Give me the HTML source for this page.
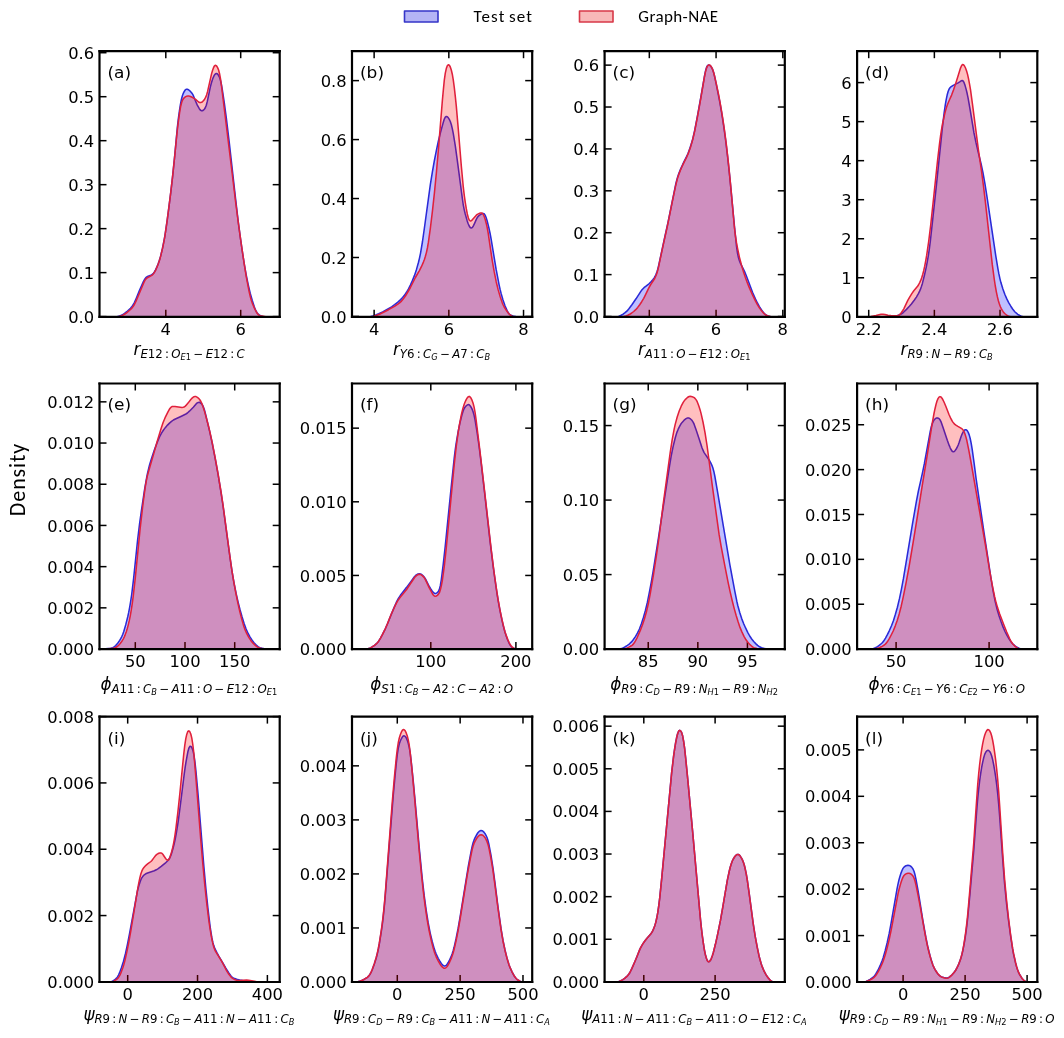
<!DOCTYPE html>
<html><head><meta charset="utf-8"><title>Density plots</title>
<style>html,body{margin:0;padding:0;background:#fff;}body{width:1064px;height:1038px;overflow:hidden;}svg{display:block;}</style>
</head><body>
<svg width="1064" height="1038" viewBox="0 0 1064 1038" version="1.1">
 
 <defs>
  <style type="text/css">*{stroke-linejoin: round; stroke-linecap: butt}</style>
 </defs>
 <g id="figure_1">
  <g id="patch_1">
   <path d="M 0 1038 L 1064 1038 L 1064 0 L 0 0 z" style="fill: #ffffff"/>
  </g>
  <g id="axes_1">
   <g id="patch_2">
    <path d="M 99.5 316.8 L 279.7 316.8 L 279.7 51.2 L 99.5 51.2 z" style="fill: #ffffff"/>
   </g>
   <g id="patch_3">
    <path d="M 110.5 316.8 L 116.5 316.5 L 117.5 316.4 L 118.5 316.3 L 119.5 316 L 120.5 315.7 L 121.5 315.2 L 122.5 314.7 L 123.5 314.1 L 124.5 313.4 L 125.5 312.7 L 126.5 311.9 L 127.5 311 L 128.5 310.1 L 129.5 309.2 L 130.5 308.2 L 131.5 307.1 L 132.5 305.8 L 133.5 304.3 L 134.5 302.3 L 135.5 300.1 L 136.5 297.7 L 137.5 295.3 L 138.5 292.8 L 139.5 290.4 L 140.5 288.2 L 141.5 285.9 L 142.5 283.6 L 143.5 281.4 L 144.5 279.5 L 145.5 278.1 L 146.5 277.1 L 147.5 276.5 L 148.5 276.1 L 149.5 275.7 L 150.5 275.3 L 151.5 274.9 L 152.5 274.2 L 153.4 273.3 L 154.4 272 L 155.4 270.2 L 156.4 268.2 L 157.4 265.9 L 158.4 263.3 L 159.4 260.3 L 160.4 256.9 L 161.4 253 L 162.4 248.7 L 163.4 243.9 L 164.4 238.6 L 165.4 232.7 L 166.4 226 L 167.4 218.8 L 168.4 211.3 L 169.4 203.5 L 170.4 195.5 L 171.4 187.2 L 172.4 178.4 L 173.4 169.1 L 174.4 159 L 175.4 148.1 L 176.4 137.2 L 177.4 127.1 L 178.4 118.4 L 179.4 111 L 180.4 104.6 L 181.4 99.5 L 182.4 95.8 L 183.4 93.1 L 184.4 91.2 L 185.4 89.8 L 186.4 89.2 L 187.4 89.3 L 188.4 89.7 L 189.4 90.5 L 190.4 91.4 L 191.4 92.5 L 192.4 93.9 L 193.4 95.7 L 194.3 98 L 195.3 100.5 L 196.3 103 L 197.3 105.1 L 198.3 107 L 199.3 108.7 L 200.3 110 L 201.3 110.7 L 202.3 110.8 L 203.3 110.3 L 204.3 109.2 L 205.3 107.7 L 206.3 105.2 L 207.3 101.4 L 208.3 96.6 L 209.3 91.5 L 210.3 87.1 L 211.3 83.3 L 212.3 80 L 213.3 77.3 L 214.3 75.2 L 215.3 74 L 216.3 73.5 L 217.3 73.8 L 218.3 75 L 219.3 76.8 L 220.3 79.7 L 221.3 83.9 L 222.3 89.6 L 223.3 96.1 L 224.3 102.9 L 225.3 110.2 L 226.3 117.8 L 227.3 125.9 L 228.3 134.3 L 229.3 142.8 L 230.3 151.5 L 231.3 160.4 L 232.3 169.5 L 233.3 178.6 L 234.3 187.6 L 235.3 196.3 L 236.2 204.8 L 237.2 213.1 L 238.2 221.3 L 239.2 229.1 L 240.2 236.6 L 241.2 243.8 L 242.2 250.6 L 243.2 257.2 L 244.2 263.5 L 245.2 269.4 L 246.2 274.8 L 247.2 279.9 L 248.2 284.6 L 249.2 289.1 L 250.2 293.2 L 251.2 296.9 L 252.2 300.3 L 253.2 303.5 L 254.2 306.5 L 255.2 309.2 L 256.2 311.4 L 257.2 313 L 258.2 314.1 L 259.2 314.9 L 260.2 315.5 L 261.2 316 L 262.2 316.3 L 263.2 316.5 L 269.2 316.8 L 269.2 316.8 z" clip-path="url(#p1c7ab770ff)" style="fill: #0000ff; opacity: 0.25"/>
   </g>
   <g id="line2d_1">
    <path d="M 110.5 316.8 L 117.5 316.4 L 119.5 316 L 121.5 315.2 L 123.5 314.1 L 125.5 312.7 L 127.5 311 L 130.5 308.2 L 131.5 307.1 L 132.5 305.8 L 133.5 304.3 L 134.5 302.3 L 136.5 297.7 L 139.5 290.4 L 143.5 281.4 L 144.5 279.5 L 145.5 278.1 L 146.5 277.1 L 147.5 276.5 L 149.5 275.7 L 151.5 274.9 L 152.5 274.2 L 153.4 273.3 L 154.4 272 L 155.4 270.2 L 156.4 268.2 L 158.4 263.3 L 159.4 260.3 L 160.4 256.9 L 162.4 248.7 L 164.4 238.6 L 165.4 232.7 L 167.4 218.8 L 170.4 195.5 L 172.4 178.4 L 174.4 159 L 177.4 127.1 L 178.4 118.4 L 179.4 111 L 180.4 104.6 L 181.4 99.5 L 182.4 95.8 L 183.4 93.1 L 184.4 91.2 L 185.4 89.8 L 186.4 89.2 L 187.4 89.3 L 188.4 89.7 L 189.4 90.5 L 190.4 91.4 L 191.4 92.5 L 192.4 93.9 L 193.4 95.7 L 195.3 100.5 L 197.3 105.1 L 199.3 108.7 L 200.3 110 L 201.3 110.7 L 202.3 110.8 L 203.3 110.3 L 204.3 109.2 L 205.3 107.7 L 206.3 105.2 L 207.3 101.4 L 210.3 87.1 L 211.3 83.3 L 212.3 80 L 213.3 77.3 L 214.3 75.2 L 215.3 74 L 216.3 73.5 L 217.3 73.8 L 218.3 75 L 219.3 76.8 L 220.3 79.7 L 221.3 83.9 L 222.3 89.6 L 224.3 102.9 L 226.3 117.8 L 229.3 142.8 L 232.3 169.5 L 235.3 196.3 L 238.2 221.3 L 240.2 236.6 L 242.2 250.6 L 244.2 263.5 L 246.2 274.8 L 248.2 284.6 L 250.2 293.2 L 252.2 300.3 L 254.2 306.5 L 255.2 309.2 L 256.2 311.4 L 257.2 313 L 258.2 314.1 L 259.2 314.9 L 260.2 315.5 L 261.2 316 L 262.2 316.3 L 263.2 316.5 L 269.2 316.8 L 269.2 316.8" clip-path="url(#p1c7ab770ff)" style="fill: none; stroke: #2a2ad8; stroke-width: 1.55; stroke-linecap: square"/>
   </g>
   <g id="matplotlib.axis_1">
    <g id="xtick_1">
     <g id="line2d_2">
      
      <g>
       <path d="M 0 0 L 0 -7" transform="translate(165.8 316.8)" style="stroke: #000000; stroke-width: 1.5"/>
      </g>
     </g>
     <g id="line2d_3">
      
      <g>
       <path d="M 0 0 L 0 7" transform="translate(165.8 51.2)" style="stroke: #000000; stroke-width: 1.5"/>
      </g>
     </g>
     <g id="text_1">
      <text style="font-size: 16px; font-family: 'DejaVu Sans', sans-serif; text-anchor: middle" x="165.8" y="334.9575" transform="translate(165.8 334.9575) scale(1.02 1) translate(-165.8 -334.9575)">4</text>
     </g>
    </g>
    <g id="xtick_2">
     <g id="line2d_4">
      <g>
       <path d="M 0 0 L 0 -7" transform="translate(240.7 316.8)" style="stroke: #000000; stroke-width: 1.5"/>
      </g>
     </g>
     <g id="line2d_5">
      <g>
       <path d="M 0 0 L 0 7" transform="translate(240.7 51.2)" style="stroke: #000000; stroke-width: 1.5"/>
      </g>
     </g>
     <g id="text_2">
      <text style="font-size: 16px; font-family: 'DejaVu Sans', sans-serif; text-anchor: middle" x="240.7" y="334.9575" transform="translate(240.7 334.9575) scale(1.02 1) translate(-240.7 -334.9575)">6</text>
     </g>
    </g>
    <g id="text_3">
     <g transform="translate(133.572 355.44025)">
      <text><tspan x="0" y="-0.484375" style="font-style: oblique; font-size: 16.8px; font-family: 'DejaVu Sans', sans-serif">r</tspan><tspan x="6.886475" y="2.304688" style="font-style: oblique; font-size: 11.76px; font-family: 'DejaVu Sans', sans-serif">E</tspan><tspan x="14.294751" y="2.304688" style="font-size: 11.76px; font-family: 'DejaVu Sans', sans-serif">1</tspan><tspan x="21.754553" y="2.304688" style="font-size: 11.76px; font-family: 'DejaVu Sans', sans-serif">2</tspan><tspan x="31.498669" y="2.304688" style="font-size: 11.76px; font-family: 'DejaVu Sans', sans-serif">:</tspan><tspan x="37.733301" y="2.304688" style="font-style: oblique; font-size: 11.76px; font-family: 'DejaVu Sans', sans-serif">O</tspan><tspan x="46.962158" y="4.257031" style="font-style: oblique; font-size: 8.232px; font-family: 'DejaVu Sans', sans-serif">E</tspan><tspan x="52.147952" y="4.257031" style="font-size: 8.232px; font-family: 'DejaVu Sans', sans-serif">1</tspan><tspan x="59.979518" y="2.304688" style="font-size: 11.76px; font-family: 'DejaVu Sans', sans-serif">−</tspan><tspan x="72.088099" y="2.304688" style="font-style: oblique; font-size: 11.76px; font-family: 'DejaVu Sans', sans-serif">E</tspan><tspan x="79.496376" y="2.304688" style="font-size: 11.76px; font-family: 'DejaVu Sans', sans-serif">1</tspan><tspan x="86.956178" y="2.304688" style="font-size: 11.76px; font-family: 'DejaVu Sans', sans-serif">2</tspan><tspan x="96.700294" y="2.304688" style="font-size: 11.76px; font-family: 'DejaVu Sans', sans-serif">:</tspan><tspan x="102.934926" y="2.304688" style="font-style: oblique; font-size: 11.76px; font-family: 'DejaVu Sans', sans-serif">C</tspan></text>
     </g>
    </g>
   </g>
   <g id="matplotlib.axis_2">
    <g id="ytick_1">
     <g id="line2d_6">
      
      <g>
       <path d="M 0 0 L 7 0" transform="translate(99.5 316.6)" style="stroke: #000000; stroke-width: 1.5"/>
      </g>
     </g>
     <g id="line2d_7">
      
      <g>
       <path d="M 0 0 L -7 0" transform="translate(279.7 316.6)" style="stroke: #000000; stroke-width: 1.5"/>
      </g>
     </g>
     <g id="text_4">
      <text style="font-size: 16px; font-family: 'DejaVu Sans', sans-serif; text-anchor: end" x="94.1" y="322.67875" transform="translate(94.1 322.67875) scale(1.02 1) translate(-94.1 -322.67875)">0.0</text>
     </g>
    </g>
    <g id="ytick_2">
     <g id="line2d_8">
      <g>
       <path d="M 0 0 L 7 0" transform="translate(99.5 272.62)" style="stroke: #000000; stroke-width: 1.5"/>
      </g>
     </g>
     <g id="line2d_9">
      <g>
       <path d="M 0 0 L -7 0" transform="translate(279.7 272.62)" style="stroke: #000000; stroke-width: 1.5"/>
      </g>
     </g>
     <g id="text_5">
      <text style="font-size: 16px; font-family: 'DejaVu Sans', sans-serif; text-anchor: end" x="94.1" y="278.69875" transform="translate(94.1 278.69875) scale(1.02 1) translate(-94.1 -278.69875)">0.1</text>
     </g>
    </g>
    <g id="ytick_3">
     <g id="line2d_10">
      <g>
       <path d="M 0 0 L 7 0" transform="translate(99.5 228.64)" style="stroke: #000000; stroke-width: 1.5"/>
      </g>
     </g>
     <g id="line2d_11">
      <g>
       <path d="M 0 0 L -7 0" transform="translate(279.7 228.64)" style="stroke: #000000; stroke-width: 1.5"/>
      </g>
     </g>
     <g id="text_6">
      <text style="font-size: 16px; font-family: 'DejaVu Sans', sans-serif; text-anchor: end" x="94.1" y="234.71875" transform="translate(94.1 234.71875) scale(1.02 1) translate(-94.1 -234.71875)">0.2</text>
     </g>
    </g>
    <g id="ytick_4">
     <g id="line2d_12">
      <g>
       <path d="M 0 0 L 7 0" transform="translate(99.5 184.66)" style="stroke: #000000; stroke-width: 1.5"/>
      </g>
     </g>
     <g id="line2d_13">
      <g>
       <path d="M 0 0 L -7 0" transform="translate(279.7 184.66)" style="stroke: #000000; stroke-width: 1.5"/>
      </g>
     </g>
     <g id="text_7">
      <text style="font-size: 16px; font-family: 'DejaVu Sans', sans-serif; text-anchor: end" x="94.1" y="190.73875" transform="translate(94.1 190.73875) scale(1.02 1) translate(-94.1 -190.73875)">0.3</text>
     </g>
    </g>
    <g id="ytick_5">
     <g id="line2d_14">
      <g>
       <path d="M 0 0 L 7 0" transform="translate(99.5 140.68)" style="stroke: #000000; stroke-width: 1.5"/>
      </g>
     </g>
     <g id="line2d_15">
      <g>
       <path d="M 0 0 L -7 0" transform="translate(279.7 140.68)" style="stroke: #000000; stroke-width: 1.5"/>
      </g>
     </g>
     <g id="text_8">
      <text style="font-size: 16px; font-family: 'DejaVu Sans', sans-serif; text-anchor: end" x="94.1" y="146.75875" transform="translate(94.1 146.75875) scale(1.02 1) translate(-94.1 -146.75875)">0.4</text>
     </g>
    </g>
    <g id="ytick_6">
     <g id="line2d_16">
      <g>
       <path d="M 0 0 L 7 0" transform="translate(99.5 96.7)" style="stroke: #000000; stroke-width: 1.5"/>
      </g>
     </g>
     <g id="line2d_17">
      <g>
       <path d="M 0 0 L -7 0" transform="translate(279.7 96.7)" style="stroke: #000000; stroke-width: 1.5"/>
      </g>
     </g>
     <g id="text_9">
      <text style="font-size: 16px; font-family: 'DejaVu Sans', sans-serif; text-anchor: end" x="94.1" y="102.77875" transform="translate(94.1 102.77875) scale(1.02 1) translate(-94.1 -102.77875)">0.5</text>
     </g>
    </g>
    <g id="ytick_7">
     <g id="line2d_18">
      <g>
       <path d="M 0 0 L 7 0" transform="translate(99.5 52.72)" style="stroke: #000000; stroke-width: 1.5"/>
      </g>
     </g>
     <g id="line2d_19">
      <g>
       <path d="M 0 0 L -7 0" transform="translate(279.7 52.72)" style="stroke: #000000; stroke-width: 1.5"/>
      </g>
     </g>
     <g id="text_10">
      <text style="font-size: 16px; font-family: 'DejaVu Sans', sans-serif; text-anchor: end" x="94.1" y="58.79875" transform="translate(94.1 58.79875) scale(1.02 1) translate(-94.1 -58.79875)">0.6</text>
     </g>
    </g>
   </g>
   <g id="patch_4">
    <path d="M 111.9 316.8 L 117.9 316.5 L 118.9 316.4 L 119.9 316.3 L 120.9 316 L 121.9 315.6 L 122.9 315.2 L 123.9 314.6 L 124.9 314 L 125.9 313.3 L 126.9 312.6 L 127.9 311.8 L 128.9 310.9 L 129.9 310 L 130.9 309.1 L 131.9 308.1 L 132.9 306.8 L 133.9 305.3 L 134.9 303.5 L 135.9 301.4 L 136.9 299.2 L 137.9 296.9 L 138.9 294.6 L 139.8 292.3 L 140.8 290 L 141.8 287.5 L 142.8 285 L 143.8 282.6 L 144.8 280.6 L 145.8 279.1 L 146.8 278.2 L 147.8 277.5 L 148.8 277 L 149.8 276.5 L 150.8 276 L 151.8 275.4 L 152.8 274.5 L 153.8 273.3 L 154.8 271.7 L 155.8 269.8 L 156.8 267.6 L 157.8 265.1 L 158.8 262.3 L 159.8 259.2 L 160.8 255.6 L 161.8 251.5 L 162.8 247.1 L 163.8 242.2 L 164.8 236.7 L 165.8 230.5 L 166.7 223.7 L 167.7 216.4 L 168.7 208.7 L 169.7 200.9 L 170.7 192.7 L 171.7 184.2 L 172.7 175.4 L 173.7 166.1 L 174.7 156.1 L 175.7 145.8 L 176.7 135.7 L 177.7 126.7 L 178.7 118.8 L 179.7 111.9 L 180.7 106.2 L 181.7 102.2 L 182.7 99.8 L 183.7 98.3 L 184.7 97.4 L 185.7 96.6 L 186.7 96.2 L 187.7 96 L 188.7 96 L 189.7 96.2 L 190.7 96.6 L 191.7 97 L 192.6 97.5 L 193.6 98.1 L 194.6 98.7 L 195.6 99.4 L 196.6 100.2 L 197.6 101.2 L 198.6 102 L 199.6 102.5 L 200.6 102.6 L 201.6 102.3 L 202.6 101.6 L 203.6 100.5 L 204.6 99.2 L 205.6 97.4 L 206.6 95 L 207.6 91.4 L 208.6 86.9 L 209.6 82 L 210.6 77.5 L 211.6 73.6 L 212.6 70.2 L 213.6 67.5 L 214.6 65.7 L 215.6 65.3 L 216.6 66 L 217.6 67.6 L 218.6 70 L 219.5 73.5 L 220.5 78.9 L 221.5 86 L 222.5 94.1 L 223.5 102.4 L 224.5 110.4 L 225.5 118.3 L 226.5 126.2 L 227.5 134.2 L 228.5 142.3 L 229.5 150.5 L 230.5 158.9 L 231.5 167.4 L 232.5 176 L 233.5 184.5 L 234.5 192.9 L 235.5 201 L 236.5 208.8 L 237.5 216.5 L 238.5 224 L 239.5 231.3 L 240.5 238.4 L 241.5 245.5 L 242.5 252.4 L 243.5 259.1 L 244.5 265.6 L 245.4 271.7 L 246.4 277.4 L 247.4 282.8 L 248.4 287.9 L 249.4 292.8 L 250.4 297 L 251.4 300.5 L 252.4 303.4 L 253.4 305.9 L 254.4 308.1 L 255.4 310.2 L 256.4 312 L 257.4 313.6 L 258.4 314.7 L 259.4 315.5 L 260.4 315.8 L 266.4 316.8 L 266.4 316.8 z" clip-path="url(#p1c7ab770ff)" style="fill: #ff0000; opacity: 0.25"/>
   </g>
   <g id="line2d_20">
    <path d="M 111.9 316.8 L 118.9 316.4 L 120.9 316 L 122.9 315.2 L 124.9 314 L 126.9 312.6 L 129.9 310 L 131.9 308.1 L 132.9 306.8 L 133.9 305.3 L 135.9 301.4 L 139.8 292.3 L 141.8 287.5 L 143.8 282.6 L 144.8 280.6 L 145.8 279.1 L 146.8 278.2 L 147.8 277.5 L 151.8 275.4 L 152.8 274.5 L 153.8 273.3 L 154.8 271.7 L 155.8 269.8 L 157.8 265.1 L 158.8 262.3 L 159.8 259.2 L 160.8 255.6 L 162.8 247.1 L 163.8 242.2 L 164.8 236.7 L 166.7 223.7 L 168.7 208.7 L 170.7 192.7 L 172.7 175.4 L 174.7 156.1 L 176.7 135.7 L 177.7 126.7 L 178.7 118.8 L 179.7 111.9 L 180.7 106.2 L 181.7 102.2 L 182.7 99.8 L 183.7 98.3 L 184.7 97.4 L 185.7 96.6 L 186.7 96.2 L 187.7 96 L 188.7 96 L 189.7 96.2 L 191.7 97 L 193.6 98.1 L 195.6 99.4 L 198.6 102 L 199.6 102.5 L 200.6 102.6 L 201.6 102.3 L 202.6 101.6 L 203.6 100.5 L 204.6 99.2 L 205.6 97.4 L 206.6 95 L 207.6 91.4 L 211.6 73.6 L 212.6 70.2 L 213.6 67.5 L 214.6 65.7 L 215.6 65.3 L 216.6 66 L 217.6 67.6 L 218.6 70 L 219.5 73.5 L 220.5 78.9 L 221.5 86 L 232.5 176 L 235.5 201 L 238.5 224 L 241.5 245.5 L 244.5 265.6 L 246.4 277.4 L 248.4 287.9 L 249.4 292.8 L 250.4 297 L 251.4 300.5 L 252.4 303.4 L 254.4 308.1 L 256.4 312 L 257.4 313.6 L 258.4 314.7 L 259.4 315.5 L 260.4 315.8 L 266.4 316.8 L 266.4 316.8" clip-path="url(#p1c7ab770ff)" style="fill: none; stroke: #e0203c; stroke-width: 1.55; stroke-linecap: square"/>
   </g>
   <g id="text_11">
    <text style="font-size: 16.5px; font-family: 'DejaVu Sans', sans-serif; text-anchor: start" x="107.5" y="78.2" transform="translate(107.5 78.2) scale(1.03 1) translate(-107.5 -78.2)">(a)</text>
   </g>
   <g id="patch_5">
    <path d="M 99.5 316.8 L 99.5 51.2" style="fill: none; stroke: #000000; stroke-width: 2.2; stroke-linejoin: miter; stroke-linecap: square"/>
   </g>
   <g id="patch_6">
    <path d="M 279.7 316.8 L 279.7 51.2" style="fill: none; stroke: #000000; stroke-width: 2.2; stroke-linejoin: miter; stroke-linecap: square"/>
   </g>
   <g id="patch_7">
    <path d="M 99.5 316.8 L 279.7 316.8" style="fill: none; stroke: #000000; stroke-width: 2.2; stroke-linejoin: miter; stroke-linecap: square"/>
   </g>
   <g id="patch_8">
    <path d="M 99.5 51.2 L 279.7 51.2" style="fill: none; stroke: #000000; stroke-width: 2.2; stroke-linejoin: miter; stroke-linecap: square"/>
   </g>
  </g>
  <g id="axes_2">
   <g id="patch_9">
    <path d="M 352 316.8 L 532.2 316.8 L 532.2 51.2 L 352 51.2 z" style="fill: #ffffff"/>
   </g>
   <g id="patch_10">
    <path d="M 364.7 316.8 L 370.7 316.4 L 371.7 316.3 L 372.7 316 L 373.7 315.7 L 374.7 315.4 L 375.7 315 L 376.7 314.7 L 377.7 314.3 L 378.7 313.8 L 379.7 313.4 L 380.7 312.9 L 381.7 312.4 L 382.7 311.9 L 383.7 311.4 L 384.7 310.9 L 385.6 310.3 L 386.6 309.7 L 387.6 309.2 L 388.6 308.6 L 389.6 308 L 390.6 307.4 L 391.6 306.8 L 392.6 306.1 L 393.6 305.4 L 394.6 304.7 L 395.6 304 L 396.6 303.2 L 397.6 302.3 L 398.6 301.5 L 399.6 300.6 L 400.6 299.6 L 401.6 298.6 L 402.6 297.5 L 403.6 296.4 L 404.6 295.1 L 405.5 293.8 L 406.5 292.3 L 407.5 290.6 L 408.5 288.9 L 409.5 286.9 L 410.5 284.9 L 411.5 282.7 L 412.5 280.4 L 413.5 278 L 414.5 275.4 L 415.5 272.5 L 416.5 269.4 L 417.5 266 L 418.5 262.3 L 419.5 258.1 L 420.5 253.3 L 421.5 247.7 L 422.5 241.5 L 423.5 234.9 L 424.4 228 L 425.4 220.6 L 426.4 213 L 427.4 205.3 L 428.4 197.8 L 429.4 190.8 L 430.4 184.2 L 431.4 177.8 L 432.4 171.8 L 433.4 166 L 434.4 160.5 L 435.4 155.3 L 436.4 150.3 L 437.4 145.5 L 438.4 141 L 439.4 136.8 L 440.4 132.9 L 441.4 129.1 L 442.4 125.4 L 443.4 121.9 L 444.3 119.1 L 445.3 117.2 L 446.3 116.5 L 447.3 116.8 L 448.3 117.8 L 449.3 119.4 L 450.3 121.5 L 451.3 124.5 L 452.3 128.6 L 453.3 133.7 L 454.3 139.5 L 455.3 145.8 L 456.3 152.8 L 457.3 160.3 L 458.3 167.9 L 459.3 175.6 L 460.3 183.3 L 461.3 191 L 462.3 198.2 L 463.2 204.5 L 464.2 209.6 L 465.2 213.8 L 466.2 217.5 L 467.2 220.9 L 468.2 223.7 L 469.2 226 L 470.2 227.5 L 471.2 228 L 472.2 227.6 L 473.2 226.2 L 474.2 224.2 L 475.2 221.9 L 476.2 219.6 L 477.2 217.7 L 478.2 216.3 L 479.2 215.4 L 480.2 214.6 L 481.2 214.1 L 482.2 213.6 L 483.1 213.5 L 484.1 213.8 L 485.1 215.1 L 486.1 217.5 L 487.1 220.8 L 488.1 224.6 L 489.1 228.8 L 490.1 233.5 L 491.1 238.9 L 492.1 245 L 493.1 251.4 L 494.1 257.7 L 495.1 263.6 L 496.1 269.2 L 497.1 274.6 L 498.1 279.8 L 499.1 284.8 L 500.1 289.4 L 501.1 293.4 L 502 296.9 L 503 300 L 504 302.9 L 505 305.7 L 506 308.2 L 507 310.4 L 508 312.3 L 509 313.7 L 510 314.7 L 511 315.3 L 512 315.7 L 513 316 L 514 316.3 L 515 316.4 L 516 316.5 L 522 316.8 L 522 316.8 z" clip-path="url(#pcd737baae6)" style="fill: #0000ff; opacity: 0.25"/>
   </g>
   <g id="line2d_21">
    <path d="M 364.7 316.8 L 370.7 316.4 L 372.7 316 L 375.7 315 L 378.7 313.8 L 382.7 311.9 L 386.6 309.7 L 391.6 306.8 L 394.6 304.7 L 397.6 302.3 L 400.6 299.6 L 402.6 297.5 L 404.6 295.1 L 406.5 292.3 L 408.5 288.9 L 410.5 284.9 L 412.5 280.4 L 414.5 275.4 L 416.5 269.4 L 418.5 262.3 L 419.5 258.1 L 420.5 253.3 L 422.5 241.5 L 424.4 228 L 430.4 184.2 L 432.4 171.8 L 434.4 160.5 L 436.4 150.3 L 438.4 141 L 440.4 132.9 L 443.4 121.9 L 444.3 119.1 L 445.3 117.2 L 446.3 116.5 L 447.3 116.8 L 448.3 117.8 L 449.3 119.4 L 450.3 121.5 L 451.3 124.5 L 452.3 128.6 L 453.3 133.7 L 455.3 145.8 L 457.3 160.3 L 462.3 198.2 L 463.2 204.5 L 464.2 209.6 L 465.2 213.8 L 467.2 220.9 L 468.2 223.7 L 469.2 226 L 470.2 227.5 L 471.2 228 L 472.2 227.6 L 473.2 226.2 L 474.2 224.2 L 476.2 219.6 L 477.2 217.7 L 478.2 216.3 L 479.2 215.4 L 481.2 214.1 L 482.2 213.6 L 483.1 213.5 L 484.1 213.8 L 485.1 215.1 L 486.1 217.5 L 487.1 220.8 L 489.1 228.8 L 490.1 233.5 L 491.1 238.9 L 496.1 269.2 L 499.1 284.8 L 500.1 289.4 L 501.1 293.4 L 503 300 L 505 305.7 L 507 310.4 L 508 312.3 L 509 313.7 L 510 314.7 L 511 315.3 L 513 316 L 515 316.4 L 516 316.5 L 522 316.8 L 522 316.8" clip-path="url(#pcd737baae6)" style="fill: none; stroke: #2a2ad8; stroke-width: 1.55; stroke-linecap: square"/>
   </g>
   <g id="matplotlib.axis_3">
    <g id="xtick_3">
     <g id="line2d_22">
      <g>
       <path d="M 0 0 L 0 -7" transform="translate(374.133333 316.8)" style="stroke: #000000; stroke-width: 1.5"/>
      </g>
     </g>
     <g id="line2d_23">
      <g>
       <path d="M 0 0 L 0 7" transform="translate(374.133333 51.2)" style="stroke: #000000; stroke-width: 1.5"/>
      </g>
     </g>
     <g id="text_12">
      <text style="font-size: 16px; font-family: 'DejaVu Sans', sans-serif; text-anchor: middle" x="374.133333" y="334.9575" transform="translate(374.133333 334.9575) scale(1.02 1) translate(-374.133333 -334.9575)">4</text>
     </g>
    </g>
    <g id="xtick_4">
     <g id="line2d_24">
      <g>
       <path d="M 0 0 L 0 -7" transform="translate(448.833333 316.8)" style="stroke: #000000; stroke-width: 1.5"/>
      </g>
     </g>
     <g id="line2d_25">
      <g>
       <path d="M 0 0 L 0 7" transform="translate(448.833333 51.2)" style="stroke: #000000; stroke-width: 1.5"/>
      </g>
     </g>
     <g id="text_13">
      <text style="font-size: 16px; font-family: 'DejaVu Sans', sans-serif; text-anchor: middle" x="448.833333" y="334.9575" transform="translate(448.833333 334.9575) scale(1.02 1) translate(-448.833333 -334.9575)">6</text>
     </g>
    </g>
    <g id="xtick_5">
     <g id="line2d_26">
      <g>
       <path d="M 0 0 L 0 -7" transform="translate(523.533333 316.8)" style="stroke: #000000; stroke-width: 1.5"/>
      </g>
     </g>
     <g id="line2d_27">
      <g>
       <path d="M 0 0 L 0 7" transform="translate(523.533333 51.2)" style="stroke: #000000; stroke-width: 1.5"/>
      </g>
     </g>
     <g id="text_14">
      <text style="font-size: 16px; font-family: 'DejaVu Sans', sans-serif; text-anchor: middle" x="523.533333" y="334.9575" transform="translate(523.533333 334.9575) scale(1.02 1) translate(-523.533333 -334.9575)">8</text>
     </g>
    </g>
    <g id="text_15">
     <g transform="translate(392.96 355.27225)">
      <text><tspan x="0" y="-0.484375" style="font-style: oblique; font-size: 16.8px; font-family: 'DejaVu Sans', sans-serif">r</tspan><tspan x="6.886475" y="2.304688" style="font-style: oblique; font-size: 11.76px; font-family: 'DejaVu Sans', sans-serif">Y</tspan><tspan x="14.048572" y="2.304688" style="font-size: 11.76px; font-family: 'DejaVu Sans', sans-serif">6</tspan><tspan x="23.792688" y="2.304688" style="font-size: 11.76px; font-family: 'DejaVu Sans', sans-serif">:</tspan><tspan x="30.027319" y="2.304688" style="font-style: oblique; font-size: 11.76px; font-family: 'DejaVu Sans', sans-serif">C</tspan><tspan x="38.214209" y="4.257031" style="font-style: oblique; font-size: 8.232px; font-family: 'DejaVu Sans', sans-serif">G</tspan><tspan x="47.183925" y="2.304688" style="font-size: 11.76px; font-family: 'DejaVu Sans', sans-serif">−</tspan><tspan x="59.292506" y="2.304688" style="font-style: oblique; font-size: 11.76px; font-family: 'DejaVu Sans', sans-serif">A</tspan><tspan x="67.313368" y="2.304688" style="font-size: 11.76px; font-family: 'DejaVu Sans', sans-serif">7</tspan><tspan x="77.057484" y="2.304688" style="font-size: 11.76px; font-family: 'DejaVu Sans', sans-serif">:</tspan><tspan x="83.292115" y="2.304688" style="font-style: oblique; font-size: 11.76px; font-family: 'DejaVu Sans', sans-serif">C</tspan><tspan x="91.479005" y="4.257031" style="font-style: oblique; font-size: 8.232px; font-family: 'DejaVu Sans', sans-serif">B</tspan></text>
     </g>
    </g>
   </g>
   <g id="matplotlib.axis_4">
    <g id="ytick_8">
     <g id="line2d_28">
      <g>
       <path d="M 0 0 L 7 0" transform="translate(352 316.46)" style="stroke: #000000; stroke-width: 1.5"/>
      </g>
     </g>
     <g id="line2d_29">
      <g>
       <path d="M 0 0 L -7 0" transform="translate(532.2 316.46)" style="stroke: #000000; stroke-width: 1.5"/>
      </g>
     </g>
     <g id="text_16">
      <text style="font-size: 16px; font-family: 'DejaVu Sans', sans-serif; text-anchor: end" x="346.6" y="322.53875" transform="translate(346.6 322.53875) scale(1.02 1) translate(-346.6 -322.53875)">0.0</text>
     </g>
    </g>
    <g id="ytick_9">
     <g id="line2d_30">
      <g>
       <path d="M 0 0 L 7 0" transform="translate(352 257.5)" style="stroke: #000000; stroke-width: 1.5"/>
      </g>
     </g>
     <g id="line2d_31">
      <g>
       <path d="M 0 0 L -7 0" transform="translate(532.2 257.5)" style="stroke: #000000; stroke-width: 1.5"/>
      </g>
     </g>
     <g id="text_17">
      <text style="font-size: 16px; font-family: 'DejaVu Sans', sans-serif; text-anchor: end" x="346.6" y="263.57875" transform="translate(346.6 263.57875) scale(1.02 1) translate(-346.6 -263.57875)">0.2</text>
     </g>
    </g>
    <g id="ytick_10">
     <g id="line2d_32">
      <g>
       <path d="M 0 0 L 7 0" transform="translate(352 198.54)" style="stroke: #000000; stroke-width: 1.5"/>
      </g>
     </g>
     <g id="line2d_33">
      <g>
       <path d="M 0 0 L -7 0" transform="translate(532.2 198.54)" style="stroke: #000000; stroke-width: 1.5"/>
      </g>
     </g>
     <g id="text_18">
      <text style="font-size: 16px; font-family: 'DejaVu Sans', sans-serif; text-anchor: end" x="346.6" y="204.61875" transform="translate(346.6 204.61875) scale(1.02 1) translate(-346.6 -204.61875)">0.4</text>
     </g>
    </g>
    <g id="ytick_11">
     <g id="line2d_34">
      <g>
       <path d="M 0 0 L 7 0" transform="translate(352 139.58)" style="stroke: #000000; stroke-width: 1.5"/>
      </g>
     </g>
     <g id="line2d_35">
      <g>
       <path d="M 0 0 L -7 0" transform="translate(532.2 139.58)" style="stroke: #000000; stroke-width: 1.5"/>
      </g>
     </g>
     <g id="text_19">
      <text style="font-size: 16px; font-family: 'DejaVu Sans', sans-serif; text-anchor: end" x="346.6" y="145.65875" transform="translate(346.6 145.65875) scale(1.02 1) translate(-346.6 -145.65875)">0.6</text>
     </g>
    </g>
    <g id="ytick_12">
     <g id="line2d_36">
      <g>
       <path d="M 0 0 L 7 0" transform="translate(352 80.62)" style="stroke: #000000; stroke-width: 1.5"/>
      </g>
     </g>
     <g id="line2d_37">
      <g>
       <path d="M 0 0 L -7 0" transform="translate(532.2 80.62)" style="stroke: #000000; stroke-width: 1.5"/>
      </g>
     </g>
     <g id="text_20">
      <text style="font-size: 16px; font-family: 'DejaVu Sans', sans-serif; text-anchor: end" x="346.6" y="86.69875" transform="translate(346.6 86.69875) scale(1.02 1) translate(-346.6 -86.69875)">0.8</text>
     </g>
    </g>
   </g>
   <g id="patch_11">
    <path d="M 367.5 316.8 L 373.5 316.4 L 374.5 316.2 L 375.5 315.8 L 376.5 315.4 L 377.5 315 L 378.5 314.6 L 379.5 314.2 L 380.5 313.7 L 381.5 313.3 L 382.5 312.8 L 383.5 312.3 L 384.5 311.8 L 385.5 311.3 L 386.5 310.8 L 387.5 310.2 L 388.5 309.7 L 389.5 309.2 L 390.5 308.6 L 391.5 308 L 392.5 307.5 L 393.5 306.9 L 394.5 306.3 L 395.5 305.7 L 396.5 305.1 L 397.5 304.4 L 398.5 303.7 L 399.5 302.9 L 400.5 302 L 401.5 301.1 L 402.5 300 L 403.4 298.8 L 404.4 297.5 L 405.4 296 L 406.4 294.4 L 407.4 292.7 L 408.4 291 L 409.4 289.3 L 410.4 287.5 L 411.4 285.5 L 412.4 283.5 L 413.4 281.5 L 414.4 279.4 L 415.4 277.5 L 416.4 275.7 L 417.4 274 L 418.4 272.4 L 419.4 270.6 L 420.4 268.8 L 421.4 266.7 L 422.4 264.5 L 423.4 262.1 L 424.4 259.4 L 425.4 256.3 L 426.4 252.6 L 427.4 248 L 428.4 242.2 L 429.4 235.3 L 430.4 227.8 L 431.4 219.7 L 432.4 211.3 L 433.4 202.4 L 434.4 193 L 435.4 183 L 436.4 172.5 L 437.4 161.4 L 438.4 149.6 L 439.4 137 L 440.4 124.1 L 441.4 111.7 L 442.4 100.1 L 443.4 89.4 L 444.3 80.2 L 445.3 73.2 L 446.3 68.6 L 447.3 65.8 L 448.3 64.7 L 449.3 65.2 L 450.3 67 L 451.3 70 L 452.3 74.2 L 453.3 80.1 L 454.3 87.6 L 455.3 96.4 L 456.3 106.2 L 457.3 117.3 L 458.3 129.4 L 459.3 141.8 L 460.3 154 L 461.3 165.8 L 462.3 177.1 L 463.3 187.2 L 464.3 195.6 L 465.3 202.6 L 466.3 208.7 L 467.3 213.9 L 468.3 217.8 L 469.3 220.2 L 470.3 221 L 471.3 220.7 L 472.3 219.8 L 473.3 218.6 L 474.3 217.4 L 475.3 216.2 L 476.3 215.2 L 477.3 214.4 L 478.3 213.8 L 479.3 213.4 L 480.3 213 L 481.3 212.9 L 482.3 213.3 L 483.3 214.5 L 484.3 216.7 L 485.3 219.7 L 486.2 223.2 L 487.2 227.6 L 488.2 233.2 L 489.2 239.8 L 490.2 246.9 L 491.2 253.9 L 492.2 260.3 L 493.2 266.2 L 494.2 271.7 L 495.2 276.9 L 496.2 281.7 L 497.2 286 L 498.2 289.9 L 499.2 293.4 L 500.2 296.7 L 501.2 299.8 L 502.2 302.6 L 503.2 305 L 504.2 307 L 505.2 308.7 L 506.2 310.2 L 507.2 311.6 L 508.2 312.9 L 509.2 314 L 510.2 315 L 511.2 315.7 L 512.2 316.2 L 513.2 316.4 L 519.2 316.8 L 519.2 316.8 z" clip-path="url(#pcd737baae6)" style="fill: #ff0000; opacity: 0.25"/>
   </g>
   <g id="line2d_38">
    <path d="M 367.5 316.8 L 373.5 316.4 L 375.5 315.8 L 379.5 314.2 L 383.5 312.3 L 388.5 309.7 L 394.5 306.3 L 397.5 304.4 L 399.5 302.9 L 401.5 301.1 L 403.4 298.8 L 405.4 296 L 408.4 291 L 410.4 287.5 L 413.4 281.5 L 415.4 277.5 L 417.4 274 L 419.4 270.6 L 421.4 266.7 L 423.4 262.1 L 424.4 259.4 L 425.4 256.3 L 426.4 252.6 L 427.4 248 L 428.4 242.2 L 430.4 227.8 L 432.4 211.3 L 434.4 193 L 436.4 172.5 L 438.4 149.6 L 442.4 100.1 L 443.4 89.4 L 444.3 80.2 L 445.3 73.2 L 446.3 68.6 L 447.3 65.8 L 448.3 64.7 L 449.3 65.2 L 450.3 67 L 451.3 70 L 452.3 74.2 L 453.3 80.1 L 454.3 87.6 L 455.3 96.4 L 456.3 106.2 L 458.3 129.4 L 461.3 165.8 L 463.3 187.2 L 464.3 195.6 L 465.3 202.6 L 466.3 208.7 L 467.3 213.9 L 468.3 217.8 L 469.3 220.2 L 470.3 221 L 471.3 220.7 L 472.3 219.8 L 476.3 215.2 L 477.3 214.4 L 479.3 213.4 L 480.3 213 L 481.3 212.9 L 482.3 213.3 L 483.3 214.5 L 484.3 216.7 L 485.3 219.7 L 486.2 223.2 L 487.2 227.6 L 488.2 233.2 L 490.2 246.9 L 492.2 260.3 L 494.2 271.7 L 496.2 281.7 L 498.2 289.9 L 500.2 296.7 L 502.2 302.6 L 503.2 305 L 504.2 307 L 506.2 310.2 L 508.2 312.9 L 509.2 314 L 510.2 315 L 511.2 315.7 L 512.2 316.2 L 513.2 316.4 L 519.2 316.8 L 519.2 316.8" clip-path="url(#pcd737baae6)" style="fill: none; stroke: #e0203c; stroke-width: 1.55; stroke-linecap: square"/>
   </g>
   <g id="text_21">
    <text style="font-size: 16.5px; font-family: 'DejaVu Sans', sans-serif; text-anchor: start" x="360" y="78.2" transform="translate(360 78.2) scale(1.03 1) translate(-360 -78.2)">(b)</text>
   </g>
   <g id="patch_12">
    <path d="M 352 316.8 L 352 51.2" style="fill: none; stroke: #000000; stroke-width: 2.2; stroke-linejoin: miter; stroke-linecap: square"/>
   </g>
   <g id="patch_13">
    <path d="M 532.2 316.8 L 532.2 51.2" style="fill: none; stroke: #000000; stroke-width: 2.2; stroke-linejoin: miter; stroke-linecap: square"/>
   </g>
   <g id="patch_14">
    <path d="M 352 316.8 L 532.2 316.8" style="fill: none; stroke: #000000; stroke-width: 2.2; stroke-linejoin: miter; stroke-linecap: square"/>
   </g>
   <g id="patch_15">
    <path d="M 352 51.2 L 532.2 51.2" style="fill: none; stroke: #000000; stroke-width: 2.2; stroke-linejoin: miter; stroke-linecap: square"/>
   </g>
  </g>
  <g id="axes_3">
   <g id="patch_16">
    <path d="M 604.6 316.8 L 784.8 316.8 L 784.8 51.2 L 604.6 51.2 z" style="fill: #ffffff"/>
   </g>
   <g id="patch_17">
    <path d="M 612.1 316.8 L 618.1 316.4 L 619.1 316.2 L 620.1 315.8 L 621.1 315.3 L 622.1 314.8 L 623.1 314.2 L 624.1 313.5 L 625.1 312.7 L 626.1 311.9 L 627.1 310.9 L 628.1 309.8 L 629.1 308.5 L 630.1 307.2 L 631.1 305.9 L 632.1 304.5 L 633.1 303.1 L 634.1 301.7 L 635.1 300.3 L 636 298.8 L 637 297.3 L 638 295.7 L 639 294.1 L 640 292.5 L 641 291.1 L 642 289.8 L 643 288.7 L 644 287.7 L 645 286.9 L 646 286.2 L 647 285.4 L 648 284.7 L 649 283.8 L 650 282.9 L 651 281.8 L 652 280.7 L 653 279.5 L 654 278.1 L 655 276.5 L 655.9 274.6 L 656.9 272 L 657.9 268.6 L 658.9 264.4 L 659.9 259.7 L 660.9 254.8 L 661.9 249.9 L 662.9 245.3 L 663.9 240.9 L 664.9 236.5 L 665.9 232 L 666.9 227.5 L 667.9 222.8 L 668.9 217.9 L 669.9 212.9 L 670.9 207.8 L 671.9 202.9 L 672.9 198 L 673.9 193.2 L 674.9 188.4 L 675.8 183.9 L 676.8 179.9 L 677.8 176.4 L 678.8 173.5 L 679.8 170.9 L 680.8 168.6 L 681.8 166.3 L 682.8 164.2 L 683.8 162.2 L 684.8 160.2 L 685.8 158.3 L 686.8 156.2 L 687.8 154 L 688.8 151.4 L 689.8 148.6 L 690.8 145.6 L 691.8 142.3 L 692.8 138.6 L 693.8 134.4 L 694.8 129.9 L 695.7 125 L 696.7 119.9 L 697.7 114.6 L 698.7 109.2 L 699.7 103.6 L 700.7 97.8 L 701.7 91.9 L 702.7 86 L 703.7 80.2 L 704.7 74.8 L 705.7 70.2 L 706.7 67 L 707.7 65.4 L 708.7 65 L 709.7 65.4 L 710.7 66.2 L 711.7 67.6 L 712.7 69.7 L 713.7 72.8 L 714.7 76.7 L 715.6 81.2 L 716.6 85.9 L 717.6 90.8 L 718.6 95.7 L 719.6 101 L 720.6 106.6 L 721.6 112.5 L 722.6 118.8 L 723.6 125.4 L 724.6 132.4 L 725.6 139.9 L 726.6 148 L 727.6 156.7 L 728.6 165.8 L 729.6 175.4 L 730.6 185.3 L 731.6 195.8 L 732.6 206.6 L 733.6 217.4 L 734.6 227.7 L 735.5 237.5 L 736.5 246.2 L 737.5 253.1 L 738.5 257.8 L 739.5 261 L 740.5 263.5 L 741.5 265.5 L 742.5 267.4 L 743.5 269.3 L 744.5 271.4 L 745.5 273.7 L 746.5 276.2 L 747.5 278.9 L 748.5 281.7 L 749.5 284.4 L 750.5 287.1 L 751.5 289.7 L 752.5 292.2 L 753.5 294.5 L 754.5 296.7 L 755.4 298.9 L 756.4 301 L 757.4 303 L 758.4 304.8 L 759.4 306.6 L 760.4 308.1 L 761.4 309.7 L 762.4 311.1 L 763.4 312.4 L 764.4 313.6 L 765.4 314.5 L 766.4 315.2 L 767.4 315.7 L 768.4 316.1 L 769.4 316.4 L 770.4 316.5 L 776.4 316.8 L 776.4 316.8 z" clip-path="url(#p1dd4483c38)" style="fill: #0000ff; opacity: 0.25"/>
   </g>
   <g id="line2d_39">
    <path d="M 612.1 316.8 L 618.1 316.4 L 619.1 316.2 L 621.1 315.3 L 623.1 314.2 L 625.1 312.7 L 627.1 310.9 L 629.1 308.5 L 632.1 304.5 L 636 298.8 L 641 291.1 L 642 289.8 L 644 287.7 L 646 286.2 L 649 283.8 L 651 281.8 L 653 279.5 L 654 278.1 L 655 276.5 L 655.9 274.6 L 656.9 272 L 657.9 268.6 L 658.9 264.4 L 664.9 236.5 L 667.9 222.8 L 675.8 183.9 L 676.8 179.9 L 677.8 176.4 L 678.8 173.5 L 680.8 168.6 L 682.8 164.2 L 687.8 154 L 689.8 148.6 L 691.8 142.3 L 692.8 138.6 L 694.8 129.9 L 697.7 114.6 L 700.7 97.8 L 704.7 74.8 L 705.7 70.2 L 706.7 67 L 707.7 65.4 L 708.7 65 L 709.7 65.4 L 710.7 66.2 L 711.7 67.6 L 712.7 69.7 L 713.7 72.8 L 714.7 76.7 L 716.6 85.9 L 719.6 101 L 721.6 112.5 L 723.6 125.4 L 725.6 139.9 L 727.6 156.7 L 729.6 175.4 L 731.6 195.8 L 734.6 227.7 L 736.5 246.2 L 737.5 253.1 L 738.5 257.8 L 739.5 261 L 740.5 263.5 L 742.5 267.4 L 744.5 271.4 L 746.5 276.2 L 752.5 292.2 L 755.4 298.9 L 757.4 303 L 759.4 306.6 L 761.4 309.7 L 763.4 312.4 L 764.4 313.6 L 765.4 314.5 L 766.4 315.2 L 767.4 315.7 L 768.4 316.1 L 769.4 316.4 L 770.4 316.5 L 776.4 316.8 L 776.4 316.8" clip-path="url(#p1dd4483c38)" style="fill: none; stroke: #2a2ad8; stroke-width: 1.55; stroke-linecap: square"/>
   </g>
   <g id="matplotlib.axis_5">
    <g id="xtick_6">
     <g id="line2d_40">
      <g>
       <path d="M 0 0 L 0 -7" transform="translate(649.316667 316.8)" style="stroke: #000000; stroke-width: 1.5"/>
      </g>
     </g>
     <g id="line2d_41">
      <g>
       <path d="M 0 0 L 0 7" transform="translate(649.316667 51.2)" style="stroke: #000000; stroke-width: 1.5"/>
      </g>
     </g>
     <g id="text_22">
      <text style="font-size: 16px; font-family: 'DejaVu Sans', sans-serif; text-anchor: middle" x="649.316667" y="334.9575" transform="translate(649.316667 334.9575) scale(1.02 1) translate(-649.316667 -334.9575)">4</text>
     </g>
    </g>
    <g id="xtick_7">
     <g id="line2d_42">
      <g>
       <path d="M 0 0 L 0 -7" transform="translate(716.066667 316.8)" style="stroke: #000000; stroke-width: 1.5"/>
      </g>
     </g>
     <g id="line2d_43">
      <g>
       <path d="M 0 0 L 0 7" transform="translate(716.066667 51.2)" style="stroke: #000000; stroke-width: 1.5"/>
      </g>
     </g>
     <g id="text_23">
      <text style="font-size: 16px; font-family: 'DejaVu Sans', sans-serif; text-anchor: middle" x="716.066667" y="334.9575" transform="translate(716.066667 334.9575) scale(1.02 1) translate(-716.066667 -334.9575)">6</text>
     </g>
    </g>
    <g id="xtick_8">
     <g id="line2d_44">
      <g>
       <path d="M 0 0 L 0 -7" transform="translate(782.816667 316.8)" style="stroke: #000000; stroke-width: 1.5"/>
      </g>
     </g>
     <g id="line2d_45">
      <g>
       <path d="M 0 0 L 0 7" transform="translate(782.816667 51.2)" style="stroke: #000000; stroke-width: 1.5"/>
      </g>
     </g>
     <g id="text_24">
      <text style="font-size: 16px; font-family: 'DejaVu Sans', sans-serif; text-anchor: middle" x="782.816667" y="334.9575" transform="translate(782.816667 334.9575) scale(1.02 1) translate(-782.816667 -334.9575)">8</text>
     </g>
    </g>
    <g id="text_25">
     <g transform="translate(637.916 355.44025)">
      <text><tspan x="0" y="-0.484375" style="font-style: oblique; font-size: 16.8px; font-family: 'DejaVu Sans', sans-serif">r</tspan><tspan x="6.886475" y="2.304688" style="font-style: oblique; font-size: 11.76px; font-family: 'DejaVu Sans', sans-serif">A</tspan><tspan x="14.907336" y="2.304688" style="font-size: 11.76px; font-family: 'DejaVu Sans', sans-serif">1</tspan><tspan x="22.367139" y="2.304688" style="font-size: 11.76px; font-family: 'DejaVu Sans', sans-serif">1</tspan><tspan x="32.111255" y="2.304688" style="font-size: 11.76px; font-family: 'DejaVu Sans', sans-serif">:</tspan><tspan x="38.345886" y="2.304688" style="font-style: oblique; font-size: 11.76px; font-family: 'DejaVu Sans', sans-serif">O</tspan><tspan x="49.859058" y="2.304688" style="font-size: 11.76px; font-family: 'DejaVu Sans', sans-serif">−</tspan><tspan x="61.967639" y="2.304688" style="font-style: oblique; font-size: 11.76px; font-family: 'DejaVu Sans', sans-serif">E</tspan><tspan x="69.375916" y="2.304688" style="font-size: 11.76px; font-family: 'DejaVu Sans', sans-serif">1</tspan><tspan x="76.835718" y="2.304688" style="font-size: 11.76px; font-family: 'DejaVu Sans', sans-serif">2</tspan><tspan x="86.579834" y="2.304688" style="font-size: 11.76px; font-family: 'DejaVu Sans', sans-serif">:</tspan><tspan x="92.814465" y="2.304688" style="font-style: oblique; font-size: 11.76px; font-family: 'DejaVu Sans', sans-serif">O</tspan><tspan x="102.043323" y="4.257031" style="font-style: oblique; font-size: 8.232px; font-family: 'DejaVu Sans', sans-serif">E</tspan><tspan x="107.229116" y="4.257031" style="font-size: 8.232px; font-family: 'DejaVu Sans', sans-serif">1</tspan></text>
     </g>
    </g>
   </g>
   <g id="matplotlib.axis_6">
    <g id="ytick_13">
     <g id="line2d_46">
      <g>
       <path d="M 0 0 L 7 0" transform="translate(604.6 316.503571)" style="stroke: #000000; stroke-width: 1.5"/>
      </g>
     </g>
     <g id="line2d_47">
      <g>
       <path d="M 0 0 L -7 0" transform="translate(784.8 316.503571)" style="stroke: #000000; stroke-width: 1.5"/>
      </g>
     </g>
     <g id="text_26">
      <text style="font-size: 16px; font-family: 'DejaVu Sans', sans-serif; text-anchor: end" x="599.2" y="322.582321" transform="translate(599.2 322.582321) scale(1.02 1) translate(-599.2 -322.582321)">0.0</text>
     </g>
    </g>
    <g id="ytick_14">
     <g id="line2d_48">
      <g>
       <path d="M 0 0 L 7 0" transform="translate(604.6 274.607143)" style="stroke: #000000; stroke-width: 1.5"/>
      </g>
     </g>
     <g id="line2d_49">
      <g>
       <path d="M 0 0 L -7 0" transform="translate(784.8 274.607143)" style="stroke: #000000; stroke-width: 1.5"/>
      </g>
     </g>
     <g id="text_27">
      <text style="font-size: 16px; font-family: 'DejaVu Sans', sans-serif; text-anchor: end" x="599.2" y="280.685893" transform="translate(599.2 280.685893) scale(1.02 1) translate(-599.2 -280.685893)">0.1</text>
     </g>
    </g>
    <g id="ytick_15">
     <g id="line2d_50">
      <g>
       <path d="M 0 0 L 7 0" transform="translate(604.6 232.710714)" style="stroke: #000000; stroke-width: 1.5"/>
      </g>
     </g>
     <g id="line2d_51">
      <g>
       <path d="M 0 0 L -7 0" transform="translate(784.8 232.710714)" style="stroke: #000000; stroke-width: 1.5"/>
      </g>
     </g>
     <g id="text_28">
      <text style="font-size: 16px; font-family: 'DejaVu Sans', sans-serif; text-anchor: end" x="599.2" y="238.789464" transform="translate(599.2 238.789464) scale(1.02 1) translate(-599.2 -238.789464)">0.2</text>
     </g>
    </g>
    <g id="ytick_16">
     <g id="line2d_52">
      <g>
       <path d="M 0 0 L 7 0" transform="translate(604.6 190.814286)" style="stroke: #000000; stroke-width: 1.5"/>
      </g>
     </g>
     <g id="line2d_53">
      <g>
       <path d="M 0 0 L -7 0" transform="translate(784.8 190.814286)" style="stroke: #000000; stroke-width: 1.5"/>
      </g>
     </g>
     <g id="text_29">
      <text style="font-size: 16px; font-family: 'DejaVu Sans', sans-serif; text-anchor: end" x="599.2" y="196.893036" transform="translate(599.2 196.893036) scale(1.02 1) translate(-599.2 -196.893036)">0.3</text>
     </g>
    </g>
    <g id="ytick_17">
     <g id="line2d_54">
      <g>
       <path d="M 0 0 L 7 0" transform="translate(604.6 148.917857)" style="stroke: #000000; stroke-width: 1.5"/>
      </g>
     </g>
     <g id="line2d_55">
      <g>
       <path d="M 0 0 L -7 0" transform="translate(784.8 148.917857)" style="stroke: #000000; stroke-width: 1.5"/>
      </g>
     </g>
     <g id="text_30">
      <text style="font-size: 16px; font-family: 'DejaVu Sans', sans-serif; text-anchor: end" x="599.2" y="154.996607" transform="translate(599.2 154.996607) scale(1.02 1) translate(-599.2 -154.996607)">0.4</text>
     </g>
    </g>
    <g id="ytick_18">
     <g id="line2d_56">
      <g>
       <path d="M 0 0 L 7 0" transform="translate(604.6 107.021429)" style="stroke: #000000; stroke-width: 1.5"/>
      </g>
     </g>
     <g id="line2d_57">
      <g>
       <path d="M 0 0 L -7 0" transform="translate(784.8 107.021429)" style="stroke: #000000; stroke-width: 1.5"/>
      </g>
     </g>
     <g id="text_31">
      <text style="font-size: 16px; font-family: 'DejaVu Sans', sans-serif; text-anchor: end" x="599.2" y="113.100179" transform="translate(599.2 113.100179) scale(1.02 1) translate(-599.2 -113.100179)">0.5</text>
     </g>
    </g>
    <g id="ytick_19">
     <g id="line2d_58">
      <g>
       <path d="M 0 0 L 7 0" transform="translate(604.6 65.125)" style="stroke: #000000; stroke-width: 1.5"/>
      </g>
     </g>
     <g id="line2d_59">
      <g>
       <path d="M 0 0 L -7 0" transform="translate(784.8 65.125)" style="stroke: #000000; stroke-width: 1.5"/>
      </g>
     </g>
     <g id="text_32">
      <text style="font-size: 16px; font-family: 'DejaVu Sans', sans-serif; text-anchor: end" x="599.2" y="71.20375" transform="translate(599.2 71.20375) scale(1.02 1) translate(-599.2 -71.20375)">0.6</text>
     </g>
    </g>
   </g>
   <g id="patch_18">
    <path d="M 617.7 316.8 L 623.7 316.5 L 624.7 316.3 L 625.7 316 L 626.7 315.7 L 627.7 315.3 L 628.7 314.8 L 629.7 314.3 L 630.7 313.7 L 631.7 313 L 632.7 312.3 L 633.7 311.5 L 634.7 310.6 L 635.7 309.7 L 636.7 308.6 L 637.7 307.4 L 638.7 306.1 L 639.7 304.7 L 640.7 303.2 L 641.7 301.7 L 642.7 300.1 L 643.7 298.3 L 644.7 296.4 L 645.7 294.3 L 646.7 292.2 L 647.7 290.1 L 648.7 288.1 L 649.7 286.2 L 650.7 284.5 L 651.7 282.9 L 652.7 281.5 L 653.7 280.1 L 654.7 278.5 L 655.6 276.5 L 656.6 274 L 657.6 270.8 L 658.6 266.7 L 659.6 262.1 L 660.6 257.2 L 661.6 252.3 L 662.6 247.6 L 663.6 243.1 L 664.6 238.7 L 665.6 234.2 L 666.6 229.7 L 667.6 225 L 668.6 220.1 L 669.6 215.1 L 670.6 210.1 L 671.6 205.1 L 672.6 200.2 L 673.6 195.3 L 674.6 190.5 L 675.6 185.9 L 676.6 181.7 L 677.6 178 L 678.6 174.9 L 679.6 172.2 L 680.6 169.7 L 681.6 167.4 L 682.6 165.3 L 683.6 163.2 L 684.6 161.2 L 685.6 159.3 L 686.6 157.3 L 687.6 155.1 L 688.6 152.6 L 689.6 149.9 L 690.6 146.9 L 691.6 143.6 L 692.6 140 L 693.6 136 L 694.6 131.5 L 695.6 126.7 L 696.6 121.7 L 697.5 116.5 L 698.5 111.2 L 699.5 105.7 L 700.5 100 L 701.5 94 L 702.5 88 L 703.5 82.1 L 704.5 76.5 L 705.5 71.6 L 706.5 68.1 L 707.5 66 L 708.5 65.1 L 709.5 65 L 710.5 65.7 L 711.5 67 L 712.5 69.1 L 713.5 72 L 714.5 75.8 L 715.5 80 L 716.5 84.6 L 717.5 89.3 L 718.5 94.2 L 719.5 99.3 L 720.5 104.8 L 721.5 110.6 L 722.5 116.9 L 723.5 123.4 L 724.5 130.3 L 725.5 137.7 L 726.5 145.8 L 727.5 154.4 L 728.5 163.7 L 729.5 173.4 L 730.5 183.8 L 731.5 195 L 732.5 206.8 L 733.5 218.2 L 734.5 228.2 L 735.5 236.3 L 736.5 242.7 L 737.5 248.1 L 738.5 252.8 L 739.4 257.1 L 740.4 261.1 L 741.4 264.8 L 742.4 268.3 L 743.4 271.5 L 744.4 274.6 L 745.4 277.5 L 746.4 280.2 L 747.4 282.9 L 748.4 285.4 L 749.4 287.9 L 750.4 290.2 L 751.4 292.5 L 752.4 294.6 L 753.4 296.7 L 754.4 298.8 L 755.4 300.8 L 756.4 302.7 L 757.4 304.6 L 758.4 306.3 L 759.4 307.9 L 760.4 309.3 L 761.4 310.6 L 762.4 311.8 L 763.4 312.9 L 764.4 313.8 L 765.4 314.6 L 766.4 315.3 L 767.4 315.7 L 768.4 316.1 L 769.4 316.3 L 770.4 316.5 L 776.4 316.8 L 776.4 316.8 z" clip-path="url(#p1dd4483c38)" style="fill: #ff0000; opacity: 0.25"/>
   </g>
   <g id="line2d_60">
    <path d="M 617.7 316.8 L 623.7 316.5 L 625.7 316 L 627.7 315.3 L 629.7 314.3 L 631.7 313 L 633.7 311.5 L 635.7 309.7 L 637.7 307.4 L 639.7 304.7 L 641.7 301.7 L 643.7 298.3 L 645.7 294.3 L 648.7 288.1 L 650.7 284.5 L 654.7 278.5 L 655.6 276.5 L 656.6 274 L 657.6 270.8 L 658.6 266.7 L 660.6 257.2 L 663.6 243.1 L 667.6 225 L 672.6 200.2 L 675.6 185.9 L 676.6 181.7 L 677.6 178 L 678.6 174.9 L 680.6 169.7 L 682.6 165.3 L 684.6 161.2 L 686.6 157.3 L 688.6 152.6 L 690.6 146.9 L 692.6 140 L 694.6 131.5 L 697.5 116.5 L 700.5 100 L 704.5 76.5 L 705.5 71.6 L 706.5 68.1 L 707.5 66 L 708.5 65.1 L 709.5 65 L 710.5 65.7 L 711.5 67 L 712.5 69.1 L 713.5 72 L 714.5 75.8 L 716.5 84.6 L 718.5 94.2 L 720.5 104.8 L 722.5 116.9 L 724.5 130.3 L 726.5 145.8 L 728.5 163.7 L 730.5 183.8 L 734.5 228.2 L 735.5 236.3 L 736.5 242.7 L 737.5 248.1 L 739.4 257.1 L 741.4 264.8 L 743.4 271.5 L 745.4 277.5 L 747.4 282.9 L 749.4 287.9 L 752.4 294.6 L 755.4 300.8 L 757.4 304.6 L 759.4 307.9 L 761.4 310.6 L 763.4 312.9 L 764.4 313.8 L 765.4 314.6 L 766.4 315.3 L 768.4 316.1 L 769.4 316.3 L 770.4 316.5 L 776.4 316.8 L 776.4 316.8" clip-path="url(#p1dd4483c38)" style="fill: none; stroke: #e0203c; stroke-width: 1.55; stroke-linecap: square"/>
   </g>
   <g id="text_33">
    <text style="font-size: 16.5px; font-family: 'DejaVu Sans', sans-serif; text-anchor: start" x="612.6" y="78.2" transform="translate(612.6 78.2) scale(1.03 1) translate(-612.6 -78.2)">(c)</text>
   </g>
   <g id="patch_19">
    <path d="M 604.6 316.8 L 604.6 51.2" style="fill: none; stroke: #000000; stroke-width: 2.2; stroke-linejoin: miter; stroke-linecap: square"/>
   </g>
   <g id="patch_20">
    <path d="M 784.8 316.8 L 784.8 51.2" style="fill: none; stroke: #000000; stroke-width: 2.2; stroke-linejoin: miter; stroke-linecap: square"/>
   </g>
   <g id="patch_21">
    <path d="M 604.6 316.8 L 784.8 316.8" style="fill: none; stroke: #000000; stroke-width: 2.2; stroke-linejoin: miter; stroke-linecap: square"/>
   </g>
   <g id="patch_22">
    <path d="M 604.6 51.2 L 784.8 51.2" style="fill: none; stroke: #000000; stroke-width: 2.2; stroke-linejoin: miter; stroke-linecap: square"/>
   </g>
  </g>
  <g id="axes_4">
   <g id="patch_23">
    <path d="M 857.1 316.8 L 1037.3 316.8 L 1037.3 51.2 L 857.1 51.2 z" style="fill: #ffffff"/>
   </g>
   <g id="patch_24">
    <path d="M 886.5 316.8 L 892.5 316.6 L 893.5 316.5 L 894.5 316.4 L 895.5 316.2 L 896.5 315.9 L 897.5 315.6 L 898.5 315.2 L 899.5 314.8 L 900.5 314.3 L 901.5 313.8 L 902.5 313.1 L 903.5 312.3 L 904.5 311.4 L 905.5 310.4 L 906.5 309.4 L 907.4 308.4 L 908.4 307.4 L 909.4 306.3 L 910.4 305.2 L 911.4 304 L 912.4 302.7 L 913.4 301.4 L 914.4 300 L 915.4 298.6 L 916.4 297.1 L 917.4 295.5 L 918.4 293.7 L 919.4 291.7 L 920.4 289.4 L 921.4 286.6 L 922.4 283.4 L 923.4 279.8 L 924.3 275.8 L 925.3 271.5 L 926.3 266.8 L 927.3 261.6 L 928.3 255.8 L 929.3 249.2 L 930.3 241.5 L 931.3 232.6 L 932.3 223.1 L 933.3 213.6 L 934.3 204.4 L 935.3 195.2 L 936.3 186.1 L 937.3 176.9 L 938.3 167.7 L 939.3 158.3 L 940.2 148.6 L 941.2 138.6 L 942.2 129.1 L 943.2 120.3 L 944.2 112.4 L 945.2 105.5 L 946.2 99.7 L 947.2 94.8 L 948.2 91.2 L 949.2 88.9 L 950.2 87.5 L 951.2 86.7 L 952.2 86 L 953.2 85.4 L 954.2 84.9 L 955.2 84.4 L 956.1 83.9 L 957.1 83.4 L 958.1 82.9 L 959.1 82.3 L 960.1 81.6 L 961.1 80.9 L 962.1 80.5 L 963.1 81 L 964.1 82.7 L 965.1 85.6 L 966.1 89.1 L 967.1 93.3 L 968.1 98.2 L 969.1 103.7 L 970.1 109.5 L 971.1 115.5 L 972.1 121.5 L 973 127.5 L 974 133 L 975 138 L 976 142.7 L 977 147.2 L 978 151.4 L 979 155.4 L 980 159.3 L 981 163.5 L 982 168 L 983 173 L 984 178.4 L 985 184.2 L 986 190.3 L 987 196.8 L 988 203.5 L 988.9 210.2 L 989.9 216.9 L 990.9 223.6 L 991.9 230.2 L 992.9 236.9 L 993.9 243.6 L 994.9 250.3 L 995.9 256.7 L 996.9 262.8 L 997.9 268.6 L 998.9 273.9 L 999.9 278.6 L 1000.9 282.6 L 1001.9 286 L 1002.9 289 L 1003.9 291.8 L 1004.8 294.3 L 1005.8 296.7 L 1006.8 298.9 L 1007.8 301 L 1008.8 302.9 L 1009.8 304.6 L 1010.8 306.2 L 1011.8 307.8 L 1012.8 309.2 L 1013.8 310.5 L 1014.8 311.7 L 1015.8 312.7 L 1016.8 313.5 L 1017.8 314.3 L 1018.8 314.9 L 1019.8 315.5 L 1020.7 316 L 1021.7 316.3 L 1022.7 316.5 L 1028.7 316.8 L 1028.7 316.8 z" clip-path="url(#pf6448be936)" style="fill: #0000ff; opacity: 0.25"/>
   </g>
   <g id="line2d_61">
    <path d="M 886.5 316.8 L 893.5 316.5 L 895.5 316.2 L 897.5 315.6 L 899.5 314.8 L 901.5 313.8 L 903.5 312.3 L 906.5 309.4 L 909.4 306.3 L 911.4 304 L 914.4 300 L 916.4 297.1 L 918.4 293.7 L 919.4 291.7 L 920.4 289.4 L 921.4 286.6 L 922.4 283.4 L 924.3 275.8 L 926.3 266.8 L 927.3 261.6 L 928.3 255.8 L 929.3 249.2 L 930.3 241.5 L 932.3 223.1 L 936.3 186.1 L 940.2 148.6 L 942.2 129.1 L 944.2 112.4 L 945.2 105.5 L 946.2 99.7 L 947.2 94.8 L 948.2 91.2 L 949.2 88.9 L 950.2 87.5 L 951.2 86.7 L 953.2 85.4 L 956.1 83.9 L 958.1 82.9 L 960.1 81.6 L 961.1 80.9 L 962.1 80.5 L 963.1 81 L 964.1 82.7 L 965.1 85.6 L 966.1 89.1 L 967.1 93.3 L 968.1 98.2 L 970.1 109.5 L 974 133 L 976 142.7 L 978 151.4 L 981 163.5 L 983 173 L 985 184.2 L 987 196.8 L 995.9 256.7 L 997.9 268.6 L 998.9 273.9 L 999.9 278.6 L 1000.9 282.6 L 1002.9 289 L 1004.8 294.3 L 1006.8 298.9 L 1008.8 302.9 L 1010.8 306.2 L 1012.8 309.2 L 1014.8 311.7 L 1015.8 312.7 L 1017.8 314.3 L 1019.8 315.5 L 1020.7 316 L 1021.7 316.3 L 1022.7 316.5 L 1028.7 316.8 L 1028.7 316.8" clip-path="url(#pf6448be936)" style="fill: none; stroke: #2a2ad8; stroke-width: 1.55; stroke-linecap: square"/>
   </g>
   <g id="matplotlib.axis_7">
    <g id="xtick_9">
     <g id="line2d_62">
      <g>
       <path d="M 0 0 L 0 -7" transform="translate(868.716667 316.8)" style="stroke: #000000; stroke-width: 1.5"/>
      </g>
     </g>
     <g id="line2d_63">
      <g>
       <path d="M 0 0 L 0 7" transform="translate(868.716667 51.2)" style="stroke: #000000; stroke-width: 1.5"/>
      </g>
     </g>
     <g id="text_34">
      <text style="font-size: 16px; font-family: 'DejaVu Sans', sans-serif; text-anchor: middle" x="868.716667" y="334.9575" transform="translate(868.716667 334.9575) scale(1.02 1) translate(-868.716667 -334.9575)">2.2</text>
     </g>
    </g>
    <g id="xtick_10">
     <g id="line2d_64">
      <g>
       <path d="M 0 0 L 0 -7" transform="translate(934.366667 316.8)" style="stroke: #000000; stroke-width: 1.5"/>
      </g>
     </g>
     <g id="line2d_65">
      <g>
       <path d="M 0 0 L 0 7" transform="translate(934.366667 51.2)" style="stroke: #000000; stroke-width: 1.5"/>
      </g>
     </g>
     <g id="text_35">
      <text style="font-size: 16px; font-family: 'DejaVu Sans', sans-serif; text-anchor: middle" x="934.366667" y="334.9575" transform="translate(934.366667 334.9575) scale(1.02 1) translate(-934.366667 -334.9575)">2.4</text>
     </g>
    </g>
    <g id="xtick_11">
     <g id="line2d_66">
      <g>
       <path d="M 0 0 L 0 -7" transform="translate(1000.016667 316.8)" style="stroke: #000000; stroke-width: 1.5"/>
      </g>
     </g>
     <g id="line2d_67">
      <g>
       <path d="M 0 0 L 0 7" transform="translate(1000.016667 51.2)" style="stroke: #000000; stroke-width: 1.5"/>
      </g>
     </g>
     <g id="text_36">
      <text style="font-size: 16px; font-family: 'DejaVu Sans', sans-serif; text-anchor: middle" x="1000.016667" y="334.9575" transform="translate(1000.016667 334.9575) scale(1.02 1) translate(-1000.016667 -334.9575)">2.6</text>
     </g>
    </g>
    <g id="text_37">
     <g transform="translate(900.58 355.44025)">
      <text><tspan x="0" y="-0.484375" style="font-style: oblique; font-size: 16.8px; font-family: 'DejaVu Sans', sans-serif">r</tspan><tspan x="6.886475" y="2.304688" style="font-style: oblique; font-size: 11.76px; font-family: 'DejaVu Sans', sans-serif">R</tspan><tspan x="15.033289" y="2.304688" style="font-size: 11.76px; font-family: 'DejaVu Sans', sans-serif">9</tspan><tspan x="24.777405" y="2.304688" style="font-size: 11.76px; font-family: 'DejaVu Sans', sans-serif">:</tspan><tspan x="31.012036" y="2.304688" style="font-style: oblique; font-size: 11.76px; font-family: 'DejaVu Sans', sans-serif">N</tspan><tspan x="42.0672" y="2.304688" style="font-size: 11.76px; font-family: 'DejaVu Sans', sans-serif">−</tspan><tspan x="54.175781" y="2.304688" style="font-style: oblique; font-size: 11.76px; font-family: 'DejaVu Sans', sans-serif">R</tspan><tspan x="62.322595" y="2.304688" style="font-size: 11.76px; font-family: 'DejaVu Sans', sans-serif">9</tspan><tspan x="72.066711" y="2.304688" style="font-size: 11.76px; font-family: 'DejaVu Sans', sans-serif">:</tspan><tspan x="78.301343" y="2.304688" style="font-style: oblique; font-size: 11.76px; font-family: 'DejaVu Sans', sans-serif">C</tspan><tspan x="86.488232" y="4.257031" style="font-style: oblique; font-size: 8.232px; font-family: 'DejaVu Sans', sans-serif">B</tspan></text>
     </g>
    </g>
   </g>
   <g id="matplotlib.axis_8">
    <g id="ytick_20">
     <g id="line2d_68">
      <g>
       <path d="M 0 0 L 7 0" transform="translate(857.1 316.8)" style="stroke: #000000; stroke-width: 1.5"/>
      </g>
     </g>
     <g id="line2d_69">
      <g>
       <path d="M 0 0 L -7 0" transform="translate(1037.3 316.8)" style="stroke: #000000; stroke-width: 1.5"/>
      </g>
     </g>
     <g id="text_38">
      <text style="font-size: 16px; font-family: 'DejaVu Sans', sans-serif; text-anchor: end" x="851.7" y="322.87875" transform="translate(851.7 322.87875) scale(1.02 1) translate(-851.7 -322.87875)">0</text>
     </g>
    </g>
    <g id="ytick_21">
     <g id="line2d_70">
      <g>
       <path d="M 0 0 L 7 0" transform="translate(857.1 277.767435)" style="stroke: #000000; stroke-width: 1.5"/>
      </g>
     </g>
     <g id="line2d_71">
      <g>
       <path d="M 0 0 L -7 0" transform="translate(1037.3 277.767435)" style="stroke: #000000; stroke-width: 1.5"/>
      </g>
     </g>
     <g id="text_39">
      <text style="font-size: 16px; font-family: 'DejaVu Sans', sans-serif; text-anchor: end" x="851.7" y="283.846185" transform="translate(851.7 283.846185) scale(1.02 1) translate(-851.7 -283.846185)">1</text>
     </g>
    </g>
    <g id="ytick_22">
     <g id="line2d_72">
      <g>
       <path d="M 0 0 L 7 0" transform="translate(857.1 238.73487)" style="stroke: #000000; stroke-width: 1.5"/>
      </g>
     </g>
     <g id="line2d_73">
      <g>
       <path d="M 0 0 L -7 0" transform="translate(1037.3 238.73487)" style="stroke: #000000; stroke-width: 1.5"/>
      </g>
     </g>
     <g id="text_40">
      <text style="font-size: 16px; font-family: 'DejaVu Sans', sans-serif; text-anchor: end" x="851.7" y="244.81362" transform="translate(851.7 244.81362) scale(1.02 1) translate(-851.7 -244.81362)">2</text>
     </g>
    </g>
    <g id="ytick_23">
     <g id="line2d_74">
      <g>
       <path d="M 0 0 L 7 0" transform="translate(857.1 199.702305)" style="stroke: #000000; stroke-width: 1.5"/>
      </g>
     </g>
     <g id="line2d_75">
      <g>
       <path d="M 0 0 L -7 0" transform="translate(1037.3 199.702305)" style="stroke: #000000; stroke-width: 1.5"/>
      </g>
     </g>
     <g id="text_41">
      <text style="font-size: 16px; font-family: 'DejaVu Sans', sans-serif; text-anchor: end" x="851.7" y="205.781055" transform="translate(851.7 205.781055) scale(1.02 1) translate(-851.7 -205.781055)">3</text>
     </g>
    </g>
    <g id="ytick_24">
     <g id="line2d_76">
      <g>
       <path d="M 0 0 L 7 0" transform="translate(857.1 160.669739)" style="stroke: #000000; stroke-width: 1.5"/>
      </g>
     </g>
     <g id="line2d_77">
      <g>
       <path d="M 0 0 L -7 0" transform="translate(1037.3 160.669739)" style="stroke: #000000; stroke-width: 1.5"/>
      </g>
     </g>
     <g id="text_42">
      <text style="font-size: 16px; font-family: 'DejaVu Sans', sans-serif; text-anchor: end" x="851.7" y="166.748489" transform="translate(851.7 166.748489) scale(1.02 1) translate(-851.7 -166.748489)">4</text>
     </g>
    </g>
    <g id="ytick_25">
     <g id="line2d_78">
      <g>
       <path d="M 0 0 L 7 0" transform="translate(857.1 121.637174)" style="stroke: #000000; stroke-width: 1.5"/>
      </g>
     </g>
     <g id="line2d_79">
      <g>
       <path d="M 0 0 L -7 0" transform="translate(1037.3 121.637174)" style="stroke: #000000; stroke-width: 1.5"/>
      </g>
     </g>
     <g id="text_43">
      <text style="font-size: 16px; font-family: 'DejaVu Sans', sans-serif; text-anchor: end" x="851.7" y="127.715924" transform="translate(851.7 127.715924) scale(1.02 1) translate(-851.7 -127.715924)">5</text>
     </g>
    </g>
    <g id="ytick_26">
     <g id="line2d_80">
      <g>
       <path d="M 0 0 L 7 0" transform="translate(857.1 82.604609)" style="stroke: #000000; stroke-width: 1.5"/>
      </g>
     </g>
     <g id="line2d_81">
      <g>
       <path d="M 0 0 L -7 0" transform="translate(1037.3 82.604609)" style="stroke: #000000; stroke-width: 1.5"/>
      </g>
     </g>
     <g id="text_44">
      <text style="font-size: 16px; font-family: 'DejaVu Sans', sans-serif; text-anchor: end" x="851.7" y="88.683359" transform="translate(851.7 88.683359) scale(1.02 1) translate(-851.7 -88.683359)">6</text>
     </g>
    </g>
   </g>
   <g id="patch_25">
    <path d="M 864 316.8 L 870 316.5 L 871 316.4 L 872 316.2 L 873 316 L 874 315.8 L 875 315.6 L 876 315.4 L 877 315.1 L 878 314.9 L 879 314.6 L 880 314.4 L 881 314.2 L 882 314.2 L 883 314.2 L 883.9 314.3 L 884.9 314.5 L 885.9 314.7 L 886.9 315 L 887.9 315.2 L 888.9 315.3 L 889.9 315.4 L 890.9 315.5 L 891.9 315.6 L 892.9 315.7 L 893.9 315.7 L 894.9 315.8 L 895.9 315.8 L 896.9 315.8 L 897.9 315.6 L 898.9 315.2 L 899.9 314.4 L 900.9 313.3 L 901.8 312 L 902.8 310.5 L 903.8 308.8 L 904.8 306.8 L 905.8 304.6 L 906.8 302.4 L 907.8 300.4 L 908.8 298.6 L 909.8 296.8 L 910.8 295.1 L 911.8 293.6 L 912.8 292.1 L 913.8 290.8 L 914.8 289.7 L 915.8 288.5 L 916.8 287.4 L 917.8 286.1 L 918.7 284.5 L 919.7 282.6 L 920.7 280.4 L 921.7 277.7 L 922.7 274.5 L 923.7 270.7 L 924.7 266.2 L 925.7 261 L 926.7 255.2 L 927.7 248.7 L 928.7 241.4 L 929.7 233.5 L 930.7 225 L 931.7 216 L 932.7 206.6 L 933.7 197.1 L 934.7 187.6 L 935.7 178.2 L 936.6 169 L 937.6 160.1 L 938.6 151.4 L 939.6 143.1 L 940.6 135.6 L 941.6 129.1 L 942.6 123.5 L 943.6 118.6 L 944.6 114.3 L 945.6 110.4 L 946.6 107.1 L 947.6 104.3 L 948.6 101.8 L 949.6 99.5 L 950.6 97.3 L 951.6 95.1 L 952.6 92.6 L 953.5 89.9 L 954.5 86.9 L 955.5 83.9 L 956.5 80.9 L 957.5 77.8 L 958.5 74.6 L 959.5 71.2 L 960.5 68.1 L 961.5 65.7 L 962.5 64.5 L 963.5 64.7 L 964.5 66 L 965.5 68 L 966.5 70.7 L 967.5 74.1 L 968.5 78.6 L 969.5 83.8 L 970.5 89.7 L 971.4 96.3 L 972.4 103.7 L 973.4 111.4 L 974.4 119.2 L 975.4 127.2 L 976.4 135.2 L 977.4 142.8 L 978.4 149.9 L 979.4 156.6 L 980.4 163.2 L 981.4 170.2 L 982.4 177.6 L 983.4 185.4 L 984.4 193.6 L 985.4 202.2 L 986.4 211.1 L 987.4 220.4 L 988.3 229.7 L 989.3 238.8 L 990.3 247.8 L 991.3 256.5 L 992.3 264.7 L 993.3 272.4 L 994.3 279.5 L 995.3 286 L 996.3 291.6 L 997.3 296.4 L 998.3 300.5 L 999.3 303.8 L 1000.3 306.5 L 1001.3 308.6 L 1002.3 310.4 L 1003.3 311.9 L 1004.3 313.1 L 1005.3 314 L 1006.2 314.8 L 1007.2 315.5 L 1008.2 316 L 1009.2 316.3 L 1010.2 316.5 L 1016.2 316.8 L 1016.2 316.8 z" clip-path="url(#pf6448be936)" style="fill: #ff0000; opacity: 0.25"/>
   </g>
   <g id="line2d_82">
    <path d="M 864 316.8 L 871 316.4 L 876 315.4 L 881 314.2 L 883 314.2 L 884.9 314.5 L 887.9 315.2 L 890.9 315.5 L 895.9 315.8 L 896.9 315.8 L 897.9 315.6 L 898.9 315.2 L 899.9 314.4 L 900.9 313.3 L 901.8 312 L 902.8 310.5 L 903.8 308.8 L 905.8 304.6 L 907.8 300.4 L 909.8 296.8 L 911.8 293.6 L 913.8 290.8 L 917.8 286.1 L 918.7 284.5 L 919.7 282.6 L 920.7 280.4 L 921.7 277.7 L 922.7 274.5 L 923.7 270.7 L 924.7 266.2 L 925.7 261 L 926.7 255.2 L 928.7 241.4 L 930.7 225 L 933.7 197.1 L 937.6 160.1 L 939.6 143.1 L 940.6 135.6 L 941.6 129.1 L 942.6 123.5 L 944.6 114.3 L 945.6 110.4 L 946.6 107.1 L 947.6 104.3 L 949.6 99.5 L 951.6 95.1 L 953.5 89.9 L 956.5 80.9 L 958.5 74.6 L 960.5 68.1 L 961.5 65.7 L 962.5 64.5 L 963.5 64.7 L 964.5 66 L 965.5 68 L 966.5 70.7 L 967.5 74.1 L 968.5 78.6 L 969.5 83.8 L 970.5 89.7 L 972.4 103.7 L 978.4 149.9 L 981.4 170.2 L 983.4 185.4 L 985.4 202.2 L 992.3 264.7 L 994.3 279.5 L 995.3 286 L 996.3 291.6 L 997.3 296.4 L 998.3 300.5 L 999.3 303.8 L 1000.3 306.5 L 1001.3 308.6 L 1002.3 310.4 L 1003.3 311.9 L 1004.3 313.1 L 1005.3 314 L 1007.2 315.5 L 1008.2 316 L 1009.2 316.3 L 1010.2 316.5 L 1016.2 316.8 L 1016.2 316.8" clip-path="url(#pf6448be936)" style="fill: none; stroke: #e0203c; stroke-width: 1.55; stroke-linecap: square"/>
   </g>
   <g id="text_45">
    <text style="font-size: 16.5px; font-family: 'DejaVu Sans', sans-serif; text-anchor: start" x="865.1" y="78.197822" transform="translate(865.1 78.197822) scale(1.03 1) translate(-865.1 -78.197822)">(d)</text>
   </g>
   <g id="patch_26">
    <path d="M 857.1 316.8 L 857.1 51.2" style="fill: none; stroke: #000000; stroke-width: 2.2; stroke-linejoin: miter; stroke-linecap: square"/>
   </g>
   <g id="patch_27">
    <path d="M 1037.3 316.8 L 1037.3 51.2" style="fill: none; stroke: #000000; stroke-width: 2.2; stroke-linejoin: miter; stroke-linecap: square"/>
   </g>
   <g id="patch_28">
    <path d="M 857.1 316.8 L 1037.3 316.8" style="fill: none; stroke: #000000; stroke-width: 2.2; stroke-linejoin: miter; stroke-linecap: square"/>
   </g>
   <g id="patch_29">
    <path d="M 857.1 51.2 L 1037.3 51.2" style="fill: none; stroke: #000000; stroke-width: 2.2; stroke-linejoin: miter; stroke-linecap: square"/>
   </g>
  </g>
  <g id="axes_5">
   <g id="patch_30">
    <path d="M 99.5 649.1 L 279.7 649.1 L 279.7 383.5 L 99.5 383.5 z" style="fill: #ffffff"/>
   </g>
   <g id="patch_31">
    <path d="M 102.8 649.1 L 108.8 648.6 L 109.8 648.5 L 110.8 648.3 L 111.8 648.1 L 112.8 647.7 L 113.7 647.2 L 114.7 646.5 L 115.7 645.6 L 116.7 644.5 L 117.7 643.3 L 118.7 641.9 L 119.7 640.4 L 120.7 638.7 L 121.7 636.8 L 122.7 634.5 L 123.7 631.7 L 124.7 628.4 L 125.7 624.9 L 126.7 621.1 L 127.7 617 L 128.7 612.4 L 129.7 607.1 L 130.7 601.2 L 131.7 594.5 L 132.7 586.9 L 133.6 578.6 L 134.6 569.4 L 135.6 559.4 L 136.6 549.4 L 137.6 540 L 138.6 531.5 L 139.6 523.7 L 140.6 516.3 L 141.6 509.3 L 142.6 502.5 L 143.6 495.9 L 144.6 489.4 L 145.6 483.4 L 146.6 477.8 L 147.6 472.9 L 148.6 468.6 L 149.6 464.8 L 150.6 461.4 L 151.6 458.2 L 152.6 455.2 L 153.5 452.3 L 154.5 449.5 L 155.5 446.8 L 156.5 444.2 L 157.5 441.6 L 158.5 439.3 L 159.5 437 L 160.5 435 L 161.5 433.2 L 162.5 431.5 L 163.5 430 L 164.5 428.7 L 165.5 427.4 L 166.5 426.2 L 167.5 425.1 L 168.5 424 L 169.5 423.1 L 170.5 422.2 L 171.5 421.4 L 172.5 420.7 L 173.4 420 L 174.4 419.5 L 175.4 419 L 176.4 418.5 L 177.4 418 L 178.4 417.6 L 179.4 417.1 L 180.4 416.7 L 181.4 416.2 L 182.4 415.8 L 183.4 415.3 L 184.4 414.8 L 185.4 414.3 L 186.4 413.7 L 187.4 413 L 188.4 412.2 L 189.4 411.2 L 190.4 410.3 L 191.4 409.3 L 192.4 408.3 L 193.3 407.2 L 194.3 406 L 195.3 404.8 L 196.3 403.7 L 197.3 402.9 L 198.3 402.4 L 199.3 402.3 L 200.3 402.8 L 201.3 403.6 L 202.3 404.8 L 203.3 406.7 L 204.3 409.5 L 205.3 413.1 L 206.3 417.2 L 207.3 421.4 L 208.3 425.6 L 209.3 429.9 L 210.3 434.3 L 211.3 438.8 L 212.3 443.5 L 213.2 448.4 L 214.2 453.4 L 215.2 458.6 L 216.2 463.9 L 217.2 469.5 L 218.2 475.2 L 219.2 481.1 L 220.2 487.3 L 221.2 493.6 L 222.2 500.1 L 223.2 507 L 224.2 514.2 L 225.2 521.7 L 226.2 529.3 L 227.2 536.9 L 228.2 544.3 L 229.2 551.7 L 230.2 559 L 231.2 565.9 L 232.2 572.3 L 233.1 578.2 L 234.1 583.5 L 235.1 588.6 L 236.1 593.4 L 237.1 597.9 L 238.1 602.1 L 239.1 606.2 L 240.1 609.9 L 241.1 613.5 L 242.1 617 L 243.1 620.3 L 244.1 623.4 L 245.1 626.4 L 246.1 629 L 247.1 631.4 L 248.1 633.5 L 249.1 635.4 L 250.1 637.1 L 251.1 638.8 L 252.1 640.2 L 253 641.6 L 254 642.8 L 255 643.9 L 256 644.9 L 257 645.8 L 258 646.6 L 259 647.2 L 260 647.7 L 261 648.1 L 262 648.3 L 263 648.5 L 264 648.6 L 270 649.1 L 270 649.1 z" clip-path="url(#pfe638e4063)" style="fill: #0000ff; opacity: 0.25"/>
   </g>
   <g id="line2d_83">
    <path d="M 102.8 649.1 L 110.8 648.3 L 112.8 647.7 L 113.7 647.2 L 114.7 646.5 L 115.7 645.6 L 117.7 643.3 L 119.7 640.4 L 120.7 638.7 L 121.7 636.8 L 122.7 634.5 L 123.7 631.7 L 125.7 624.9 L 127.7 617 L 128.7 612.4 L 129.7 607.1 L 130.7 601.2 L 131.7 594.5 L 133.6 578.6 L 135.6 559.4 L 137.6 540 L 139.6 523.7 L 141.6 509.3 L 144.6 489.4 L 146.6 477.8 L 147.6 472.9 L 149.6 464.8 L 151.6 458.2 L 154.5 449.5 L 157.5 441.6 L 159.5 437 L 161.5 433.2 L 163.5 430 L 165.5 427.4 L 167.5 425.1 L 169.5 423.1 L 171.5 421.4 L 173.4 420 L 175.4 419 L 181.4 416.2 L 185.4 414.3 L 187.4 413 L 189.4 411.2 L 193.3 407.2 L 196.3 403.7 L 197.3 402.9 L 198.3 402.4 L 199.3 402.3 L 200.3 402.8 L 201.3 403.6 L 202.3 404.8 L 203.3 406.7 L 204.3 409.5 L 205.3 413.1 L 209.3 429.9 L 212.3 443.5 L 215.2 458.6 L 218.2 475.2 L 221.2 493.6 L 223.2 507 L 226.2 529.3 L 230.2 559 L 232.2 572.3 L 234.1 583.5 L 236.1 593.4 L 238.1 602.1 L 240.1 609.9 L 242.1 617 L 244.1 623.4 L 246.1 629 L 248.1 633.5 L 250.1 637.1 L 252.1 640.2 L 254 642.8 L 256 644.9 L 258 646.6 L 259 647.2 L 260 647.7 L 262 648.3 L 264 648.6 L 270 649.1 L 270 649.1" clip-path="url(#pfe638e4063)" style="fill: none; stroke: #2a2ad8; stroke-width: 1.55; stroke-linecap: square"/>
   </g>
   <g id="matplotlib.axis_9">
    <g id="xtick_12">
     <g id="line2d_84">
      <g>
       <path d="M 0 0 L 0 -7" transform="translate(135.3 649.1)" style="stroke: #000000; stroke-width: 1.5"/>
      </g>
     </g>
     <g id="line2d_85">
      <g>
       <path d="M 0 0 L 0 7" transform="translate(135.3 383.5)" style="stroke: #000000; stroke-width: 1.5"/>
      </g>
     </g>
     <g id="text_46">
      <text style="font-size: 16px; font-family: 'DejaVu Sans', sans-serif; text-anchor: middle" x="135.3" y="666.7575" transform="translate(135.3 666.7575) scale(1.02 1) translate(-135.3 -666.7575)">50</text>
     </g>
    </g>
    <g id="xtick_13">
     <g id="line2d_86">
      <g>
       <path d="M 0 0 L 0 -7" transform="translate(185 649.1)" style="stroke: #000000; stroke-width: 1.5"/>
      </g>
     </g>
     <g id="line2d_87">
      <g>
       <path d="M 0 0 L 0 7" transform="translate(185 383.5)" style="stroke: #000000; stroke-width: 1.5"/>
      </g>
     </g>
     <g id="text_47">
      <text style="font-size: 16px; font-family: 'DejaVu Sans', sans-serif; text-anchor: middle" x="185" y="666.7575" transform="translate(185 666.7575) scale(1.02 1) translate(-185 -666.7575)">100</text>
     </g>
    </g>
    <g id="xtick_14">
     <g id="line2d_88">
      <g>
       <path d="M 0 0 L 0 -7" transform="translate(234.7 649.1)" style="stroke: #000000; stroke-width: 1.5"/>
      </g>
     </g>
     <g id="line2d_89">
      <g>
       <path d="M 0 0 L 0 7" transform="translate(234.7 383.5)" style="stroke: #000000; stroke-width: 1.5"/>
      </g>
     </g>
     <g id="text_48">
      <text style="font-size: 16px; font-family: 'DejaVu Sans', sans-serif; text-anchor: middle" x="234.7" y="666.7575" transform="translate(234.7 666.7575) scale(1.02 1) translate(-234.7 -666.7575)">150</text>
     </g>
    </g>
    <g id="text_49">
     <g transform="translate(100.56 690.153)">
      <text><tspan x="0" y="-0.078125" style="font-style: oblique; font-size: 16.8px; font-family: 'DejaVu Sans', sans-serif">ϕ</tspan><tspan x="11.049438" y="2.710938" style="font-style: oblique; font-size: 11.76px; font-family: 'DejaVu Sans', sans-serif">A</tspan><tspan x="19.0703" y="2.710938" style="font-size: 11.76px; font-family: 'DejaVu Sans', sans-serif">1</tspan><tspan x="26.530103" y="2.710938" style="font-size: 11.76px; font-family: 'DejaVu Sans', sans-serif">1</tspan><tspan x="36.274219" y="2.710938" style="font-size: 11.76px; font-family: 'DejaVu Sans', sans-serif">:</tspan><tspan x="42.50885" y="2.710938" style="font-style: oblique; font-size: 11.76px; font-family: 'DejaVu Sans', sans-serif">C</tspan><tspan x="50.69574" y="4.663281" style="font-style: oblique; font-size: 8.232px; font-family: 'DejaVu Sans', sans-serif">B</tspan><tspan x="58.936078" y="2.710938" style="font-size: 11.76px; font-family: 'DejaVu Sans', sans-serif">−</tspan><tspan x="71.044659" y="2.710938" style="font-style: oblique; font-size: 11.76px; font-family: 'DejaVu Sans', sans-serif">A</tspan><tspan x="79.065521" y="2.710938" style="font-size: 11.76px; font-family: 'DejaVu Sans', sans-serif">1</tspan><tspan x="86.525323" y="2.710938" style="font-size: 11.76px; font-family: 'DejaVu Sans', sans-serif">1</tspan><tspan x="96.26944" y="2.710938" style="font-size: 11.76px; font-family: 'DejaVu Sans', sans-serif">:</tspan><tspan x="102.504071" y="2.710938" style="font-style: oblique; font-size: 11.76px; font-family: 'DejaVu Sans', sans-serif">O</tspan><tspan x="114.017242" y="2.710938" style="font-size: 11.76px; font-family: 'DejaVu Sans', sans-serif">−</tspan><tspan x="126.125824" y="2.710938" style="font-style: oblique; font-size: 11.76px; font-family: 'DejaVu Sans', sans-serif">E</tspan><tspan x="133.5341" y="2.710938" style="font-size: 11.76px; font-family: 'DejaVu Sans', sans-serif">1</tspan><tspan x="140.993903" y="2.710938" style="font-size: 11.76px; font-family: 'DejaVu Sans', sans-serif">2</tspan><tspan x="150.738019" y="2.710938" style="font-size: 11.76px; font-family: 'DejaVu Sans', sans-serif">:</tspan><tspan x="156.97265" y="2.710938" style="font-style: oblique; font-size: 11.76px; font-family: 'DejaVu Sans', sans-serif">O</tspan><tspan x="166.201508" y="4.663281" style="font-style: oblique; font-size: 8.232px; font-family: 'DejaVu Sans', sans-serif">E</tspan><tspan x="171.387301" y="4.663281" style="font-size: 8.232px; font-family: 'DejaVu Sans', sans-serif">1</tspan></text>
     </g>
    </g>
   </g>
   <g id="matplotlib.axis_10">
    <g id="ytick_27">
     <g id="line2d_90">
      <g>
       <path d="M 0 0 L 7 0" transform="translate(99.5 649.042857)" style="stroke: #000000; stroke-width: 1.5"/>
      </g>
     </g>
     <g id="line2d_91">
      <g>
       <path d="M 0 0 L -7 0" transform="translate(279.7 649.042857)" style="stroke: #000000; stroke-width: 1.5"/>
      </g>
     </g>
     <g id="text_50">
      <text style="font-size: 16px; font-family: 'DejaVu Sans', sans-serif; text-anchor: end" x="94.1" y="655.121607" transform="translate(94.1 655.121607) scale(1.02 1) translate(-94.1 -655.121607)">0.000</text>
     </g>
    </g>
    <g id="ytick_28">
     <g id="line2d_92">
      <g>
       <path d="M 0 0 L 7 0" transform="translate(99.5 607.842857)" style="stroke: #000000; stroke-width: 1.5"/>
      </g>
     </g>
     <g id="line2d_93">
      <g>
       <path d="M 0 0 L -7 0" transform="translate(279.7 607.842857)" style="stroke: #000000; stroke-width: 1.5"/>
      </g>
     </g>
     <g id="text_51">
      <text style="font-size: 16px; font-family: 'DejaVu Sans', sans-serif; text-anchor: end" x="94.1" y="613.921607" transform="translate(94.1 613.921607) scale(1.02 1) translate(-94.1 -613.921607)">0.002</text>
     </g>
    </g>
    <g id="ytick_29">
     <g id="line2d_94">
      <g>
       <path d="M 0 0 L 7 0" transform="translate(99.5 566.642857)" style="stroke: #000000; stroke-width: 1.5"/>
      </g>
     </g>
     <g id="line2d_95">
      <g>
       <path d="M 0 0 L -7 0" transform="translate(279.7 566.642857)" style="stroke: #000000; stroke-width: 1.5"/>
      </g>
     </g>
     <g id="text_52">
      <text style="font-size: 16px; font-family: 'DejaVu Sans', sans-serif; text-anchor: end" x="94.1" y="572.721607" transform="translate(94.1 572.721607) scale(1.02 1) translate(-94.1 -572.721607)">0.004</text>
     </g>
    </g>
    <g id="ytick_30">
     <g id="line2d_96">
      <g>
       <path d="M 0 0 L 7 0" transform="translate(99.5 525.442857)" style="stroke: #000000; stroke-width: 1.5"/>
      </g>
     </g>
     <g id="line2d_97">
      <g>
       <path d="M 0 0 L -7 0" transform="translate(279.7 525.442857)" style="stroke: #000000; stroke-width: 1.5"/>
      </g>
     </g>
     <g id="text_53">
      <text style="font-size: 16px; font-family: 'DejaVu Sans', sans-serif; text-anchor: end" x="94.1" y="531.521607" transform="translate(94.1 531.521607) scale(1.02 1) translate(-94.1 -531.521607)">0.006</text>
     </g>
    </g>
    <g id="ytick_31">
     <g id="line2d_98">
      <g>
       <path d="M 0 0 L 7 0" transform="translate(99.5 484.242857)" style="stroke: #000000; stroke-width: 1.5"/>
      </g>
     </g>
     <g id="line2d_99">
      <g>
       <path d="M 0 0 L -7 0" transform="translate(279.7 484.242857)" style="stroke: #000000; stroke-width: 1.5"/>
      </g>
     </g>
     <g id="text_54">
      <text style="font-size: 16px; font-family: 'DejaVu Sans', sans-serif; text-anchor: end" x="94.1" y="490.321607" transform="translate(94.1 490.321607) scale(1.02 1) translate(-94.1 -490.321607)">0.008</text>
     </g>
    </g>
    <g id="ytick_32">
     <g id="line2d_100">
      <g>
       <path d="M 0 0 L 7 0" transform="translate(99.5 443.042857)" style="stroke: #000000; stroke-width: 1.5"/>
      </g>
     </g>
     <g id="line2d_101">
      <g>
       <path d="M 0 0 L -7 0" transform="translate(279.7 443.042857)" style="stroke: #000000; stroke-width: 1.5"/>
      </g>
     </g>
     <g id="text_55">
      <text style="font-size: 16px; font-family: 'DejaVu Sans', sans-serif; text-anchor: end" x="94.1" y="449.121607" transform="translate(94.1 449.121607) scale(1.02 1) translate(-94.1 -449.121607)">0.010</text>
     </g>
    </g>
    <g id="ytick_33">
     <g id="line2d_102">
      <g>
       <path d="M 0 0 L 7 0" transform="translate(99.5 401.842857)" style="stroke: #000000; stroke-width: 1.5"/>
      </g>
     </g>
     <g id="line2d_103">
      <g>
       <path d="M 0 0 L -7 0" transform="translate(279.7 401.842857)" style="stroke: #000000; stroke-width: 1.5"/>
      </g>
     </g>
     <g id="text_56">
      <text style="font-size: 16px; font-family: 'DejaVu Sans', sans-serif; text-anchor: end" x="94.1" y="407.921607" transform="translate(94.1 407.921607) scale(1.02 1) translate(-94.1 -407.921607)">0.012</text>
     </g>
    </g>
   </g>
   <g id="patch_32">
    <path d="M 105.3 649.1 L 111.3 648.6 L 112.3 648.5 L 113.3 648.3 L 114.2 648.1 L 115.2 647.7 L 116.2 647.2 L 117.2 646.5 L 118.2 645.7 L 119.2 644.7 L 120.2 643.5 L 121.2 642.2 L 122.2 640.7 L 123.2 639.1 L 124.2 637.1 L 125.2 634.6 L 126.2 631.9 L 127.2 628.7 L 128.2 625.1 L 129.2 620.9 L 130.2 616.1 L 131.2 610.4 L 132.2 603.9 L 133.2 596.3 L 134.2 587.9 L 135.2 578.6 L 136.2 568.5 L 137.2 557.8 L 138.2 547.1 L 139.2 537.2 L 140.2 528 L 141.2 519.4 L 142.2 511.1 L 143.1 503 L 144.1 495.1 L 145.1 487.9 L 146.1 481.8 L 147.1 476.9 L 148.1 473 L 149.1 469.7 L 150.1 466.4 L 151.1 463.1 L 152.1 459.7 L 153.1 456 L 154.1 452.4 L 155.1 448.7 L 156.1 445.2 L 157.1 441.7 L 158.1 438.3 L 159.1 435 L 160.1 431.7 L 161.1 428.5 L 162.1 425.4 L 163.1 422.5 L 164.1 420 L 165.1 417.7 L 166.1 415.5 L 167.1 413.5 L 168.1 411.6 L 169.1 409.8 L 170.1 408.3 L 171.1 407.2 L 172 406.6 L 173 406.4 L 174 406.4 L 175 406.5 L 176 406.6 L 177 406.8 L 178 407 L 179 407.1 L 180 407.3 L 181 407.4 L 182 407.5 L 183 407.3 L 184 407 L 185 406.3 L 186 405.4 L 187 404.3 L 188 403.1 L 189 401.8 L 190 400.5 L 191 399.2 L 192 398.2 L 193 397.3 L 194 396.7 L 195 396.5 L 196 396.6 L 197 397.1 L 198 397.8 L 199 398.8 L 200 400 L 200.9 401.5 L 201.9 403.6 L 202.9 406.2 L 203.9 409.2 L 204.9 412.6 L 205.9 416.2 L 206.9 419.9 L 207.9 423.7 L 208.9 427.6 L 209.9 431.9 L 210.9 436.4 L 211.9 441.1 L 212.9 446 L 213.9 451.1 L 214.9 456.3 L 215.9 461.6 L 216.9 467.1 L 217.9 472.8 L 218.9 478.6 L 219.9 484.7 L 220.9 491 L 221.9 497.4 L 222.9 504.2 L 223.9 511.3 L 224.9 518.8 L 225.9 526.4 L 226.9 534 L 227.9 541.4 L 228.9 548.8 L 229.9 556 L 230.8 563.1 L 231.8 569.8 L 232.8 576 L 233.8 581.9 L 234.8 587.5 L 235.8 592.9 L 236.8 597.9 L 237.8 602.7 L 238.8 607.2 L 239.8 611.5 L 240.8 615.5 L 241.8 619.4 L 242.8 623 L 243.8 626.3 L 244.8 629.1 L 245.8 631.5 L 246.8 633.7 L 247.8 635.6 L 248.8 637.4 L 249.8 639 L 250.8 640.4 L 251.8 641.7 L 252.8 642.9 L 253.8 643.9 L 254.8 644.9 L 255.8 645.8 L 256.8 646.6 L 257.8 647.2 L 258.8 647.7 L 259.7 648.1 L 260.7 648.3 L 261.7 648.5 L 262.7 648.6 L 268.7 649.1 L 268.7 649.1 z" clip-path="url(#pfe638e4063)" style="fill: #ff0000; opacity: 0.25"/>
   </g>
   <g id="line2d_104">
    <path d="M 105.3 649.1 L 113.3 648.3 L 115.2 647.7 L 116.2 647.2 L 117.2 646.5 L 118.2 645.7 L 120.2 643.5 L 122.2 640.7 L 123.2 639.1 L 124.2 637.1 L 125.2 634.6 L 126.2 631.9 L 127.2 628.7 L 128.2 625.1 L 129.2 620.9 L 130.2 616.1 L 131.2 610.4 L 132.2 603.9 L 133.2 596.3 L 135.2 578.6 L 140.2 528 L 143.1 503 L 145.1 487.9 L 146.1 481.8 L 147.1 476.9 L 148.1 473 L 154.1 452.4 L 157.1 441.7 L 161.1 428.5 L 163.1 422.5 L 165.1 417.7 L 168.1 411.6 L 169.1 409.8 L 170.1 408.3 L 171.1 407.2 L 172 406.6 L 173 406.4 L 175 406.5 L 182 407.5 L 183 407.3 L 184 407 L 185 406.3 L 186 405.4 L 188 403.1 L 191 399.2 L 192 398.2 L 193 397.3 L 194 396.7 L 195 396.5 L 196 396.6 L 197 397.1 L 198 397.8 L 199 398.8 L 200 400 L 200.9 401.5 L 201.9 403.6 L 202.9 406.2 L 204.9 412.6 L 207.9 423.7 L 209.9 431.9 L 211.9 441.1 L 214.9 456.3 L 217.9 472.8 L 220.9 491 L 222.9 504.2 L 224.9 518.8 L 228.9 548.8 L 231.8 569.8 L 233.8 581.9 L 235.8 592.9 L 237.8 602.7 L 239.8 611.5 L 241.8 619.4 L 243.8 626.3 L 244.8 629.1 L 246.8 633.7 L 248.8 637.4 L 250.8 640.4 L 252.8 642.9 L 254.8 644.9 L 256.8 646.6 L 257.8 647.2 L 258.8 647.7 L 260.7 648.3 L 262.7 648.6 L 268.7 649.1 L 268.7 649.1" clip-path="url(#pfe638e4063)" style="fill: none; stroke: #e0203c; stroke-width: 1.55; stroke-linecap: square"/>
   </g>
   <g id="text_57">
    <text style="font-size: 16.5px; font-family: 'DejaVu Sans', sans-serif; text-anchor: start" x="107.5" y="410.5" transform="translate(107.5 410.5) scale(1.03 1) translate(-107.5 -410.5)">(e)</text>
   </g>
   <g id="patch_33">
    <path d="M 99.5 649.1 L 99.5 383.5" style="fill: none; stroke: #000000; stroke-width: 2.2; stroke-linejoin: miter; stroke-linecap: square"/>
   </g>
   <g id="patch_34">
    <path d="M 279.7 649.1 L 279.7 383.5" style="fill: none; stroke: #000000; stroke-width: 2.2; stroke-linejoin: miter; stroke-linecap: square"/>
   </g>
   <g id="patch_35">
    <path d="M 99.5 649.1 L 279.7 649.1" style="fill: none; stroke: #000000; stroke-width: 2.2; stroke-linejoin: miter; stroke-linecap: square"/>
   </g>
   <g id="patch_36">
    <path d="M 99.5 383.5 L 279.7 383.5" style="fill: none; stroke: #000000; stroke-width: 2.2; stroke-linejoin: miter; stroke-linecap: square"/>
   </g>
  </g>
  <g id="axes_6">
   <g id="patch_37">
    <path d="M 352 649.1 L 532.2 649.1 L 532.2 383.5 L 352 383.5 z" style="fill: #ffffff"/>
   </g>
   <g id="patch_38">
    <path d="M 360.5 649.1 L 366.5 648.9 L 367.5 648.8 L 368.5 648.6 L 369.5 648.3 L 370.5 647.9 L 371.5 647.3 L 372.5 646.7 L 373.5 646.1 L 374.5 645.3 L 375.5 644.6 L 376.5 643.7 L 377.5 642.6 L 378.5 641.4 L 379.5 639.9 L 380.5 638.2 L 381.5 636.3 L 382.5 634.4 L 383.5 632.4 L 384.5 630.4 L 385.5 628.3 L 386.5 626 L 387.5 623.7 L 388.5 621.2 L 389.5 618.7 L 390.4 616.2 L 391.4 613.8 L 392.4 611.4 L 393.4 609.1 L 394.4 606.7 L 395.4 604.4 L 396.4 602.2 L 397.4 600.2 L 398.4 598.4 L 399.4 596.8 L 400.4 595.3 L 401.4 593.9 L 402.4 592.7 L 403.4 591.5 L 404.4 590.2 L 405.4 588.9 L 406.4 587.6 L 407.4 586.3 L 408.4 585 L 409.4 583.6 L 410.4 582.2 L 411.4 580.9 L 412.4 579.4 L 413.4 578 L 414.4 576.7 L 415.4 575.7 L 416.4 574.9 L 417.3 574.3 L 418.3 573.9 L 419.3 573.7 L 420.3 573.9 L 421.3 574.3 L 422.3 575.1 L 423.3 576 L 424.3 577.2 L 425.3 578.7 L 426.3 580.6 L 427.3 582.7 L 428.3 584.7 L 429.3 586.5 L 430.3 588.2 L 431.3 589.8 L 432.3 591.2 L 433.3 592.4 L 434.3 593.2 L 435.3 593.4 L 436.3 593.2 L 437.3 592.6 L 438.3 591.6 L 439.3 589.6 L 440.3 585.7 L 441.3 579.8 L 442.3 572.6 L 443.2 564.6 L 444.2 555.9 L 445.2 546.5 L 446.2 536.8 L 447.2 526.9 L 448.2 517 L 449.2 507 L 450.2 497 L 451.2 487 L 452.2 477.2 L 453.2 467.4 L 454.2 458.3 L 455.2 450.2 L 456.2 443.1 L 457.2 436.9 L 458.2 431.3 L 459.2 426.2 L 460.2 421.7 L 461.2 417.6 L 462.2 413.9 L 463.2 410.8 L 464.2 408.5 L 465.2 406.9 L 466.2 405.8 L 467.2 405 L 468.2 404.6 L 469.2 404.8 L 470.1 405.7 L 471.1 407.2 L 472.1 409.1 L 473.1 411.7 L 474.1 415.3 L 475.1 420.2 L 476.1 426 L 477.1 432.4 L 478.1 439.2 L 479.1 446.3 L 480.1 454 L 481.1 462.3 L 482.1 470.8 L 483.1 479.5 L 484.1 488.3 L 485.1 497.2 L 486.1 506.3 L 487.1 515.4 L 488.1 524.4 L 489.1 533.2 L 490.1 541.6 L 491.1 549.9 L 492.1 558 L 493.1 565.8 L 494.1 573.2 L 495.1 580.3 L 496.1 587 L 497 593.5 L 498 599.6 L 499 605.4 L 500 610.7 L 501 615.7 L 502 620.3 L 503 624.7 L 504 628.7 L 505 632.3 L 506 635.4 L 507 638.2 L 508 640.7 L 509 643 L 510 644.9 L 511 646.3 L 512 647.3 L 513 648 L 514 648.4 L 515 648.8 L 516 648.9 L 522 649.1 L 522 649.1 z" clip-path="url(#pc96ba9d13e)" style="fill: #0000ff; opacity: 0.25"/>
   </g>
   <g id="line2d_105">
    <path d="M 360.5 649.1 L 367.5 648.8 L 368.5 648.6 L 370.5 647.9 L 372.5 646.7 L 374.5 645.3 L 376.5 643.7 L 377.5 642.6 L 378.5 641.4 L 380.5 638.2 L 382.5 634.4 L 385.5 628.3 L 387.5 623.7 L 393.4 609.1 L 396.4 602.2 L 398.4 598.4 L 400.4 595.3 L 402.4 592.7 L 406.4 587.6 L 411.4 580.9 L 414.4 576.7 L 415.4 575.7 L 416.4 574.9 L 417.3 574.3 L 418.3 573.9 L 419.3 573.7 L 420.3 573.9 L 421.3 574.3 L 422.3 575.1 L 423.3 576 L 424.3 577.2 L 425.3 578.7 L 427.3 582.7 L 429.3 586.5 L 431.3 589.8 L 432.3 591.2 L 433.3 592.4 L 434.3 593.2 L 435.3 593.4 L 436.3 593.2 L 437.3 592.6 L 438.3 591.6 L 439.3 589.6 L 440.3 585.7 L 441.3 579.8 L 443.2 564.6 L 445.2 546.5 L 451.2 487 L 454.2 458.3 L 455.2 450.2 L 456.2 443.1 L 458.2 431.3 L 460.2 421.7 L 462.2 413.9 L 463.2 410.8 L 464.2 408.5 L 465.2 406.9 L 466.2 405.8 L 467.2 405 L 468.2 404.6 L 469.2 404.8 L 470.1 405.7 L 471.1 407.2 L 472.1 409.1 L 473.1 411.7 L 474.1 415.3 L 475.1 420.2 L 477.1 432.4 L 479.1 446.3 L 481.1 462.3 L 485.1 497.2 L 490.1 541.6 L 493.1 565.8 L 495.1 580.3 L 497 593.5 L 499 605.4 L 501 615.7 L 503 624.7 L 505 632.3 L 507 638.2 L 509 643 L 510 644.9 L 511 646.3 L 512 647.3 L 513 648 L 514 648.4 L 515 648.8 L 516 648.9 L 522 649.1 L 522 649.1" clip-path="url(#pc96ba9d13e)" style="fill: none; stroke: #2a2ad8; stroke-width: 1.55; stroke-linecap: square"/>
   </g>
   <g id="matplotlib.axis_11">
    <g id="xtick_15">
     <g id="line2d_106">
      <g>
       <path d="M 0 0 L 0 -7" transform="translate(430.8 649.1)" style="stroke: #000000; stroke-width: 1.5"/>
      </g>
     </g>
     <g id="line2d_107">
      <g>
       <path d="M 0 0 L 0 7" transform="translate(430.8 383.5)" style="stroke: #000000; stroke-width: 1.5"/>
      </g>
     </g>
     <g id="text_58">
      <text style="font-size: 16px; font-family: 'DejaVu Sans', sans-serif; text-anchor: middle" x="430.8" y="666.7575" transform="translate(430.8 666.7575) scale(1.02 1) translate(-430.8 -666.7575)">100</text>
     </g>
    </g>
    <g id="xtick_16">
     <g id="line2d_108">
      <g>
       <path d="M 0 0 L 0 -7" transform="translate(515.9 649.1)" style="stroke: #000000; stroke-width: 1.5"/>
      </g>
     </g>
     <g id="line2d_109">
      <g>
       <path d="M 0 0 L 0 7" transform="translate(515.9 383.5)" style="stroke: #000000; stroke-width: 1.5"/>
      </g>
     </g>
     <g id="text_59">
      <text style="font-size: 16px; font-family: 'DejaVu Sans', sans-serif; text-anchor: middle" x="515.9" y="666.7575" transform="translate(515.9 666.7575) scale(1.02 1) translate(-515.9 -666.7575)">200</text>
     </g>
    </g>
    <g id="text_60">
     <g transform="translate(370.196 690.153)">
      <text><tspan x="0" y="-0.078125" style="font-style: oblique; font-size: 16.8px; font-family: 'DejaVu Sans', sans-serif">ϕ</tspan><tspan x="11.049438" y="2.710938" style="font-style: oblique; font-size: 11.76px; font-family: 'DejaVu Sans', sans-serif">S</tspan><tspan x="18.492065" y="2.710938" style="font-size: 11.76px; font-family: 'DejaVu Sans', sans-serif">1</tspan><tspan x="28.236182" y="2.710938" style="font-size: 11.76px; font-family: 'DejaVu Sans', sans-serif">:</tspan><tspan x="34.470813" y="2.710938" style="font-style: oblique; font-size: 11.76px; font-family: 'DejaVu Sans', sans-serif">C</tspan><tspan x="42.657703" y="4.663281" style="font-style: oblique; font-size: 8.232px; font-family: 'DejaVu Sans', sans-serif">B</tspan><tspan x="50.898041" y="2.710938" style="font-size: 11.76px; font-family: 'DejaVu Sans', sans-serif">−</tspan><tspan x="63.006622" y="2.710938" style="font-style: oblique; font-size: 11.76px; font-family: 'DejaVu Sans', sans-serif">A</tspan><tspan x="71.027484" y="2.710938" style="font-size: 11.76px; font-family: 'DejaVu Sans', sans-serif">2</tspan><tspan x="80.7716" y="2.710938" style="font-size: 11.76px; font-family: 'DejaVu Sans', sans-serif">:</tspan><tspan x="87.006232" y="2.710938" style="font-style: oblique; font-size: 11.76px; font-family: 'DejaVu Sans', sans-serif">C</tspan><tspan x="97.477435" y="2.710938" style="font-size: 11.76px; font-family: 'DejaVu Sans', sans-serif">−</tspan><tspan x="109.586017" y="2.710938" style="font-style: oblique; font-size: 11.76px; font-family: 'DejaVu Sans', sans-serif">A</tspan><tspan x="117.606879" y="2.710938" style="font-size: 11.76px; font-family: 'DejaVu Sans', sans-serif">2</tspan><tspan x="127.350995" y="2.710938" style="font-size: 11.76px; font-family: 'DejaVu Sans', sans-serif">:</tspan><tspan x="133.585626" y="2.710938" style="font-style: oblique; font-size: 11.76px; font-family: 'DejaVu Sans', sans-serif">O</tspan></text>
     </g>
    </g>
   </g>
   <g id="matplotlib.axis_12">
    <g id="ytick_34">
     <g id="line2d_110">
      <g>
       <path d="M 0 0 L 7 0" transform="translate(352 649.1)" style="stroke: #000000; stroke-width: 1.5"/>
      </g>
     </g>
     <g id="line2d_111">
      <g>
       <path d="M 0 0 L -7 0" transform="translate(532.2 649.1)" style="stroke: #000000; stroke-width: 1.5"/>
      </g>
     </g>
     <g id="text_61">
      <text style="font-size: 16px; font-family: 'DejaVu Sans', sans-serif; text-anchor: end" x="346.6" y="655.17875" transform="translate(346.6 655.17875) scale(1.02 1) translate(-346.6 -655.17875)">0.000</text>
     </g>
    </g>
    <g id="ytick_35">
     <g id="line2d_112">
      <g>
       <path d="M 0 0 L 7 0" transform="translate(352 575.45)" style="stroke: #000000; stroke-width: 1.5"/>
      </g>
     </g>
     <g id="line2d_113">
      <g>
       <path d="M 0 0 L -7 0" transform="translate(532.2 575.45)" style="stroke: #000000; stroke-width: 1.5"/>
      </g>
     </g>
     <g id="text_62">
      <text style="font-size: 16px; font-family: 'DejaVu Sans', sans-serif; text-anchor: end" x="346.6" y="581.52875" transform="translate(346.6 581.52875) scale(1.02 1) translate(-346.6 -581.52875)">0.005</text>
     </g>
    </g>
    <g id="ytick_36">
     <g id="line2d_114">
      <g>
       <path d="M 0 0 L 7 0" transform="translate(352 501.8)" style="stroke: #000000; stroke-width: 1.5"/>
      </g>
     </g>
     <g id="line2d_115">
      <g>
       <path d="M 0 0 L -7 0" transform="translate(532.2 501.8)" style="stroke: #000000; stroke-width: 1.5"/>
      </g>
     </g>
     <g id="text_63">
      <text style="font-size: 16px; font-family: 'DejaVu Sans', sans-serif; text-anchor: end" x="346.6" y="507.87875" transform="translate(346.6 507.87875) scale(1.02 1) translate(-346.6 -507.87875)">0.010</text>
     </g>
    </g>
    <g id="ytick_37">
     <g id="line2d_116">
      <g>
       <path d="M 0 0 L 7 0" transform="translate(352 428.15)" style="stroke: #000000; stroke-width: 1.5"/>
      </g>
     </g>
     <g id="line2d_117">
      <g>
       <path d="M 0 0 L -7 0" transform="translate(532.2 428.15)" style="stroke: #000000; stroke-width: 1.5"/>
      </g>
     </g>
     <g id="text_64">
      <text style="font-size: 16px; font-family: 'DejaVu Sans', sans-serif; text-anchor: end" x="346.6" y="434.22875" transform="translate(346.6 434.22875) scale(1.02 1) translate(-346.6 -434.22875)">0.015</text>
     </g>
    </g>
   </g>
   <g id="patch_39">
    <path d="M 360.5 649.1 L 366.5 648.9 L 367.5 648.8 L 368.5 648.6 L 369.5 648.3 L 370.5 647.9 L 371.5 647.3 L 372.5 646.7 L 373.5 646.1 L 374.5 645.3 L 375.5 644.6 L 376.5 643.7 L 377.5 642.6 L 378.5 641.4 L 379.5 639.9 L 380.5 638.2 L 381.5 636.3 L 382.5 634.4 L 383.5 632.4 L 384.5 630.4 L 385.5 628.3 L 386.5 626 L 387.5 623.6 L 388.5 621.1 L 389.5 618.6 L 390.4 616.1 L 391.4 613.8 L 392.4 611.6 L 393.4 609.4 L 394.4 607.2 L 395.4 605.2 L 396.4 603.2 L 397.4 601.4 L 398.4 599.7 L 399.4 598.3 L 400.4 597 L 401.4 595.8 L 402.4 594.7 L 403.4 593.5 L 404.4 592.4 L 405.4 591.1 L 406.4 589.8 L 407.4 588.4 L 408.4 586.9 L 409.4 585.3 L 410.4 583.8 L 411.4 582.2 L 412.4 580.7 L 413.4 579.1 L 414.4 577.7 L 415.4 576.6 L 416.4 575.7 L 417.3 575 L 418.3 574.5 L 419.3 574.3 L 420.3 574.4 L 421.3 574.9 L 422.3 575.6 L 423.3 576.6 L 424.3 577.8 L 425.3 579.4 L 426.3 581.4 L 427.3 583.6 L 428.3 585.8 L 429.3 587.9 L 430.3 589.8 L 431.3 591.7 L 432.3 593.5 L 433.3 595 L 434.3 595.9 L 435.3 596.2 L 436.3 596 L 437.3 595.4 L 438.3 594.4 L 439.3 592.9 L 440.3 590.1 L 441.3 585.9 L 442.3 580.6 L 443.2 574.2 L 444.2 566.8 L 445.2 558 L 446.2 548.3 L 447.2 538.1 L 448.2 527.8 L 449.2 517.2 L 450.2 506.5 L 451.2 495.8 L 452.2 485.2 L 453.2 474.8 L 454.2 464.6 L 455.2 455.1 L 456.2 446.6 L 457.2 439 L 458.2 432.1 L 459.2 425.9 L 460.2 420.4 L 461.2 415.5 L 462.2 411.1 L 463.2 407.4 L 464.2 404.3 L 465.2 401.8 L 466.2 399.6 L 467.2 397.9 L 468.2 396.7 L 469.2 396.4 L 470.1 396.9 L 471.1 398.3 L 472.1 400.4 L 473.1 403.2 L 474.1 407.1 L 475.1 412.7 L 476.1 419.9 L 477.1 427.8 L 478.1 436 L 479.1 444.1 L 480.1 452.3 L 481.1 460.7 L 482.1 469.4 L 483.1 478.1 L 484.1 486.9 L 485.1 495.9 L 486.1 504.9 L 487.1 514 L 488.1 523 L 489.1 531.8 L 490.1 540.3 L 491.1 548.7 L 492.1 557 L 493.1 564.9 L 494.1 572.5 L 495.1 579.7 L 496.1 586.5 L 497 592.9 L 498 599.1 L 499 604.8 L 500 610.1 L 501 615.1 L 502 619.7 L 503 624.1 L 504 628.1 L 505 631.7 L 506 634.9 L 507 637.6 L 508 640.1 L 509 642.3 L 510 644.2 L 511 645.7 L 512 646.8 L 513 647.6 L 514 648.2 L 515 648.7 L 516 648.9 L 522 649.1 L 522 649.1 z" clip-path="url(#pc96ba9d13e)" style="fill: #ff0000; opacity: 0.25"/>
   </g>
   <g id="line2d_118">
    <path d="M 360.5 649.1 L 367.5 648.8 L 368.5 648.6 L 370.5 647.9 L 372.5 646.7 L 374.5 645.3 L 376.5 643.7 L 377.5 642.6 L 378.5 641.4 L 380.5 638.2 L 382.5 634.4 L 385.5 628.3 L 387.5 623.6 L 391.4 613.8 L 394.4 607.2 L 396.4 603.2 L 398.4 599.7 L 400.4 597 L 406.4 589.8 L 409.4 585.3 L 414.4 577.7 L 415.4 576.6 L 416.4 575.7 L 417.3 575 L 418.3 574.5 L 419.3 574.3 L 420.3 574.4 L 421.3 574.9 L 422.3 575.6 L 423.3 576.6 L 424.3 577.8 L 425.3 579.4 L 427.3 583.6 L 429.3 587.9 L 432.3 593.5 L 433.3 595 L 434.3 595.9 L 435.3 596.2 L 436.3 596 L 437.3 595.4 L 438.3 594.4 L 439.3 592.9 L 440.3 590.1 L 441.3 585.9 L 442.3 580.6 L 443.2 574.2 L 444.2 566.8 L 446.2 548.3 L 449.2 517.2 L 454.2 464.6 L 456.2 446.6 L 458.2 432.1 L 459.2 425.9 L 461.2 415.5 L 462.2 411.1 L 463.2 407.4 L 464.2 404.3 L 465.2 401.8 L 466.2 399.6 L 467.2 397.9 L 468.2 396.7 L 469.2 396.4 L 470.1 396.9 L 471.1 398.3 L 472.1 400.4 L 473.1 403.2 L 474.1 407.1 L 475.1 412.7 L 476.1 419.9 L 480.1 452.3 L 484.1 486.9 L 491.1 548.7 L 494.1 572.5 L 496.1 586.5 L 498 599.1 L 500 610.1 L 502 619.7 L 504 628.1 L 505 631.7 L 506 634.9 L 508 640.1 L 509 642.3 L 510 644.2 L 511 645.7 L 512 646.8 L 513 647.6 L 514 648.2 L 515 648.7 L 516 648.9 L 522 649.1 L 522 649.1" clip-path="url(#pc96ba9d13e)" style="fill: none; stroke: #e0203c; stroke-width: 1.55; stroke-linecap: square"/>
   </g>
   <g id="text_65">
    <text style="font-size: 16.5px; font-family: 'DejaVu Sans', sans-serif; text-anchor: start" x="360" y="410.5" transform="translate(360 410.5) scale(1.03 1) translate(-360 -410.5)">(f)</text>
   </g>
   <g id="patch_40">
    <path d="M 352 649.1 L 352 383.5" style="fill: none; stroke: #000000; stroke-width: 2.2; stroke-linejoin: miter; stroke-linecap: square"/>
   </g>
   <g id="patch_41">
    <path d="M 532.2 649.1 L 532.2 383.5" style="fill: none; stroke: #000000; stroke-width: 2.2; stroke-linejoin: miter; stroke-linecap: square"/>
   </g>
   <g id="patch_42">
    <path d="M 352 649.1 L 532.2 649.1" style="fill: none; stroke: #000000; stroke-width: 2.2; stroke-linejoin: miter; stroke-linecap: square"/>
   </g>
   <g id="patch_43">
    <path d="M 352 383.5 L 532.2 383.5" style="fill: none; stroke: #000000; stroke-width: 2.2; stroke-linejoin: miter; stroke-linecap: square"/>
   </g>
  </g>
  <g id="axes_7">
   <g id="patch_44">
    <path d="M 604.6 649.1 L 784.8 649.1 L 784.8 383.5 L 604.6 383.5 z" style="fill: #ffffff"/>
   </g>
   <g id="patch_45">
    <path d="M 613.5 649.1 L 619.5 648.9 L 620.5 648.8 L 621.5 648.5 L 622.5 648.2 L 623.5 647.7 L 624.5 647.2 L 625.5 646.6 L 626.5 646 L 627.5 645.3 L 628.5 644.6 L 629.5 643.8 L 630.5 642.9 L 631.5 641.9 L 632.5 640.8 L 633.4 639.5 L 634.4 638.1 L 635.4 636.6 L 636.4 635 L 637.4 633.2 L 638.4 631.2 L 639.4 629 L 640.4 626.5 L 641.4 623.7 L 642.4 620.7 L 643.4 617.5 L 644.4 614.1 L 645.4 610.5 L 646.4 606.5 L 647.4 602.2 L 648.4 597.5 L 649.3 592.7 L 650.3 587.5 L 651.3 582.1 L 652.3 576.4 L 653.3 570.4 L 654.3 564.2 L 655.3 558 L 656.3 551.7 L 657.3 545.3 L 658.3 538.9 L 659.3 532.4 L 660.3 525.9 L 661.3 519.4 L 662.3 512.8 L 663.3 506.3 L 664.2 499.8 L 665.2 493.3 L 666.2 487 L 667.2 480.6 L 668.2 474.2 L 669.2 467.8 L 670.2 461.7 L 671.2 455.9 L 672.2 450.7 L 673.2 446.1 L 674.2 441.9 L 675.2 438 L 676.2 434.6 L 677.2 431.6 L 678.2 429.2 L 679.2 427.1 L 680.1 425.3 L 681.1 423.7 L 682.1 422.4 L 683.1 421.2 L 684.1 420.2 L 685.1 419.3 L 686.1 418.6 L 687.1 418.1 L 688.1 417.9 L 689.1 418.1 L 690.1 418.7 L 691.1 419.5 L 692.1 420.6 L 693.1 422.1 L 694.1 424.2 L 695 426.7 L 696 429.5 L 697 432.4 L 698 435.3 L 699 438.4 L 700 441.6 L 701 444.8 L 702 447.7 L 703 450.2 L 704 452.3 L 705 453.9 L 706 455.4 L 707 456.7 L 708 458.2 L 709 459.7 L 710 461.4 L 710.9 463.2 L 711.9 465.3 L 712.9 468 L 713.9 471.7 L 714.9 476.5 L 715.9 482.1 L 716.9 487.9 L 717.9 493.8 L 718.9 499.7 L 719.9 505.7 L 720.9 511.8 L 721.9 517.8 L 722.9 523.8 L 723.9 529.8 L 724.9 535.8 L 725.9 541.7 L 726.8 547.6 L 727.8 553.3 L 728.8 558.9 L 729.8 564.4 L 730.8 569.8 L 731.8 575.2 L 732.8 580.5 L 733.8 585.8 L 734.8 591.2 L 735.8 596.3 L 736.8 601.2 L 737.8 605.5 L 738.8 609.3 L 739.8 612.7 L 740.8 615.7 L 741.7 618.6 L 742.7 621.2 L 743.7 623.7 L 744.7 626 L 745.7 628.2 L 746.7 630.3 L 747.7 632.3 L 748.7 634.2 L 749.7 636 L 750.7 637.6 L 751.7 639 L 752.7 640.3 L 753.7 641.5 L 754.7 642.6 L 755.7 643.6 L 756.7 644.6 L 757.6 645.4 L 758.6 646.2 L 759.6 646.8 L 760.6 647.3 L 761.6 647.7 L 762.6 648 L 763.6 648.3 L 764.6 648.6 L 765.6 648.8 L 766.6 648.9 L 767.6 649 L 773.6 649.1 L 773.6 649.1 z" clip-path="url(#pa0f1404e85)" style="fill: #0000ff; opacity: 0.25"/>
   </g>
   <g id="line2d_119">
    <path d="M 613.5 649.1 L 620.5 648.8 L 622.5 648.2 L 624.5 647.2 L 626.5 646 L 629.5 643.8 L 631.5 641.9 L 633.4 639.5 L 635.4 636.6 L 637.4 633.2 L 638.4 631.2 L 639.4 629 L 641.4 623.7 L 643.4 617.5 L 645.4 610.5 L 647.4 602.2 L 649.3 592.7 L 651.3 582.1 L 653.3 570.4 L 658.3 538.9 L 669.2 467.8 L 671.2 455.9 L 673.2 446.1 L 675.2 438 L 676.2 434.6 L 677.2 431.6 L 678.2 429.2 L 679.2 427.1 L 681.1 423.7 L 682.1 422.4 L 684.1 420.2 L 686.1 418.6 L 687.1 418.1 L 688.1 417.9 L 689.1 418.1 L 690.1 418.7 L 691.1 419.5 L 692.1 420.6 L 693.1 422.1 L 694.1 424.2 L 696 429.5 L 699 438.4 L 702 447.7 L 703 450.2 L 704 452.3 L 705 453.9 L 709 459.7 L 710.9 463.2 L 711.9 465.3 L 712.9 468 L 713.9 471.7 L 714.9 476.5 L 717.9 493.8 L 729.8 564.4 L 734.8 591.2 L 736.8 601.2 L 737.8 605.5 L 739.8 612.7 L 741.7 618.6 L 743.7 623.7 L 745.7 628.2 L 747.7 632.3 L 749.7 636 L 751.7 639 L 753.7 641.5 L 755.7 643.6 L 757.6 645.4 L 759.6 646.8 L 761.6 647.7 L 763.6 648.3 L 765.6 648.8 L 767.6 649 L 773.6 649.1 L 773.6 649.1" clip-path="url(#pa0f1404e85)" style="fill: none; stroke: #2a2ad8; stroke-width: 1.55; stroke-linecap: square"/>
   </g>
   <g id="matplotlib.axis_13">
    <g id="xtick_17">
     <g id="line2d_120">
      <g>
       <path d="M 0 0 L 0 -7" transform="translate(648.233333 649.1)" style="stroke: #000000; stroke-width: 1.5"/>
      </g>
     </g>
     <g id="line2d_121">
      <g>
       <path d="M 0 0 L 0 7" transform="translate(648.233333 383.5)" style="stroke: #000000; stroke-width: 1.5"/>
      </g>
     </g>
     <g id="text_66">
      <text style="font-size: 16px; font-family: 'DejaVu Sans', sans-serif; text-anchor: middle" x="648.233333" y="666.7575" transform="translate(648.233333 666.7575) scale(1.02 1) translate(-648.233333 -666.7575)">85</text>
     </g>
    </g>
    <g id="xtick_18">
     <g id="line2d_122">
      <g>
       <path d="M 0 0 L 0 -7" transform="translate(697.833333 649.1)" style="stroke: #000000; stroke-width: 1.5"/>
      </g>
     </g>
     <g id="line2d_123">
      <g>
       <path d="M 0 0 L 0 7" transform="translate(697.833333 383.5)" style="stroke: #000000; stroke-width: 1.5"/>
      </g>
     </g>
     <g id="text_67">
      <text style="font-size: 16px; font-family: 'DejaVu Sans', sans-serif; text-anchor: middle" x="697.833333" y="666.7575" transform="translate(697.833333 666.7575) scale(1.02 1) translate(-697.833333 -666.7575)">90</text>
     </g>
    </g>
    <g id="xtick_19">
     <g id="line2d_124">
      <g>
       <path d="M 0 0 L 0 -7" transform="translate(747.433333 649.1)" style="stroke: #000000; stroke-width: 1.5"/>
      </g>
     </g>
     <g id="line2d_125">
      <g>
       <path d="M 0 0 L 0 7" transform="translate(747.433333 383.5)" style="stroke: #000000; stroke-width: 1.5"/>
      </g>
     </g>
     <g id="text_68">
      <text style="font-size: 16px; font-family: 'DejaVu Sans', sans-serif; text-anchor: middle" x="747.433333" y="666.7575" transform="translate(747.433333 666.7575) scale(1.02 1) translate(-747.433333 -666.7575)">95</text>
     </g>
    </g>
    <g id="text_69">
     <g transform="translate(610.196 690.153)">
      <text><tspan x="0" y="-0.078125" style="font-style: oblique; font-size: 16.8px; font-family: 'DejaVu Sans', sans-serif">ϕ</tspan><tspan x="11.049438" y="2.710938" style="font-style: oblique; font-size: 11.76px; font-family: 'DejaVu Sans', sans-serif">R</tspan><tspan x="19.196252" y="2.710938" style="font-size: 11.76px; font-family: 'DejaVu Sans', sans-serif">9</tspan><tspan x="28.940369" y="2.710938" style="font-size: 11.76px; font-family: 'DejaVu Sans', sans-serif">:</tspan><tspan x="35.175" y="2.710938" style="font-style: oblique; font-size: 11.76px; font-family: 'DejaVu Sans', sans-serif">C</tspan><tspan x="43.36189" y="4.663281" style="font-style: oblique; font-size: 8.232px; font-family: 'DejaVu Sans', sans-serif">D</tspan><tspan x="52.29153" y="2.710938" style="font-size: 11.76px; font-family: 'DejaVu Sans', sans-serif">−</tspan><tspan x="64.400111" y="2.710938" style="font-style: oblique; font-size: 11.76px; font-family: 'DejaVu Sans', sans-serif">R</tspan><tspan x="72.546925" y="2.710938" style="font-size: 11.76px; font-family: 'DejaVu Sans', sans-serif">9</tspan><tspan x="82.291041" y="2.710938" style="font-size: 11.76px; font-family: 'DejaVu Sans', sans-serif">:</tspan><tspan x="88.525673" y="2.710938" style="font-style: oblique; font-size: 11.76px; font-family: 'DejaVu Sans', sans-serif">N</tspan><tspan x="97.296522" y="4.663281" style="font-style: oblique; font-size: 8.232px; font-family: 'DejaVu Sans', sans-serif">H</tspan><tspan x="103.468177" y="4.663281" style="font-size: 8.232px; font-family: 'DejaVu Sans', sans-serif">1</tspan><tspan x="111.299744" y="2.710938" style="font-size: 11.76px; font-family: 'DejaVu Sans', sans-serif">−</tspan><tspan x="123.408325" y="2.710938" style="font-style: oblique; font-size: 11.76px; font-family: 'DejaVu Sans', sans-serif">R</tspan><tspan x="131.555139" y="2.710938" style="font-size: 11.76px; font-family: 'DejaVu Sans', sans-serif">9</tspan><tspan x="141.299255" y="2.710938" style="font-size: 11.76px; font-family: 'DejaVu Sans', sans-serif">:</tspan><tspan x="147.533887" y="2.710938" style="font-style: oblique; font-size: 11.76px; font-family: 'DejaVu Sans', sans-serif">N</tspan><tspan x="156.304736" y="4.663281" style="font-style: oblique; font-size: 8.232px; font-family: 'DejaVu Sans', sans-serif">H</tspan><tspan x="162.476392" y="4.663281" style="font-size: 8.232px; font-family: 'DejaVu Sans', sans-serif">2</tspan></text>
     </g>
    </g>
   </g>
   <g id="matplotlib.axis_14">
    <g id="ytick_38">
     <g id="line2d_126">
      <g>
       <path d="M 0 0 L 7 0" transform="translate(604.6 649.09)" style="stroke: #000000; stroke-width: 1.5"/>
      </g>
     </g>
     <g id="line2d_127">
      <g>
       <path d="M 0 0 L -7 0" transform="translate(784.8 649.09)" style="stroke: #000000; stroke-width: 1.5"/>
      </g>
     </g>
     <g id="text_70">
      <text style="font-size: 16px; font-family: 'DejaVu Sans', sans-serif; text-anchor: end" x="599.2" y="655.16875" transform="translate(599.2 655.16875) scale(1.02 1) translate(-599.2 -655.16875)">0.00</text>
     </g>
    </g>
    <g id="ytick_39">
     <g id="line2d_128">
      <g>
       <path d="M 0 0 L 7 0" transform="translate(604.6 574.58)" style="stroke: #000000; stroke-width: 1.5"/>
      </g>
     </g>
     <g id="line2d_129">
      <g>
       <path d="M 0 0 L -7 0" transform="translate(784.8 574.58)" style="stroke: #000000; stroke-width: 1.5"/>
      </g>
     </g>
     <g id="text_71">
      <text style="font-size: 16px; font-family: 'DejaVu Sans', sans-serif; text-anchor: end" x="599.2" y="580.65875" transform="translate(599.2 580.65875) scale(1.02 1) translate(-599.2 -580.65875)">0.05</text>
     </g>
    </g>
    <g id="ytick_40">
     <g id="line2d_130">
      <g>
       <path d="M 0 0 L 7 0" transform="translate(604.6 500.07)" style="stroke: #000000; stroke-width: 1.5"/>
      </g>
     </g>
     <g id="line2d_131">
      <g>
       <path d="M 0 0 L -7 0" transform="translate(784.8 500.07)" style="stroke: #000000; stroke-width: 1.5"/>
      </g>
     </g>
     <g id="text_72">
      <text style="font-size: 16px; font-family: 'DejaVu Sans', sans-serif; text-anchor: end" x="599.2" y="506.14875" transform="translate(599.2 506.14875) scale(1.02 1) translate(-599.2 -506.14875)">0.10</text>
     </g>
    </g>
    <g id="ytick_41">
     <g id="line2d_132">
      <g>
       <path d="M 0 0 L 7 0" transform="translate(604.6 425.56)" style="stroke: #000000; stroke-width: 1.5"/>
      </g>
     </g>
     <g id="line2d_133">
      <g>
       <path d="M 0 0 L -7 0" transform="translate(784.8 425.56)" style="stroke: #000000; stroke-width: 1.5"/>
      </g>
     </g>
     <g id="text_73">
      <text style="font-size: 16px; font-family: 'DejaVu Sans', sans-serif; text-anchor: end" x="599.2" y="431.63875" transform="translate(599.2 431.63875) scale(1.02 1) translate(-599.2 -431.63875)">0.15</text>
     </g>
    </g>
   </g>
   <g id="patch_46">
    <path d="M 616.3 649.1 L 622.3 649 L 623.3 648.9 L 624.3 648.7 L 625.3 648.5 L 626.3 648.2 L 627.3 647.9 L 628.3 647.4 L 629.3 646.9 L 630.3 646.4 L 631.3 645.8 L 632.3 645.1 L 633.3 644.1 L 634.3 642.8 L 635.3 641.2 L 636.3 639.4 L 637.3 637.3 L 638.3 635.1 L 639.3 632.8 L 640.3 630.4 L 641.3 627.9 L 642.3 625.3 L 643.3 622.4 L 644.3 619.2 L 645.3 615.8 L 646.3 612.2 L 647.3 608.2 L 648.3 603.8 L 649.3 598.9 L 650.3 593.4 L 651.3 587.6 L 652.3 581.7 L 653.3 575.7 L 654.3 569.6 L 655.3 563.4 L 656.2 556.9 L 657.2 550.2 L 658.2 543.2 L 659.2 535.9 L 660.2 528 L 661.2 520 L 662.2 512 L 663.2 504.2 L 664.2 496.7 L 665.2 489.4 L 666.2 482.1 L 667.2 474.8 L 668.2 467.3 L 669.2 459.8 L 670.2 452.6 L 671.2 445.9 L 672.2 439.7 L 673.2 434.1 L 674.2 428.9 L 675.2 424.4 L 676.2 420.5 L 677.2 417 L 678.2 413.8 L 679.2 411 L 680.2 408.5 L 681.2 406.2 L 682.2 404.2 L 683.2 402.4 L 684.2 400.9 L 685.2 399.6 L 686.2 398.6 L 687.2 397.7 L 688.2 397 L 689.2 396.5 L 690.2 396.3 L 691.2 396.4 L 692.2 396.7 L 693.2 397.1 L 694.2 397.7 L 695.2 398.6 L 696.2 399.9 L 697.2 401.7 L 698.1 404 L 699.1 406.7 L 700.1 409.9 L 701.1 413.6 L 702.1 417.9 L 703.1 422.5 L 704.1 427.6 L 705.1 433.2 L 706.1 439.3 L 707.1 446 L 708.1 453.2 L 709.1 461 L 710.1 469 L 711.1 476.7 L 712.1 484.1 L 713.1 491.4 L 714.1 498.6 L 715.1 506 L 716.1 513.5 L 717.1 520.9 L 718.1 528 L 719.1 534.4 L 720.1 540.4 L 721.1 546.1 L 722.1 551.5 L 723.1 556.7 L 724.1 561.9 L 725.1 567.1 L 726.1 572.3 L 727.1 577.4 L 728.1 582.4 L 729.1 587.1 L 730.1 591.7 L 731.1 596 L 732.1 600.2 L 733.1 604.3 L 734.1 608.1 L 735.1 611.7 L 736.1 615.2 L 737.1 618.5 L 738.1 621.7 L 739 624.7 L 740 627.4 L 741 629.9 L 742 632.1 L 743 634.3 L 744 636.3 L 745 638.1 L 746 639.8 L 747 641.2 L 748 642.5 L 749 643.6 L 750 644.7 L 751 645.6 L 752 646.5 L 753 647.2 L 754 647.7 L 755 648.1 L 756 648.3 L 757 648.5 L 758 648.7 L 759 648.8 L 760 648.9 L 761 648.9 L 762 649 L 768 649.1 L 768 649.1 z" clip-path="url(#pa0f1404e85)" style="fill: #ff0000; opacity: 0.25"/>
   </g>
   <g id="line2d_134">
    <path d="M 616.3 649.1 L 623.3 648.9 L 625.3 648.5 L 627.3 647.9 L 629.3 646.9 L 631.3 645.8 L 632.3 645.1 L 633.3 644.1 L 634.3 642.8 L 635.3 641.2 L 637.3 637.3 L 640.3 630.4 L 642.3 625.3 L 644.3 619.2 L 646.3 612.2 L 648.3 603.8 L 650.3 593.4 L 653.3 575.7 L 656.2 556.9 L 658.2 543.2 L 660.2 528 L 663.2 504.2 L 670.2 452.6 L 672.2 439.7 L 674.2 428.9 L 675.2 424.4 L 677.2 417 L 679.2 411 L 681.2 406.2 L 683.2 402.4 L 684.2 400.9 L 685.2 399.6 L 687.2 397.7 L 688.2 397 L 689.2 396.5 L 690.2 396.3 L 691.2 396.4 L 692.2 396.7 L 693.2 397.1 L 694.2 397.7 L 695.2 398.6 L 696.2 399.9 L 697.2 401.7 L 698.1 404 L 699.1 406.7 L 700.1 409.9 L 701.1 413.6 L 703.1 422.5 L 705.1 433.2 L 707.1 446 L 709.1 461 L 712.1 484.1 L 719.1 534.4 L 721.1 546.1 L 725.1 567.1 L 728.1 582.4 L 730.1 591.7 L 732.1 600.2 L 734.1 608.1 L 736.1 615.2 L 738.1 621.7 L 740 627.4 L 742 632.1 L 744 636.3 L 746 639.8 L 748 642.5 L 750 644.7 L 752 646.5 L 753 647.2 L 754 647.7 L 755 648.1 L 757 648.5 L 760 648.9 L 762 649 L 768 649.1 L 768 649.1" clip-path="url(#pa0f1404e85)" style="fill: none; stroke: #e0203c; stroke-width: 1.55; stroke-linecap: square"/>
   </g>
   <g id="text_74">
    <text style="font-size: 16.5px; font-family: 'DejaVu Sans', sans-serif; text-anchor: start" x="612.6" y="410.5" transform="translate(612.6 410.5) scale(1.03 1) translate(-612.6 -410.5)">(g)</text>
   </g>
   <g id="patch_47">
    <path d="M 604.6 649.1 L 604.6 383.5" style="fill: none; stroke: #000000; stroke-width: 2.2; stroke-linejoin: miter; stroke-linecap: square"/>
   </g>
   <g id="patch_48">
    <path d="M 784.8 649.1 L 784.8 383.5" style="fill: none; stroke: #000000; stroke-width: 2.2; stroke-linejoin: miter; stroke-linecap: square"/>
   </g>
   <g id="patch_49">
    <path d="M 604.6 649.1 L 784.8 649.1" style="fill: none; stroke: #000000; stroke-width: 2.2; stroke-linejoin: miter; stroke-linecap: square"/>
   </g>
   <g id="patch_50">
    <path d="M 604.6 383.5 L 784.8 383.5" style="fill: none; stroke: #000000; stroke-width: 2.2; stroke-linejoin: miter; stroke-linecap: square"/>
   </g>
  </g>
  <g id="axes_8">
   <g id="patch_51">
    <path d="M 857.1 649.1 L 1037.3 649.1 L 1037.3 383.5 L 857.1 383.5 z" style="fill: #ffffff"/>
   </g>
   <g id="patch_52">
    <path d="M 865.5 648.9 L 871.5 648.8 L 872.5 648.7 L 873.5 648.5 L 874.5 648.1 L 875.5 647.7 L 876.5 647.2 L 877.5 646.6 L 878.5 645.9 L 879.5 645.2 L 880.5 644.4 L 881.5 643.5 L 882.5 642.5 L 883.5 641.3 L 884.5 639.8 L 885.5 638.1 L 886.5 636.3 L 887.5 634.4 L 888.5 632.4 L 889.5 630.3 L 890.5 628.1 L 891.5 625.7 L 892.5 623.1 L 893.5 620.4 L 894.5 617.5 L 895.4 614.3 L 896.4 611 L 897.4 607.3 L 898.4 603.3 L 899.4 598.9 L 900.4 594.2 L 901.4 589.3 L 902.4 584.2 L 903.4 578.7 L 904.4 572.8 L 905.4 566.8 L 906.4 560.6 L 907.4 554.4 L 908.4 548.4 L 909.4 542.3 L 910.4 536.3 L 911.4 530.3 L 912.4 524.4 L 913.4 518.5 L 914.4 512.7 L 915.4 507 L 916.4 501.4 L 917.4 496 L 918.4 491 L 919.4 486.4 L 920.4 482.1 L 921.4 477.9 L 922.3 473.6 L 923.3 469 L 924.3 463.9 L 925.3 458.4 L 926.3 452.9 L 927.3 447.3 L 928.3 441.8 L 929.3 436.2 L 930.3 431.1 L 931.3 426.8 L 932.3 423.6 L 933.3 421.3 L 934.3 419.7 L 935.3 418.7 L 936.3 418.1 L 937.3 417.9 L 938.3 418.2 L 939.3 418.9 L 940.3 420.3 L 941.3 422.4 L 942.3 425.3 L 943.3 428.3 L 944.3 431.4 L 945.3 434.4 L 946.3 437.4 L 947.3 440.2 L 948.2 442.9 L 949.2 445.4 L 950.2 447.8 L 951.2 449.8 L 952.2 451.3 L 953.2 451.8 L 954.2 451.5 L 955.2 450.4 L 956.2 449 L 957.2 447.2 L 958.2 445 L 959.2 442.3 L 960.2 439.2 L 961.2 436.2 L 962.2 433.8 L 963.2 431.9 L 964.2 430.5 L 965.2 429.7 L 966.2 429.8 L 967.2 430.7 L 968.2 432.4 L 969.2 434.9 L 970.2 438.5 L 971.2 443.4 L 972.2 449.4 L 973.2 456.4 L 974.2 463.9 L 975.1 471.5 L 976.1 478.6 L 977.1 485.5 L 978.1 492.4 L 979.1 499.3 L 980.1 506.2 L 981.1 513 L 982.1 519.8 L 983.1 526.5 L 984.1 533.2 L 985.1 539.8 L 986.1 546.4 L 987.1 553.2 L 988.1 559.9 L 989.1 566.5 L 990.1 572.9 L 991.1 579 L 992.1 585 L 993.1 590.8 L 994.1 596.2 L 995.1 601.1 L 996.1 605.4 L 997.1 609.3 L 998.1 612.8 L 999.1 616 L 1000.1 619 L 1001.1 621.8 L 1002 624.4 L 1003 626.9 L 1004 629.3 L 1005 631.5 L 1006 633.5 L 1007 635.4 L 1008 637.1 L 1009 638.8 L 1010 640.4 L 1011 641.8 L 1012 643.1 L 1013 644.2 L 1014 645.1 L 1015 645.9 L 1016 646.6 L 1017 647.3 L 1018 647.8 L 1019 648.3 L 1020 648.6 L 1021 648.7 L 1027 648.9 L 1027 648.9 z" clip-path="url(#p261e472b13)" style="fill: #0000ff; opacity: 0.25"/>
   </g>
   <g id="line2d_135">
    <path d="M 865.5 648.9 L 872.5 648.7 L 873.5 648.5 L 875.5 647.7 L 877.5 646.6 L 879.5 645.2 L 881.5 643.5 L 882.5 642.5 L 883.5 641.3 L 885.5 638.1 L 887.5 634.4 L 889.5 630.3 L 891.5 625.7 L 893.5 620.4 L 895.4 614.3 L 897.4 607.3 L 899.4 598.9 L 901.4 589.3 L 903.4 578.7 L 906.4 560.6 L 912.4 524.4 L 916.4 501.4 L 918.4 491 L 920.4 482.1 L 922.3 473.6 L 924.3 463.9 L 930.3 431.1 L 931.3 426.8 L 932.3 423.6 L 933.3 421.3 L 934.3 419.7 L 935.3 418.7 L 936.3 418.1 L 937.3 417.9 L 938.3 418.2 L 939.3 418.9 L 940.3 420.3 L 941.3 422.4 L 943.3 428.3 L 947.3 440.2 L 949.2 445.4 L 950.2 447.8 L 951.2 449.8 L 952.2 451.3 L 953.2 451.8 L 954.2 451.5 L 955.2 450.4 L 956.2 449 L 957.2 447.2 L 958.2 445 L 959.2 442.3 L 961.2 436.2 L 962.2 433.8 L 963.2 431.9 L 964.2 430.5 L 965.2 429.7 L 966.2 429.8 L 967.2 430.7 L 968.2 432.4 L 969.2 434.9 L 970.2 438.5 L 971.2 443.4 L 972.2 449.4 L 974.2 463.9 L 976.1 478.6 L 984.1 533.2 L 991.1 579 L 993.1 590.8 L 995.1 601.1 L 997.1 609.3 L 999.1 616 L 1001.1 621.8 L 1003 626.9 L 1005 631.5 L 1007 635.4 L 1009 638.8 L 1011 641.8 L 1012 643.1 L 1013 644.2 L 1015 645.9 L 1017 647.3 L 1019 648.3 L 1020 648.6 L 1021 648.7 L 1027 648.9 L 1027 648.9" clip-path="url(#p261e472b13)" style="fill: none; stroke: #2a2ad8; stroke-width: 1.55; stroke-linecap: square"/>
   </g>
   <g id="matplotlib.axis_15">
    <g id="xtick_20">
     <g id="line2d_136">
      <g>
       <path d="M 0 0 L 0 -7" transform="translate(896.1 649.1)" style="stroke: #000000; stroke-width: 1.5"/>
      </g>
     </g>
     <g id="line2d_137">
      <g>
       <path d="M 0 0 L 0 7" transform="translate(896.1 383.5)" style="stroke: #000000; stroke-width: 1.5"/>
      </g>
     </g>
     <g id="text_75">
      <text style="font-size: 16px; font-family: 'DejaVu Sans', sans-serif; text-anchor: middle" x="896.1" y="666.7575" transform="translate(896.1 666.7575) scale(1.02 1) translate(-896.1 -666.7575)">50</text>
     </g>
    </g>
    <g id="xtick_21">
     <g id="line2d_138">
      <g>
       <path d="M 0 0 L 0 -7" transform="translate(989.1 649.1)" style="stroke: #000000; stroke-width: 1.5"/>
      </g>
     </g>
     <g id="line2d_139">
      <g>
       <path d="M 0 0 L 0 7" transform="translate(989.1 383.5)" style="stroke: #000000; stroke-width: 1.5"/>
      </g>
     </g>
     <g id="text_76">
      <text style="font-size: 16px; font-family: 'DejaVu Sans', sans-serif; text-anchor: middle" x="989.1" y="666.7575" transform="translate(989.1 666.7575) scale(1.02 1) translate(-989.1 -666.7575)">100</text>
     </g>
    </g>
    <g id="text_77">
     <g transform="translate(868.576 690.153)">
      <text><tspan x="0" y="-0.078125" style="font-style: oblique; font-size: 16.8px; font-family: 'DejaVu Sans', sans-serif">ϕ</tspan><tspan x="11.049438" y="2.710938" style="font-style: oblique; font-size: 11.76px; font-family: 'DejaVu Sans', sans-serif">Y</tspan><tspan x="18.211536" y="2.710938" style="font-size: 11.76px; font-family: 'DejaVu Sans', sans-serif">6</tspan><tspan x="27.955652" y="2.710938" style="font-size: 11.76px; font-family: 'DejaVu Sans', sans-serif">:</tspan><tspan x="34.190283" y="2.710938" style="font-style: oblique; font-size: 11.76px; font-family: 'DejaVu Sans', sans-serif">C</tspan><tspan x="42.377173" y="4.663281" style="font-style: oblique; font-size: 8.232px; font-family: 'DejaVu Sans', sans-serif">E</tspan><tspan x="47.562966" y="4.663281" style="font-size: 8.232px; font-family: 'DejaVu Sans', sans-serif">1</tspan><tspan x="55.394532" y="2.710938" style="font-size: 11.76px; font-family: 'DejaVu Sans', sans-serif">−</tspan><tspan x="67.503114" y="2.710938" style="font-style: oblique; font-size: 11.76px; font-family: 'DejaVu Sans', sans-serif">Y</tspan><tspan x="74.665211" y="2.710938" style="font-size: 11.76px; font-family: 'DejaVu Sans', sans-serif">6</tspan><tspan x="84.409327" y="2.710938" style="font-size: 11.76px; font-family: 'DejaVu Sans', sans-serif">:</tspan><tspan x="90.643959" y="2.710938" style="font-style: oblique; font-size: 11.76px; font-family: 'DejaVu Sans', sans-serif">C</tspan><tspan x="98.830848" y="4.663281" style="font-style: oblique; font-size: 8.232px; font-family: 'DejaVu Sans', sans-serif">E</tspan><tspan x="104.016642" y="4.663281" style="font-size: 8.232px; font-family: 'DejaVu Sans', sans-serif">2</tspan><tspan x="111.848208" y="2.710938" style="font-size: 11.76px; font-family: 'DejaVu Sans', sans-serif">−</tspan><tspan x="123.95679" y="2.710938" style="font-style: oblique; font-size: 11.76px; font-family: 'DejaVu Sans', sans-serif">Y</tspan><tspan x="131.118887" y="2.710938" style="font-size: 11.76px; font-family: 'DejaVu Sans', sans-serif">6</tspan><tspan x="140.863003" y="2.710938" style="font-size: 11.76px; font-family: 'DejaVu Sans', sans-serif">:</tspan><tspan x="147.097634" y="2.710938" style="font-style: oblique; font-size: 11.76px; font-family: 'DejaVu Sans', sans-serif">O</tspan></text>
     </g>
    </g>
   </g>
   <g id="matplotlib.axis_16">
    <g id="ytick_42">
     <g id="line2d_140">
      <g>
       <path d="M 0 0 L 7 0" transform="translate(857.1 649.1)" style="stroke: #000000; stroke-width: 1.5"/>
      </g>
     </g>
     <g id="line2d_141">
      <g>
       <path d="M 0 0 L -7 0" transform="translate(1037.3 649.1)" style="stroke: #000000; stroke-width: 1.5"/>
      </g>
     </g>
     <g id="text_78">
      <text style="font-size: 16px; font-family: 'DejaVu Sans', sans-serif; text-anchor: end" x="851.7" y="655.17875" transform="translate(851.7 655.17875) scale(1.02 1) translate(-851.7 -655.17875)">0.000</text>
     </g>
    </g>
    <g id="ytick_43">
     <g id="line2d_142">
      <g>
       <path d="M 0 0 L 7 0" transform="translate(857.1 604.228158)" style="stroke: #000000; stroke-width: 1.5"/>
      </g>
     </g>
     <g id="line2d_143">
      <g>
       <path d="M 0 0 L -7 0" transform="translate(1037.3 604.228158)" style="stroke: #000000; stroke-width: 1.5"/>
      </g>
     </g>
     <g id="text_79">
      <text style="font-size: 16px; font-family: 'DejaVu Sans', sans-serif; text-anchor: end" x="851.7" y="610.306908" transform="translate(851.7 610.306908) scale(1.02 1) translate(-851.7 -610.306908)">0.005</text>
     </g>
    </g>
    <g id="ytick_44">
     <g id="line2d_144">
      <g>
       <path d="M 0 0 L 7 0" transform="translate(857.1 559.356315)" style="stroke: #000000; stroke-width: 1.5"/>
      </g>
     </g>
     <g id="line2d_145">
      <g>
       <path d="M 0 0 L -7 0" transform="translate(1037.3 559.356315)" style="stroke: #000000; stroke-width: 1.5"/>
      </g>
     </g>
     <g id="text_80">
      <text style="font-size: 16px; font-family: 'DejaVu Sans', sans-serif; text-anchor: end" x="851.7" y="565.435065" transform="translate(851.7 565.435065) scale(1.02 1) translate(-851.7 -565.435065)">0.010</text>
     </g>
    </g>
    <g id="ytick_45">
     <g id="line2d_146">
      <g>
       <path d="M 0 0 L 7 0" transform="translate(857.1 514.484473)" style="stroke: #000000; stroke-width: 1.5"/>
      </g>
     </g>
     <g id="line2d_147">
      <g>
       <path d="M 0 0 L -7 0" transform="translate(1037.3 514.484473)" style="stroke: #000000; stroke-width: 1.5"/>
      </g>
     </g>
     <g id="text_81">
      <text style="font-size: 16px; font-family: 'DejaVu Sans', sans-serif; text-anchor: end" x="851.7" y="520.563223" transform="translate(851.7 520.563223) scale(1.02 1) translate(-851.7 -520.563223)">0.015</text>
     </g>
    </g>
    <g id="ytick_46">
     <g id="line2d_148">
      <g>
       <path d="M 0 0 L 7 0" transform="translate(857.1 469.61263)" style="stroke: #000000; stroke-width: 1.5"/>
      </g>
     </g>
     <g id="line2d_149">
      <g>
       <path d="M 0 0 L -7 0" transform="translate(1037.3 469.61263)" style="stroke: #000000; stroke-width: 1.5"/>
      </g>
     </g>
     <g id="text_82">
      <text style="font-size: 16px; font-family: 'DejaVu Sans', sans-serif; text-anchor: end" x="851.7" y="475.69138" transform="translate(851.7 475.69138) scale(1.02 1) translate(-851.7 -475.69138)">0.020</text>
     </g>
    </g>
    <g id="ytick_47">
     <g id="line2d_150">
      <g>
       <path d="M 0 0 L 7 0" transform="translate(857.1 424.740788)" style="stroke: #000000; stroke-width: 1.5"/>
      </g>
     </g>
     <g id="line2d_151">
      <g>
       <path d="M 0 0 L -7 0" transform="translate(1037.3 424.740788)" style="stroke: #000000; stroke-width: 1.5"/>
      </g>
     </g>
     <g id="text_83">
      <text style="font-size: 16px; font-family: 'DejaVu Sans', sans-serif; text-anchor: end" x="851.7" y="430.819538" transform="translate(851.7 430.819538) scale(1.02 1) translate(-851.7 -430.819538)">0.025</text>
     </g>
    </g>
   </g>
   <g id="patch_53">
    <path d="M 868.3 648.9 L 874.3 648.8 L 875.3 648.7 L 876.3 648.6 L 877.3 648.3 L 878.3 648 L 879.3 647.7 L 880.3 647.2 L 881.3 646.8 L 882.3 646.2 L 883.3 645.6 L 884.3 645 L 885.3 644.1 L 886.3 643.1 L 887.3 641.8 L 888.3 640.3 L 889.3 638.7 L 890.2 636.9 L 891.2 635 L 892.2 633.1 L 893.2 631 L 894.2 628.7 L 895.2 626.1 L 896.2 623.4 L 897.2 620.4 L 898.2 617.3 L 899.2 613.9 L 900.2 610.2 L 901.2 606.2 L 902.2 601.8 L 903.2 597.1 L 904.2 592.3 L 905.2 587.3 L 906.2 582.2 L 907.2 576.9 L 908.2 571.4 L 909.2 565.8 L 910.1 560.1 L 911.1 554.3 L 912.1 548.5 L 913.1 542.6 L 914.1 536.6 L 915.1 530.6 L 916.1 524.4 L 917.1 518.1 L 918.1 511.7 L 919.1 505.2 L 920.1 498.7 L 921.1 492.5 L 922.1 486.3 L 923.1 480.3 L 924.1 474.3 L 925.1 468.2 L 926.1 462 L 927.1 455.8 L 928.1 449.5 L 929 443.2 L 930 436.8 L 931 430.6 L 932 424.6 L 933 418.9 L 934 413.5 L 935 408.7 L 936 404.5 L 937 401 L 938 398.6 L 939 397.1 L 940 396.6 L 941 397 L 942 398.2 L 943 400 L 944 402 L 945 404.3 L 946 406.8 L 947 409.4 L 948 411.9 L 948.9 414.3 L 949.9 416.6 L 950.9 418.7 L 951.9 420.5 L 952.9 422.1 L 953.9 423.4 L 954.9 424.4 L 955.9 425.2 L 956.9 425.8 L 957.9 426.4 L 958.9 427 L 959.9 427.5 L 960.9 428.1 L 961.9 428.7 L 962.9 429.7 L 963.9 431.3 L 964.9 433.8 L 965.9 436.9 L 966.9 440.8 L 967.8 445.2 L 968.8 450.2 L 969.8 455.5 L 970.8 461 L 971.8 466.7 L 972.8 472.5 L 973.8 478.4 L 974.8 484.3 L 975.8 490.2 L 976.8 495.9 L 977.8 501.4 L 978.8 506.8 L 979.8 512.2 L 980.8 517.7 L 981.8 523.3 L 982.8 529.1 L 983.8 535 L 984.8 541 L 985.8 547 L 986.8 553.1 L 987.7 559.2 L 988.7 565.2 L 989.7 571 L 990.7 576.6 L 991.7 582 L 992.7 587.3 L 993.7 592.4 L 994.7 597 L 995.7 601.1 L 996.7 604.8 L 997.7 608.1 L 998.7 611.1 L 999.7 613.9 L 1000.7 616.6 L 1001.7 619.3 L 1002.7 622 L 1003.7 624.5 L 1004.7 627 L 1005.7 629.5 L 1006.6 631.8 L 1007.6 634.1 L 1008.6 636.3 L 1009.6 638.5 L 1010.6 640.6 L 1011.6 642.3 L 1012.6 643.7 L 1013.6 644.8 L 1014.6 645.8 L 1015.6 646.8 L 1016.6 647.5 L 1017.6 648.1 L 1018.6 648.5 L 1019.6 648.7 L 1025.6 648.9 L 1025.6 648.9 z" clip-path="url(#p261e472b13)" style="fill: #ff0000; opacity: 0.25"/>
   </g>
   <g id="line2d_152">
    <path d="M 868.3 648.9 L 875.3 648.7 L 877.3 648.3 L 879.3 647.7 L 881.3 646.8 L 883.3 645.6 L 884.3 645 L 885.3 644.1 L 886.3 643.1 L 887.3 641.8 L 889.3 638.7 L 891.2 635 L 893.2 631 L 895.2 626.1 L 897.2 620.4 L 899.2 613.9 L 901.2 606.2 L 903.2 597.1 L 906.2 582.2 L 909.2 565.8 L 913.1 542.6 L 917.1 518.1 L 922.1 486.3 L 927.1 455.8 L 932 424.6 L 934 413.5 L 935 408.7 L 936 404.5 L 937 401 L 938 398.6 L 939 397.1 L 940 396.6 L 941 397 L 942 398.2 L 943 400 L 944 402 L 946 406.8 L 948.9 414.3 L 950.9 418.7 L 951.9 420.5 L 952.9 422.1 L 953.9 423.4 L 954.9 424.4 L 955.9 425.2 L 957.9 426.4 L 960.9 428.1 L 961.9 428.7 L 962.9 429.7 L 963.9 431.3 L 964.9 433.8 L 965.9 436.9 L 966.9 440.8 L 968.8 450.2 L 970.8 461 L 985.8 547 L 989.7 571 L 992.7 587.3 L 994.7 597 L 995.7 601.1 L 997.7 608.1 L 999.7 613.9 L 1003.7 624.5 L 1006.6 631.8 L 1009.6 638.5 L 1010.6 640.6 L 1011.6 642.3 L 1012.6 643.7 L 1014.6 645.8 L 1016.6 647.5 L 1017.6 648.1 L 1018.6 648.5 L 1019.6 648.7 L 1025.6 648.9 L 1025.6 648.9" clip-path="url(#p261e472b13)" style="fill: none; stroke: #e0203c; stroke-width: 1.55; stroke-linecap: square"/>
   </g>
   <g id="text_84">
    <text style="font-size: 16.5px; font-family: 'DejaVu Sans', sans-serif; text-anchor: start" x="865.1" y="410.483068" transform="translate(865.1 410.483068) scale(1.03 1) translate(-865.1 -410.483068)">(h)</text>
   </g>
   <g id="patch_54">
    <path d="M 857.1 649.1 L 857.1 383.5" style="fill: none; stroke: #000000; stroke-width: 2.2; stroke-linejoin: miter; stroke-linecap: square"/>
   </g>
   <g id="patch_55">
    <path d="M 1037.3 649.1 L 1037.3 383.5" style="fill: none; stroke: #000000; stroke-width: 2.2; stroke-linejoin: miter; stroke-linecap: square"/>
   </g>
   <g id="patch_56">
    <path d="M 857.1 649.1 L 1037.3 649.1" style="fill: none; stroke: #000000; stroke-width: 2.2; stroke-linejoin: miter; stroke-linecap: square"/>
   </g>
   <g id="patch_57">
    <path d="M 857.1 383.5 L 1037.3 383.5" style="fill: none; stroke: #000000; stroke-width: 2.2; stroke-linejoin: miter; stroke-linecap: square"/>
   </g>
  </g>
  <g id="axes_9">
   <g id="patch_58">
    <path d="M 99.5 982 L 279.7 982 L 279.7 716.6 L 99.5 716.6 z" style="fill: #ffffff"/>
   </g>
   <g id="patch_59">
    <path d="M 103.6 982 L 109.6 981.9 L 110.5 981.8 L 111.5 981.5 L 112.5 981.1 L 113.5 980.6 L 114.5 979.9 L 115.5 979.1 L 116.5 978.2 L 117.5 976.9 L 118.5 975.1 L 119.5 972.9 L 120.5 970.4 L 121.5 967.6 L 122.5 964.6 L 123.5 961.2 L 124.5 957.5 L 125.5 953.5 L 126.4 949.1 L 127.4 944.6 L 128.4 939.7 L 129.4 934.5 L 130.4 929 L 131.4 923.4 L 132.4 917.7 L 133.4 912.1 L 134.4 906.5 L 135.4 901 L 136.4 895.8 L 137.4 891.2 L 138.4 887.3 L 139.4 883.9 L 140.4 881 L 141.3 878.7 L 142.3 877.1 L 143.3 875.8 L 144.3 874.8 L 145.3 874.1 L 146.3 873.5 L 147.3 873 L 148.3 872.7 L 149.3 872.4 L 150.3 872.1 L 151.3 871.8 L 152.3 871.5 L 153.3 871.2 L 154.3 870.8 L 155.3 870.3 L 156.3 869.8 L 157.2 869.2 L 158.2 868.6 L 159.2 867.9 L 160.2 867.1 L 161.2 866.4 L 162.2 865.6 L 163.2 864.8 L 164.2 864 L 165.2 863.2 L 166.2 862.3 L 167.2 861.3 L 168.2 860.2 L 169.2 858.8 L 170.2 856.9 L 171.2 854.5 L 172.1 851.5 L 173.1 848 L 174.1 844.1 L 175.1 839.5 L 176.1 834.3 L 177.1 828.6 L 178.1 822.1 L 179.1 814.9 L 180.1 807 L 181.1 798.8 L 182.1 790.7 L 183.1 782.7 L 184.1 775 L 185.1 767.7 L 186.1 761.3 L 187.1 755.8 L 188 751.2 L 189 747.8 L 190 746.2 L 191 746.4 L 192 748 L 193 750.7 L 194 755.4 L 195 762.6 L 196 771.8 L 197 782.3 L 198 793.7 L 199 806.1 L 200 818.6 L 201 831 L 202 843.3 L 203 855.3 L 203.9 866.9 L 204.9 878 L 205.9 888.7 L 206.9 898.8 L 207.9 908.2 L 208.9 916.8 L 209.9 924.8 L 210.9 931.9 L 211.9 938 L 212.9 942.7 L 213.9 946.1 L 214.9 948.7 L 215.9 950.8 L 216.9 952.7 L 217.9 954.5 L 218.8 956.2 L 219.8 957.9 L 220.8 959.5 L 221.8 961.2 L 222.8 962.9 L 223.8 964.7 L 224.8 966.5 L 225.8 968.2 L 226.8 969.8 L 227.8 971.4 L 228.8 973 L 229.8 974.5 L 230.8 975.8 L 231.8 976.8 L 232.8 977.6 L 233.8 978.1 L 234.7 978.6 L 235.7 979 L 236.7 979.3 L 237.7 979.6 L 238.7 979.8 L 239.7 980.1 L 240.7 980.3 L 241.7 980.5 L 242.7 980.6 L 243.7 980.8 L 244.7 980.9 L 245.7 981 L 246.7 981.2 L 247.7 981.3 L 248.7 981.4 L 249.6 981.5 L 250.6 981.5 L 251.6 981.6 L 252.6 981.7 L 253.6 981.8 L 254.6 981.8 L 255.6 981.9 L 256.6 981.9 L 257.6 982 L 263.6 982 L 263.6 982 z" clip-path="url(#p24e10c5cca)" style="fill: #0000ff; opacity: 0.25"/>
   </g>
   <g id="line2d_153">
    <path d="M 103.6 982 L 109.6 981.9 L 110.5 981.8 L 111.5 981.5 L 112.5 981.1 L 114.5 979.9 L 115.5 979.1 L 116.5 978.2 L 117.5 976.9 L 118.5 975.1 L 119.5 972.9 L 121.5 967.6 L 123.5 961.2 L 125.5 953.5 L 127.4 944.6 L 129.4 934.5 L 137.4 891.2 L 138.4 887.3 L 139.4 883.9 L 140.4 881 L 141.3 878.7 L 142.3 877.1 L 143.3 875.8 L 144.3 874.8 L 145.3 874.1 L 146.3 873.5 L 148.3 872.7 L 154.3 870.8 L 156.3 869.8 L 158.2 868.6 L 161.2 866.4 L 165.2 863.2 L 167.2 861.3 L 168.2 860.2 L 169.2 858.8 L 170.2 856.9 L 171.2 854.5 L 172.1 851.5 L 173.1 848 L 174.1 844.1 L 175.1 839.5 L 176.1 834.3 L 178.1 822.1 L 180.1 807 L 184.1 775 L 185.1 767.7 L 186.1 761.3 L 187.1 755.8 L 188 751.2 L 189 747.8 L 190 746.2 L 191 746.4 L 192 748 L 193 750.7 L 194 755.4 L 195 762.6 L 196 771.8 L 198 793.7 L 203.9 866.9 L 205.9 888.7 L 207.9 908.2 L 209.9 924.8 L 210.9 931.9 L 211.9 938 L 212.9 942.7 L 213.9 946.1 L 214.9 948.7 L 216.9 952.7 L 218.8 956.2 L 222.8 962.9 L 225.8 968.2 L 228.8 973 L 230.8 975.8 L 231.8 976.8 L 232.8 977.6 L 234.7 978.6 L 236.7 979.3 L 239.7 980.1 L 243.7 980.8 L 247.7 981.3 L 253.6 981.8 L 257.6 982 L 263.6 982 L 263.6 982" clip-path="url(#p24e10c5cca)" style="fill: none; stroke: #2a2ad8; stroke-width: 1.55; stroke-linecap: square"/>
   </g>
   <g id="matplotlib.axis_17">
    <g id="xtick_22">
     <g id="line2d_154">
      <g>
       <path d="M 0 0 L 0 -7" transform="translate(127.683333 982)" style="stroke: #000000; stroke-width: 1.5"/>
      </g>
     </g>
     <g id="line2d_155">
      <g>
       <path d="M 0 0 L 0 7" transform="translate(127.683333 716.6)" style="stroke: #000000; stroke-width: 1.5"/>
      </g>
     </g>
     <g id="text_85">
      <text style="font-size: 16px; font-family: 'DejaVu Sans', sans-serif; text-anchor: middle" x="127.683333" y="999.9575" transform="translate(127.683333 999.9575) scale(1.02 1) translate(-127.683333 -999.9575)">0</text>
     </g>
    </g>
    <g id="xtick_23">
     <g id="line2d_156">
      <g>
       <path d="M 0 0 L 0 -7" transform="translate(197.533333 982)" style="stroke: #000000; stroke-width: 1.5"/>
      </g>
     </g>
     <g id="line2d_157">
      <g>
       <path d="M 0 0 L 0 7" transform="translate(197.533333 716.6)" style="stroke: #000000; stroke-width: 1.5"/>
      </g>
     </g>
     <g id="text_86">
      <text style="font-size: 16px; font-family: 'DejaVu Sans', sans-serif; text-anchor: middle" x="197.533333" y="999.9575" transform="translate(197.533333 999.9575) scale(1.02 1) translate(-197.533333 -999.9575)">200</text>
     </g>
    </g>
    <g id="xtick_24">
     <g id="line2d_158">
      <g>
       <path d="M 0 0 L 0 -7" transform="translate(267.383333 982)" style="stroke: #000000; stroke-width: 1.5"/>
      </g>
     </g>
     <g id="line2d_159">
      <g>
       <path d="M 0 0 L 0 7" transform="translate(267.383333 716.6)" style="stroke: #000000; stroke-width: 1.5"/>
      </g>
     </g>
     <g id="text_87">
      <text style="font-size: 16px; font-family: 'DejaVu Sans', sans-serif; text-anchor: middle" x="267.383333" y="999.9575" transform="translate(267.383333 999.9575) scale(1.02 1) translate(-267.383333 -999.9575)">400</text>
     </g>
    </g>
    <g id="text_88">
     <g transform="translate(83.424 1020.64025)">
      <text><tspan x="0" y="-0.703125" style="font-style: oblique; font-size: 16.8px; font-family: 'DejaVu Sans', sans-serif">ψ</tspan><tspan x="11.049438" y="2.085938" style="font-style: oblique; font-size: 11.76px; font-family: 'DejaVu Sans', sans-serif">R</tspan><tspan x="19.196252" y="2.085938" style="font-size: 11.76px; font-family: 'DejaVu Sans', sans-serif">9</tspan><tspan x="28.940369" y="2.085938" style="font-size: 11.76px; font-family: 'DejaVu Sans', sans-serif">:</tspan><tspan x="35.175" y="2.085938" style="font-style: oblique; font-size: 11.76px; font-family: 'DejaVu Sans', sans-serif">N</tspan><tspan x="46.230164" y="2.085938" style="font-size: 11.76px; font-family: 'DejaVu Sans', sans-serif">−</tspan><tspan x="58.338745" y="2.085938" style="font-style: oblique; font-size: 11.76px; font-family: 'DejaVu Sans', sans-serif">R</tspan><tspan x="66.485559" y="2.085938" style="font-size: 11.76px; font-family: 'DejaVu Sans', sans-serif">9</tspan><tspan x="76.229675" y="2.085938" style="font-size: 11.76px; font-family: 'DejaVu Sans', sans-serif">:</tspan><tspan x="82.464307" y="2.085938" style="font-style: oblique; font-size: 11.76px; font-family: 'DejaVu Sans', sans-serif">C</tspan><tspan x="90.651196" y="4.038281" style="font-style: oblique; font-size: 8.232px; font-family: 'DejaVu Sans', sans-serif">B</tspan><tspan x="98.891534" y="2.085938" style="font-size: 11.76px; font-family: 'DejaVu Sans', sans-serif">−</tspan><tspan x="111.000116" y="2.085938" style="font-style: oblique; font-size: 11.76px; font-family: 'DejaVu Sans', sans-serif">A</tspan><tspan x="119.020978" y="2.085938" style="font-size: 11.76px; font-family: 'DejaVu Sans', sans-serif">1</tspan><tspan x="126.48078" y="2.085938" style="font-size: 11.76px; font-family: 'DejaVu Sans', sans-serif">1</tspan><tspan x="136.224896" y="2.085938" style="font-size: 11.76px; font-family: 'DejaVu Sans', sans-serif">:</tspan><tspan x="142.459528" y="2.085938" style="font-style: oblique; font-size: 11.76px; font-family: 'DejaVu Sans', sans-serif">N</tspan><tspan x="153.514691" y="2.085938" style="font-size: 11.76px; font-family: 'DejaVu Sans', sans-serif">−</tspan><tspan x="165.623273" y="2.085938" style="font-style: oblique; font-size: 11.76px; font-family: 'DejaVu Sans', sans-serif">A</tspan><tspan x="173.644135" y="2.085938" style="font-size: 11.76px; font-family: 'DejaVu Sans', sans-serif">1</tspan><tspan x="181.103937" y="2.085938" style="font-size: 11.76px; font-family: 'DejaVu Sans', sans-serif">1</tspan><tspan x="190.848053" y="2.085938" style="font-size: 11.76px; font-family: 'DejaVu Sans', sans-serif">:</tspan><tspan x="197.082684" y="2.085938" style="font-style: oblique; font-size: 11.76px; font-family: 'DejaVu Sans', sans-serif">C</tspan><tspan x="205.269574" y="4.038281" style="font-style: oblique; font-size: 8.232px; font-family: 'DejaVu Sans', sans-serif">B</tspan></text>
     </g>
    </g>
   </g>
   <g id="matplotlib.axis_18">
    <g id="ytick_48">
     <g id="line2d_160">
      <g>
       <path d="M 0 0 L 7 0" transform="translate(99.5 981.880054)" style="stroke: #000000; stroke-width: 1.5"/>
      </g>
     </g>
     <g id="line2d_161">
      <g>
       <path d="M 0 0 L -7 0" transform="translate(279.7 981.880054)" style="stroke: #000000; stroke-width: 1.5"/>
      </g>
     </g>
     <g id="text_89">
      <text style="font-size: 16px; font-family: 'DejaVu Sans', sans-serif; text-anchor: end" x="94.1" y="987.958804" transform="translate(94.1 987.958804) scale(1.02 1) translate(-94.1 -987.958804)">0.000</text>
     </g>
    </g>
    <g id="ytick_49">
     <g id="line2d_162">
      <g>
       <path d="M 0 0 L 7 0" transform="translate(99.5 915.560041)" style="stroke: #000000; stroke-width: 1.5"/>
      </g>
     </g>
     <g id="line2d_163">
      <g>
       <path d="M 0 0 L -7 0" transform="translate(279.7 915.560041)" style="stroke: #000000; stroke-width: 1.5"/>
      </g>
     </g>
     <g id="text_90">
      <text style="font-size: 16px; font-family: 'DejaVu Sans', sans-serif; text-anchor: end" x="94.1" y="921.638791" transform="translate(94.1 921.638791) scale(1.02 1) translate(-94.1 -921.638791)">0.002</text>
     </g>
    </g>
    <g id="ytick_50">
     <g id="line2d_164">
      <g>
       <path d="M 0 0 L 7 0" transform="translate(99.5 849.240027)" style="stroke: #000000; stroke-width: 1.5"/>
      </g>
     </g>
     <g id="line2d_165">
      <g>
       <path d="M 0 0 L -7 0" transform="translate(279.7 849.240027)" style="stroke: #000000; stroke-width: 1.5"/>
      </g>
     </g>
     <g id="text_91">
      <text style="font-size: 16px; font-family: 'DejaVu Sans', sans-serif; text-anchor: end" x="94.1" y="855.318777" transform="translate(94.1 855.318777) scale(1.02 1) translate(-94.1 -855.318777)">0.004</text>
     </g>
    </g>
    <g id="ytick_51">
     <g id="line2d_166">
      <g>
       <path d="M 0 0 L 7 0" transform="translate(99.5 782.920014)" style="stroke: #000000; stroke-width: 1.5"/>
      </g>
     </g>
     <g id="line2d_167">
      <g>
       <path d="M 0 0 L -7 0" transform="translate(279.7 782.920014)" style="stroke: #000000; stroke-width: 1.5"/>
      </g>
     </g>
     <g id="text_92">
      <text style="font-size: 16px; font-family: 'DejaVu Sans', sans-serif; text-anchor: end" x="94.1" y="788.998764" transform="translate(94.1 788.998764) scale(1.02 1) translate(-94.1 -788.998764)">0.006</text>
     </g>
    </g>
    <g id="ytick_52">
     <g id="line2d_168">
      <g>
       <path d="M 0 0 L 7 0" transform="translate(99.5 716.6)" style="stroke: #000000; stroke-width: 1.5"/>
      </g>
     </g>
     <g id="line2d_169">
      <g>
       <path d="M 0 0 L -7 0" transform="translate(279.7 716.6)" style="stroke: #000000; stroke-width: 1.5"/>
      </g>
     </g>
     <g id="text_93">
      <text style="font-size: 16px; font-family: 'DejaVu Sans', sans-serif; text-anchor: end" x="94.1" y="722.67875" transform="translate(94.1 722.67875) scale(1.02 1) translate(-94.1 -722.67875)">0.008</text>
     </g>
    </g>
   </g>
   <g id="patch_60">
    <path d="M 104.9 982 L 110.9 981.9 L 111.9 981.8 L 112.9 981.5 L 113.9 981.1 L 114.9 980.6 L 115.9 979.9 L 116.9 979.1 L 117.9 978.2 L 118.9 976.9 L 119.9 975.1 L 120.9 972.9 L 121.9 970.3 L 122.9 967.4 L 123.9 964.2 L 124.9 960.6 L 125.9 956.3 L 126.9 951.7 L 127.9 946.7 L 128.9 941.6 L 129.9 936.2 L 130.9 930.4 L 131.9 924.4 L 132.9 918.3 L 133.9 912.1 L 134.9 905.9 L 135.9 899.6 L 136.9 893.5 L 137.9 887.6 L 138.9 882.3 L 139.9 877.6 L 140.9 873.8 L 141.9 870.9 L 142.9 868.9 L 143.9 867.5 L 144.9 866.3 L 145.9 865.3 L 146.9 864.5 L 147.9 863.7 L 148.9 863 L 149.9 862.3 L 150.9 861.5 L 151.9 860.5 L 152.8 859.3 L 153.8 857.9 L 154.8 856.5 L 155.8 855.3 L 156.8 854.4 L 157.8 853.8 L 158.8 853.3 L 159.8 853 L 160.8 852.9 L 161.8 853.3 L 162.8 854.3 L 163.8 855.8 L 164.8 857.3 L 165.8 858.7 L 166.8 859.8 L 167.8 860.3 L 168.8 859.7 L 169.8 857.6 L 170.8 854.6 L 171.8 851.2 L 172.8 847.2 L 173.8 842.3 L 174.8 836.3 L 175.8 829.3 L 176.8 821.4 L 177.8 812.9 L 178.8 803.8 L 179.8 794.2 L 180.8 784.4 L 181.8 774.2 L 182.8 763.7 L 183.8 753.6 L 184.8 745.1 L 185.8 738.7 L 186.8 734.2 L 187.8 731.5 L 188.8 730.8 L 189.8 731.7 L 190.8 734 L 191.8 738.1 L 192.8 744.5 L 193.8 752.9 L 194.7 763.2 L 195.7 775 L 196.7 787.8 L 197.7 800.7 L 198.7 813.6 L 199.7 826.4 L 200.7 839 L 201.7 851 L 202.7 862.5 L 203.7 873.6 L 204.7 884 L 205.7 893.8 L 206.7 903 L 207.7 911.6 L 208.7 919.5 L 209.7 926.5 L 210.7 932.7 L 211.7 938.2 L 212.7 942.9 L 213.7 946.7 L 214.7 949.6 L 215.7 951.7 L 216.7 953.3 L 217.7 954.8 L 218.7 956.4 L 219.7 958 L 220.7 959.6 L 221.7 961.3 L 222.7 963.1 L 223.7 965 L 224.7 967.1 L 225.7 969.1 L 226.7 970.9 L 227.7 972.6 L 228.7 974.1 L 229.7 975.4 L 230.7 976.6 L 231.7 977.6 L 232.7 978.4 L 233.7 979 L 234.7 979.6 L 235.7 980 L 236.6 980.3 L 237.6 980.5 L 238.6 980.5 L 239.6 980.5 L 240.6 980.4 L 241.6 980.4 L 242.6 980.3 L 243.6 980.2 L 244.6 980.1 L 245.6 980.1 L 246.6 980.1 L 247.6 980.1 L 248.6 980.2 L 249.6 980.4 L 250.6 980.6 L 251.6 980.8 L 252.6 981 L 253.6 981.2 L 254.6 981.3 L 255.6 981.5 L 256.6 981.7 L 257.6 981.9 L 263.6 982 L 263.6 982 z" clip-path="url(#p24e10c5cca)" style="fill: #ff0000; opacity: 0.25"/>
   </g>
   <g id="line2d_170">
    <path d="M 104.9 982 L 110.9 981.9 L 111.9 981.8 L 112.9 981.5 L 113.9 981.1 L 115.9 979.9 L 116.9 979.1 L 117.9 978.2 L 118.9 976.9 L 119.9 975.1 L 120.9 972.9 L 122.9 967.4 L 123.9 964.2 L 124.9 960.6 L 126.9 951.7 L 128.9 941.6 L 130.9 930.4 L 134.9 905.9 L 137.9 887.6 L 138.9 882.3 L 139.9 877.6 L 140.9 873.8 L 141.9 870.9 L 142.9 868.9 L 143.9 867.5 L 145.9 865.3 L 147.9 863.7 L 150.9 861.5 L 151.9 860.5 L 153.8 857.9 L 155.8 855.3 L 156.8 854.4 L 157.8 853.8 L 158.8 853.3 L 159.8 853 L 160.8 852.9 L 161.8 853.3 L 162.8 854.3 L 165.8 858.7 L 166.8 859.8 L 167.8 860.3 L 168.8 859.7 L 169.8 857.6 L 170.8 854.6 L 171.8 851.2 L 172.8 847.2 L 173.8 842.3 L 174.8 836.3 L 175.8 829.3 L 177.8 812.9 L 179.8 794.2 L 182.8 763.7 L 183.8 753.6 L 184.8 745.1 L 185.8 738.7 L 186.8 734.2 L 187.8 731.5 L 188.8 730.8 L 189.8 731.7 L 190.8 734 L 191.8 738.1 L 192.8 744.5 L 193.8 752.9 L 194.7 763.2 L 196.7 787.8 L 200.7 839 L 202.7 862.5 L 204.7 884 L 206.7 903 L 208.7 919.5 L 209.7 926.5 L 210.7 932.7 L 211.7 938.2 L 212.7 942.9 L 213.7 946.7 L 214.7 949.6 L 215.7 951.7 L 217.7 954.8 L 220.7 959.6 L 222.7 963.1 L 226.7 970.9 L 228.7 974.1 L 230.7 976.6 L 231.7 977.6 L 232.7 978.4 L 234.7 979.6 L 236.6 980.3 L 237.6 980.5 L 239.6 980.5 L 246.6 980.1 L 248.6 980.2 L 254.6 981.3 L 257.6 981.9 L 263.6 982 L 263.6 982" clip-path="url(#p24e10c5cca)" style="fill: none; stroke: #e0203c; stroke-width: 1.55; stroke-linecap: square"/>
   </g>
   <g id="text_94">
    <text style="font-size: 16.5px; font-family: 'DejaVu Sans', sans-serif; text-anchor: start" x="107.5" y="743.707743" transform="translate(107.5 743.707743) scale(1.03 1) translate(-107.5 -743.707743)">(i)</text>
   </g>
   <g id="patch_61">
    <path d="M 99.5 982 L 99.5 716.6" style="fill: none; stroke: #000000; stroke-width: 2.2; stroke-linejoin: miter; stroke-linecap: square"/>
   </g>
   <g id="patch_62">
    <path d="M 279.7 982 L 279.7 716.6" style="fill: none; stroke: #000000; stroke-width: 2.2; stroke-linejoin: miter; stroke-linecap: square"/>
   </g>
   <g id="patch_63">
    <path d="M 99.5 982 L 279.7 982" style="fill: none; stroke: #000000; stroke-width: 2.2; stroke-linejoin: miter; stroke-linecap: square"/>
   </g>
   <g id="patch_64">
    <path d="M 99.5 716.6 L 279.7 716.6" style="fill: none; stroke: #000000; stroke-width: 2.2; stroke-linejoin: miter; stroke-linecap: square"/>
   </g>
  </g>
  <g id="axes_10">
   <g id="patch_65">
    <path d="M 352 982 L 532.2 982 L 532.2 716.6 L 352 716.6 z" style="fill: #ffffff"/>
   </g>
   <g id="patch_66">
    <path d="M 349.4 981.9 L 355.4 981.9 L 356.4 981.8 L 357.4 981.7 L 358.4 981.6 L 359.4 981.3 L 360.4 981 L 361.3 980.6 L 362.3 980.2 L 363.3 979.7 L 364.3 979.2 L 365.3 978.6 L 366.3 978 L 367.3 977.3 L 368.3 976.4 L 369.3 975.2 L 370.3 973.7 L 371.3 971.8 L 372.3 969.5 L 373.3 966.9 L 374.3 964.1 L 375.3 961 L 376.3 957.7 L 377.3 953.8 L 378.3 949.3 L 379.3 944.1 L 380.3 938.1 L 381.3 931.5 L 382.3 924.3 L 383.3 916.1 L 384.3 906.4 L 385.3 895.1 L 386.3 882.5 L 387.3 869.4 L 388.3 856.3 L 389.3 843.6 L 390.3 831 L 391.3 818.5 L 392.3 806.3 L 393.3 794.7 L 394.3 783.7 L 395.3 773.2 L 396.3 763.2 L 397.3 754.5 L 398.3 748.1 L 399.3 743.8 L 400.3 741 L 401.3 738.8 L 402.3 737.1 L 403.2 736.1 L 404.2 735.8 L 405.2 736.4 L 406.2 737.8 L 407.2 740.1 L 408.2 743 L 409.2 747.2 L 410.2 753.2 L 411.2 761.3 L 412.2 770.6 L 413.2 780.6 L 414.2 791 L 415.2 802.1 L 416.2 813.6 L 417.2 825.2 L 418.2 836.5 L 419.2 847.4 L 420.2 857.9 L 421.2 868.2 L 422.2 878 L 423.2 887.3 L 424.2 895.7 L 425.2 903.3 L 426.2 910.4 L 427.2 916.9 L 428.2 922.9 L 429.2 928.3 L 430.2 933.1 L 431.2 937.4 L 432.2 941.5 L 433.2 945.2 L 434.2 948.6 L 435.2 951.6 L 436.2 954.1 L 437.2 956.3 L 438.2 958.3 L 439.2 960.1 L 440.2 961.8 L 441.2 963.3 L 442.2 964.6 L 443.2 965.5 L 444.2 965.9 L 445.1 965.9 L 446.1 965.4 L 447.1 964.3 L 448.1 962.8 L 449.1 961 L 450.1 958.9 L 451.1 956.7 L 452.1 954.1 L 453.1 951 L 454.1 947.3 L 455.1 943 L 456.1 938.4 L 457.1 933.6 L 458.1 928.4 L 459.1 922.8 L 460.1 916.8 L 461.1 910.5 L 462.1 904.2 L 463.1 898 L 464.1 891.8 L 465.1 885.5 L 466.1 879.3 L 467.1 873.2 L 468.1 867.5 L 469.1 862 L 470.1 856.6 L 471.1 851.4 L 472.1 846.7 L 473.1 842.8 L 474.1 839.9 L 475.1 837.6 L 476.1 835.6 L 477.1 834 L 478.1 832.5 L 479.1 831.4 L 480.1 830.8 L 481.1 830.5 L 482.1 830.7 L 483.1 831.4 L 484.1 832.4 L 485.1 833.7 L 486 835.3 L 487 837.5 L 488 840.6 L 489 844.8 L 490 849.9 L 491 855.4 L 492 861.5 L 493 868 L 494 875.3 L 495 883.2 L 496 891.4 L 497 899.4 L 498 907 L 499 914.4 L 500 921.5 L 501 928.4 L 502 934.8 L 503 940.4 L 504 945.5 L 505 950 L 506 954.2 L 507 958.1 L 508 961.6 L 509 964.7 L 510 967.4 L 511 969.7 L 512 971.9 L 513 973.8 L 514 975.5 L 515 977.1 L 516 978.3 L 517 979.3 L 518 980 L 519 980.6 L 520 981.1 L 521 981.5 L 522 981.7 L 523 981.9 L 529 981.9 L 529 981.9 z" clip-path="url(#p1db8a95b34)" style="fill: #0000ff; opacity: 0.25"/>
   </g>
   <g id="line2d_171">
    <path d="M 349.4 981.9 L 356.4 981.8 L 358.4 981.6 L 360.4 981 L 362.3 980.2 L 364.3 979.2 L 366.3 978 L 367.3 977.3 L 368.3 976.4 L 369.3 975.2 L 370.3 973.7 L 371.3 971.8 L 372.3 969.5 L 374.3 964.1 L 376.3 957.7 L 377.3 953.8 L 378.3 949.3 L 379.3 944.1 L 381.3 931.5 L 382.3 924.3 L 383.3 916.1 L 384.3 906.4 L 385.3 895.1 L 393.3 794.7 L 395.3 773.2 L 396.3 763.2 L 397.3 754.5 L 398.3 748.1 L 399.3 743.8 L 400.3 741 L 401.3 738.8 L 402.3 737.1 L 403.2 736.1 L 404.2 735.8 L 405.2 736.4 L 406.2 737.8 L 407.2 740.1 L 408.2 743 L 409.2 747.2 L 410.2 753.2 L 411.2 761.3 L 413.2 780.6 L 415.2 802.1 L 419.2 847.4 L 422.2 878 L 424.2 895.7 L 426.2 910.4 L 428.2 922.9 L 430.2 933.1 L 432.2 941.5 L 434.2 948.6 L 435.2 951.6 L 436.2 954.1 L 438.2 958.3 L 440.2 961.8 L 441.2 963.3 L 442.2 964.6 L 443.2 965.5 L 444.2 965.9 L 445.1 965.9 L 446.1 965.4 L 447.1 964.3 L 448.1 962.8 L 449.1 961 L 451.1 956.7 L 452.1 954.1 L 453.1 951 L 454.1 947.3 L 456.1 938.4 L 458.1 928.4 L 460.1 916.8 L 468.1 867.5 L 471.1 851.4 L 472.1 846.7 L 473.1 842.8 L 474.1 839.9 L 475.1 837.6 L 477.1 834 L 478.1 832.5 L 479.1 831.4 L 480.1 830.8 L 481.1 830.5 L 482.1 830.7 L 483.1 831.4 L 484.1 832.4 L 485.1 833.7 L 486 835.3 L 487 837.5 L 488 840.6 L 489 844.8 L 491 855.4 L 493 868 L 495 883.2 L 498 907 L 501 928.4 L 503 940.4 L 505 950 L 507 958.1 L 509 964.7 L 510 967.4 L 512 971.9 L 514 975.5 L 515 977.1 L 516 978.3 L 517 979.3 L 518 980 L 520 981.1 L 521 981.5 L 522 981.7 L 523 981.9 L 529 981.9 L 529 981.9" clip-path="url(#p1db8a95b34)" style="fill: none; stroke: #2a2ad8; stroke-width: 1.55; stroke-linecap: square"/>
   </g>
   <g id="matplotlib.axis_19">
    <g id="xtick_25">
     <g id="line2d_172">
      <g>
       <path d="M 0 0 L 0 -7" transform="translate(397.283333 982)" style="stroke: #000000; stroke-width: 1.5"/>
      </g>
     </g>
     <g id="line2d_173">
      <g>
       <path d="M 0 0 L 0 7" transform="translate(397.283333 716.6)" style="stroke: #000000; stroke-width: 1.5"/>
      </g>
     </g>
     <g id="text_95">
      <text style="font-size: 16px; font-family: 'DejaVu Sans', sans-serif; text-anchor: middle" x="397.283333" y="999.9575" transform="translate(397.283333 999.9575) scale(1.02 1) translate(-397.283333 -999.9575)">0</text>
     </g>
    </g>
    <g id="xtick_26">
     <g id="line2d_174">
      <g>
       <path d="M 0 0 L 0 -7" transform="translate(460.133333 982)" style="stroke: #000000; stroke-width: 1.5"/>
      </g>
     </g>
     <g id="line2d_175">
      <g>
       <path d="M 0 0 L 0 7" transform="translate(460.133333 716.6)" style="stroke: #000000; stroke-width: 1.5"/>
      </g>
     </g>
     <g id="text_96">
      <text style="font-size: 16px; font-family: 'DejaVu Sans', sans-serif; text-anchor: middle" x="460.133333" y="999.9575" transform="translate(460.133333 999.9575) scale(1.02 1) translate(-460.133333 -999.9575)">250</text>
     </g>
    </g>
    <g id="xtick_27">
     <g id="line2d_176">
      <g>
       <path d="M 0 0 L 0 -7" transform="translate(522.983333 982)" style="stroke: #000000; stroke-width: 1.5"/>
      </g>
     </g>
     <g id="line2d_177">
      <g>
       <path d="M 0 0 L 0 7" transform="translate(522.983333 716.6)" style="stroke: #000000; stroke-width: 1.5"/>
      </g>
     </g>
     <g id="text_97">
      <text style="font-size: 16px; font-family: 'DejaVu Sans', sans-serif; text-anchor: middle" x="522.983333" y="999.9575" transform="translate(522.983333 999.9575) scale(1.02 1) translate(-522.983333 -999.9575)">500</text>
     </g>
    </g>
    <g id="text_98">
     <g transform="translate(332.9 1020.64025)">
      <text><tspan x="0" y="-0.703125" style="font-style: oblique; font-size: 16.8px; font-family: 'DejaVu Sans', sans-serif">ψ</tspan><tspan x="11.049438" y="2.085938" style="font-style: oblique; font-size: 11.76px; font-family: 'DejaVu Sans', sans-serif">R</tspan><tspan x="19.196252" y="2.085938" style="font-size: 11.76px; font-family: 'DejaVu Sans', sans-serif">9</tspan><tspan x="28.940369" y="2.085938" style="font-size: 11.76px; font-family: 'DejaVu Sans', sans-serif">:</tspan><tspan x="35.175" y="2.085938" style="font-style: oblique; font-size: 11.76px; font-family: 'DejaVu Sans', sans-serif">C</tspan><tspan x="43.36189" y="4.038281" style="font-style: oblique; font-size: 8.232px; font-family: 'DejaVu Sans', sans-serif">D</tspan><tspan x="52.29153" y="2.085938" style="font-size: 11.76px; font-family: 'DejaVu Sans', sans-serif">−</tspan><tspan x="64.400111" y="2.085938" style="font-style: oblique; font-size: 11.76px; font-family: 'DejaVu Sans', sans-serif">R</tspan><tspan x="72.546925" y="2.085938" style="font-size: 11.76px; font-family: 'DejaVu Sans', sans-serif">9</tspan><tspan x="82.291041" y="2.085938" style="font-size: 11.76px; font-family: 'DejaVu Sans', sans-serif">:</tspan><tspan x="88.525673" y="2.085938" style="font-style: oblique; font-size: 11.76px; font-family: 'DejaVu Sans', sans-serif">C</tspan><tspan x="96.712562" y="4.038281" style="font-style: oblique; font-size: 8.232px; font-family: 'DejaVu Sans', sans-serif">B</tspan><tspan x="104.9529" y="2.085938" style="font-size: 11.76px; font-family: 'DejaVu Sans', sans-serif">−</tspan><tspan x="117.061482" y="2.085938" style="font-style: oblique; font-size: 11.76px; font-family: 'DejaVu Sans', sans-serif">A</tspan><tspan x="125.082344" y="2.085938" style="font-size: 11.76px; font-family: 'DejaVu Sans', sans-serif">1</tspan><tspan x="132.542146" y="2.085938" style="font-size: 11.76px; font-family: 'DejaVu Sans', sans-serif">1</tspan><tspan x="142.286262" y="2.085938" style="font-size: 11.76px; font-family: 'DejaVu Sans', sans-serif">:</tspan><tspan x="148.520894" y="2.085938" style="font-style: oblique; font-size: 11.76px; font-family: 'DejaVu Sans', sans-serif">N</tspan><tspan x="159.576057" y="2.085938" style="font-size: 11.76px; font-family: 'DejaVu Sans', sans-serif">−</tspan><tspan x="171.684639" y="2.085938" style="font-style: oblique; font-size: 11.76px; font-family: 'DejaVu Sans', sans-serif">A</tspan><tspan x="179.7055" y="2.085938" style="font-size: 11.76px; font-family: 'DejaVu Sans', sans-serif">1</tspan><tspan x="187.165303" y="2.085938" style="font-size: 11.76px; font-family: 'DejaVu Sans', sans-serif">1</tspan><tspan x="196.909419" y="2.085938" style="font-size: 11.76px; font-family: 'DejaVu Sans', sans-serif">:</tspan><tspan x="203.14405" y="2.085938" style="font-style: oblique; font-size: 11.76px; font-family: 'DejaVu Sans', sans-serif">C</tspan><tspan x="211.33094" y="4.038281" style="font-style: oblique; font-size: 8.232px; font-family: 'DejaVu Sans', sans-serif">A</tspan></text>
     </g>
    </g>
   </g>
   <g id="matplotlib.axis_20">
    <g id="ytick_53">
     <g id="line2d_178">
      <g>
       <path d="M 0 0 L 7 0" transform="translate(352 982)" style="stroke: #000000; stroke-width: 1.5"/>
      </g>
     </g>
     <g id="line2d_179">
      <g>
       <path d="M 0 0 L -7 0" transform="translate(532.2 982)" style="stroke: #000000; stroke-width: 1.5"/>
      </g>
     </g>
     <g id="text_99">
      <text style="font-size: 16px; font-family: 'DejaVu Sans', sans-serif; text-anchor: end" x="346.6" y="988.07875" transform="translate(346.6 988.07875) scale(1.02 1) translate(-346.6 -988.07875)">0.000</text>
     </g>
    </g>
    <g id="ytick_54">
     <g id="line2d_180">
      <g>
       <path d="M 0 0 L 7 0" transform="translate(352 927.962217)" style="stroke: #000000; stroke-width: 1.5"/>
      </g>
     </g>
     <g id="line2d_181">
      <g>
       <path d="M 0 0 L -7 0" transform="translate(532.2 927.962217)" style="stroke: #000000; stroke-width: 1.5"/>
      </g>
     </g>
     <g id="text_100">
      <text style="font-size: 16px; font-family: 'DejaVu Sans', sans-serif; text-anchor: end" x="346.6" y="934.040967" transform="translate(346.6 934.040967) scale(1.02 1) translate(-346.6 -934.040967)">0.001</text>
     </g>
    </g>
    <g id="ytick_55">
     <g id="line2d_182">
      <g>
       <path d="M 0 0 L 7 0" transform="translate(352 873.924433)" style="stroke: #000000; stroke-width: 1.5"/>
      </g>
     </g>
     <g id="line2d_183">
      <g>
       <path d="M 0 0 L -7 0" transform="translate(532.2 873.924433)" style="stroke: #000000; stroke-width: 1.5"/>
      </g>
     </g>
     <g id="text_101">
      <text style="font-size: 16px; font-family: 'DejaVu Sans', sans-serif; text-anchor: end" x="346.6" y="880.003183" transform="translate(346.6 880.003183) scale(1.02 1) translate(-346.6 -880.003183)">0.002</text>
     </g>
    </g>
    <g id="ytick_56">
     <g id="line2d_184">
      <g>
       <path d="M 0 0 L 7 0" transform="translate(352 819.88665)" style="stroke: #000000; stroke-width: 1.5"/>
      </g>
     </g>
     <g id="line2d_185">
      <g>
       <path d="M 0 0 L -7 0" transform="translate(532.2 819.88665)" style="stroke: #000000; stroke-width: 1.5"/>
      </g>
     </g>
     <g id="text_102">
      <text style="font-size: 16px; font-family: 'DejaVu Sans', sans-serif; text-anchor: end" x="346.6" y="825.9654" transform="translate(346.6 825.9654) scale(1.02 1) translate(-346.6 -825.9654)">0.003</text>
     </g>
    </g>
    <g id="ytick_57">
     <g id="line2d_186">
      <g>
       <path d="M 0 0 L 7 0" transform="translate(352 765.848866)" style="stroke: #000000; stroke-width: 1.5"/>
      </g>
     </g>
     <g id="line2d_187">
      <g>
       <path d="M 0 0 L -7 0" transform="translate(532.2 765.848866)" style="stroke: #000000; stroke-width: 1.5"/>
      </g>
     </g>
     <g id="text_103">
      <text style="font-size: 16px; font-family: 'DejaVu Sans', sans-serif; text-anchor: end" x="346.6" y="771.927616" transform="translate(346.6 771.927616) scale(1.02 1) translate(-346.6 -771.927616)">0.004</text>
     </g>
    </g>
   </g>
   <g id="patch_67">
    <path d="M 349.4 981.9 L 355.4 981.9 L 356.4 981.8 L 357.4 981.7 L 358.4 981.6 L 359.4 981.3 L 360.4 981 L 361.3 980.6 L 362.3 980.2 L 363.3 979.7 L 364.3 979.2 L 365.3 978.6 L 366.3 978 L 367.3 977.3 L 368.3 976.4 L 369.3 975.2 L 370.3 973.6 L 371.3 971.6 L 372.3 969.3 L 373.3 966.6 L 374.3 963.7 L 375.3 960.6 L 376.3 957.1 L 377.3 953.2 L 378.3 948.5 L 379.3 943.2 L 380.3 937.1 L 381.3 930.4 L 382.3 923 L 383.3 914.7 L 384.3 904.9 L 385.3 893.3 L 386.3 880.5 L 387.3 867.1 L 388.3 853.7 L 389.3 840.5 L 390.3 827.5 L 391.3 814.5 L 392.3 801.7 L 393.3 789.5 L 394.3 778.2 L 395.3 767.6 L 396.3 757.7 L 397.3 749.1 L 398.3 742.5 L 399.3 738 L 400.3 734.7 L 401.3 732.2 L 402.3 730.4 L 403.2 729.5 L 404.2 729.7 L 405.2 730.8 L 406.2 732.9 L 407.2 735.8 L 408.2 739.6 L 409.2 745 L 410.2 752.5 L 411.2 761.8 L 412.2 771.8 L 413.2 782.3 L 414.2 793.4 L 415.2 805 L 416.2 816.9 L 417.2 828.6 L 418.2 839.8 L 419.2 850.7 L 420.2 861.4 L 421.2 871.7 L 422.2 881.5 L 423.2 890.5 L 424.2 898.7 L 425.2 906.3 L 426.2 913.3 L 427.2 919.8 L 428.2 925.7 L 429.2 931 L 430.2 935.8 L 431.2 940.2 L 432.2 944.3 L 433.2 948 L 434.2 951.4 L 435.2 954.3 L 436.2 956.8 L 437.2 958.9 L 438.2 960.8 L 439.2 962.6 L 440.2 964.3 L 441.2 965.7 L 442.2 966.9 L 443.2 967.7 L 444.2 968.2 L 445.1 968.2 L 446.1 967.6 L 447.1 966.5 L 448.1 965 L 449.1 963.1 L 450.1 961 L 451.1 958.6 L 452.1 956 L 453.1 953 L 454.1 949.3 L 455.1 945.1 L 456.1 940.6 L 457.1 935.8 L 458.1 930.6 L 459.1 925 L 460.1 919 L 461.1 912.7 L 462.1 906.5 L 463.1 900.3 L 464.1 894.1 L 465.1 887.9 L 466.1 881.8 L 467.1 875.9 L 468.1 870.2 L 469.1 864.8 L 470.1 859.5 L 471.1 854.4 L 472.1 849.8 L 473.1 846.1 L 474.1 843.2 L 475.1 841.1 L 476.1 839.3 L 477.1 837.8 L 478.1 836.5 L 479.1 835.5 L 480.1 834.9 L 481.1 834.7 L 482.1 834.9 L 483.1 835.5 L 484.1 836.5 L 485.1 837.7 L 486 839.3 L 487 841.4 L 488 844.4 L 489 848.3 L 490 853.2 L 491 858.5 L 492 864.3 L 493 870.6 L 494 877.6 L 495 885.3 L 496 893.2 L 497 901 L 498 908.4 L 499 915.5 L 500 922.5 L 501 929.3 L 502 935.5 L 503 941 L 504 945.9 L 505 950.4 L 506 954.5 L 507 958.3 L 508 961.7 L 509 964.8 L 510 967.4 L 511 969.7 L 512 971.8 L 513 973.8 L 514 975.5 L 515 977.1 L 516 978.3 L 517 979.3 L 518 980 L 519 980.6 L 520 981.1 L 521 981.5 L 522 981.7 L 523 981.9 L 529 981.9 L 529 981.9 z" clip-path="url(#p1db8a95b34)" style="fill: #ff0000; opacity: 0.25"/>
   </g>
   <g id="line2d_188">
    <path d="M 349.4 981.9 L 356.4 981.8 L 358.4 981.6 L 360.4 981 L 362.3 980.2 L 364.3 979.2 L 366.3 978 L 367.3 977.3 L 368.3 976.4 L 369.3 975.2 L 370.3 973.6 L 371.3 971.6 L 372.3 969.3 L 374.3 963.7 L 376.3 957.1 L 377.3 953.2 L 378.3 948.5 L 379.3 943.2 L 381.3 930.4 L 382.3 923 L 383.3 914.7 L 384.3 904.9 L 385.3 893.3 L 388.3 853.7 L 392.3 801.7 L 394.3 778.2 L 396.3 757.7 L 397.3 749.1 L 398.3 742.5 L 399.3 738 L 400.3 734.7 L 401.3 732.2 L 402.3 730.4 L 403.2 729.5 L 404.2 729.7 L 405.2 730.8 L 406.2 732.9 L 407.2 735.8 L 408.2 739.6 L 409.2 745 L 410.2 752.5 L 412.2 771.8 L 414.2 793.4 L 419.2 850.7 L 421.2 871.7 L 423.2 890.5 L 425.2 906.3 L 427.2 919.8 L 429.2 931 L 431.2 940.2 L 433.2 948 L 434.2 951.4 L 435.2 954.3 L 436.2 956.8 L 438.2 960.8 L 440.2 964.3 L 441.2 965.7 L 442.2 966.9 L 443.2 967.7 L 444.2 968.2 L 445.1 968.2 L 446.1 967.6 L 447.1 966.5 L 448.1 965 L 449.1 963.1 L 451.1 958.6 L 452.1 956 L 453.1 953 L 454.1 949.3 L 456.1 940.6 L 458.1 930.6 L 460.1 919 L 467.1 875.9 L 470.1 859.5 L 472.1 849.8 L 473.1 846.1 L 474.1 843.2 L 475.1 841.1 L 476.1 839.3 L 477.1 837.8 L 478.1 836.5 L 479.1 835.5 L 480.1 834.9 L 481.1 834.7 L 482.1 834.9 L 483.1 835.5 L 484.1 836.5 L 485.1 837.7 L 486 839.3 L 487 841.4 L 488 844.4 L 489 848.3 L 491 858.5 L 493 870.6 L 495 885.3 L 498 908.4 L 501 929.3 L 503 941 L 505 950.4 L 507 958.3 L 509 964.8 L 510 967.4 L 512 971.8 L 514 975.5 L 515 977.1 L 516 978.3 L 517 979.3 L 518 980 L 520 981.1 L 521 981.5 L 522 981.7 L 523 981.9 L 529 981.9 L 529 981.9" clip-path="url(#p1db8a95b34)" style="fill: none; stroke: #e0203c; stroke-width: 1.55; stroke-linecap: square"/>
   </g>
   <g id="text_104">
    <text style="font-size: 16.5px; font-family: 'DejaVu Sans', sans-serif; text-anchor: start" x="360" y="743.593897" transform="translate(360 743.593897) scale(1.03 1) translate(-360 -743.593897)">(j)</text>
   </g>
   <g id="patch_68">
    <path d="M 352 982 L 352 716.6" style="fill: none; stroke: #000000; stroke-width: 2.2; stroke-linejoin: miter; stroke-linecap: square"/>
   </g>
   <g id="patch_69">
    <path d="M 532.2 982 L 532.2 716.6" style="fill: none; stroke: #000000; stroke-width: 2.2; stroke-linejoin: miter; stroke-linecap: square"/>
   </g>
   <g id="patch_70">
    <path d="M 352 982 L 532.2 982" style="fill: none; stroke: #000000; stroke-width: 2.2; stroke-linejoin: miter; stroke-linecap: square"/>
   </g>
   <g id="patch_71">
    <path d="M 352 716.6 L 532.2 716.6" style="fill: none; stroke: #000000; stroke-width: 2.2; stroke-linejoin: miter; stroke-linecap: square"/>
   </g>
  </g>
  <g id="axes_11">
   <g id="patch_72">
    <path d="M 604.6 982 L 784.8 982 L 784.8 716.6 L 604.6 716.6 z" style="fill: #ffffff"/>
   </g>
   <g id="patch_73">
    <path d="M 607.9 982 L 613.9 982 L 614.9 982 L 615.9 982 L 616.9 982 L 617.9 981.7 L 618.9 981.4 L 619.9 981 L 620.9 980.6 L 621.9 980.2 L 622.9 979.6 L 623.9 978.9 L 624.9 978.2 L 625.9 977.3 L 626.9 976.4 L 627.9 975.3 L 628.9 974 L 629.9 972.5 L 630.9 970.6 L 631.8 968.6 L 632.8 966.4 L 633.8 964.1 L 634.8 961.8 L 635.8 959.4 L 636.8 957 L 637.8 954.4 L 638.8 951.8 L 639.8 949.4 L 640.8 947.3 L 641.8 945.5 L 642.8 943.9 L 643.8 942.4 L 644.8 941 L 645.8 939.7 L 646.8 938.5 L 647.8 937.4 L 648.8 936.3 L 649.7 935.2 L 650.7 934 L 651.7 932.6 L 652.7 930.8 L 653.7 928.6 L 654.7 925.9 L 655.7 922.6 L 656.7 918.3 L 657.7 912.9 L 658.7 906.2 L 659.7 898.1 L 660.7 888.6 L 661.7 878.3 L 662.7 867.7 L 663.7 857 L 664.7 846.3 L 665.7 835.6 L 666.7 824.9 L 667.6 814.2 L 668.6 803.7 L 669.6 793.2 L 670.6 782.9 L 671.6 773.1 L 672.6 764.2 L 673.6 756.2 L 674.6 749.1 L 675.6 742.9 L 676.6 737.8 L 677.6 733.8 L 678.6 731.2 L 679.6 730.4 L 680.6 730.8 L 681.6 732.4 L 682.6 735.7 L 683.6 741.1 L 684.6 748.1 L 685.5 756.5 L 686.5 766.2 L 687.5 776.6 L 688.5 787.1 L 689.5 797.6 L 690.5 808.3 L 691.5 819.1 L 692.5 830.1 L 693.5 841.3 L 694.5 852.7 L 695.5 864.1 L 696.5 875.6 L 697.5 887.1 L 698.5 898.4 L 699.5 909.3 L 700.5 919.6 L 701.5 929 L 702.5 937.2 L 703.5 944.1 L 704.4 950 L 705.4 954.7 L 706.4 958.3 L 707.4 960.7 L 708.4 961.8 L 709.4 961.6 L 710.4 960.3 L 711.4 958.3 L 712.4 955.5 L 713.4 952.2 L 714.4 948.4 L 715.4 944.3 L 716.4 940 L 717.4 935.4 L 718.4 930.6 L 719.4 925.7 L 720.4 920.7 L 721.4 915.4 L 722.3 909.9 L 723.3 904.1 L 724.3 898.2 L 725.3 892.1 L 726.3 886 L 727.3 880.4 L 728.3 875.4 L 729.3 871 L 730.3 867 L 731.3 863.7 L 732.3 861 L 733.3 859 L 734.3 857.3 L 735.3 856 L 736.3 854.9 L 737.3 854.4 L 738.3 854.4 L 739.3 855 L 740.2 856.1 L 741.2 857.6 L 742.2 859.4 L 743.2 861.7 L 744.2 864.8 L 745.2 868.8 L 746.2 873.7 L 747.2 879.4 L 748.2 886.1 L 749.2 893.6 L 750.2 901.2 L 751.2 908.8 L 752.2 916.3 L 753.2 923.5 L 754.2 930.3 L 755.2 936.4 L 756.2 942.1 L 757.2 947.2 L 758.1 951.9 L 759.1 956.2 L 760.1 960 L 761.1 963.5 L 762.1 966.4 L 763.1 969 L 764.1 971.2 L 765.1 973.2 L 766.1 974.9 L 767.1 976.5 L 768.1 977.8 L 769.1 979 L 770.1 980.1 L 771.1 980.9 L 772.1 981.5 L 773.1 981.9 L 774.1 982 L 775.1 982 L 776 982 L 782 982 L 782 982 z" clip-path="url(#p99a3a5b7c4)" style="fill: #0000ff; opacity: 0.25"/>
   </g>
   <g id="line2d_189">
    <path d="M 607.9 982 L 616.9 982 L 618.9 981.4 L 620.9 980.6 L 622.9 979.6 L 624.9 978.2 L 626.9 976.4 L 627.9 975.3 L 628.9 974 L 629.9 972.5 L 631.8 968.6 L 634.8 961.8 L 636.8 957 L 639.8 949.4 L 640.8 947.3 L 642.8 943.9 L 644.8 941 L 646.8 938.5 L 650.7 934 L 651.7 932.6 L 652.7 930.8 L 653.7 928.6 L 654.7 925.9 L 655.7 922.6 L 656.7 918.3 L 657.7 912.9 L 658.7 906.2 L 659.7 898.1 L 661.7 878.3 L 671.6 773.1 L 673.6 756.2 L 674.6 749.1 L 675.6 742.9 L 676.6 737.8 L 677.6 733.8 L 678.6 731.2 L 679.6 730.4 L 680.6 730.8 L 681.6 732.4 L 682.6 735.7 L 683.6 741.1 L 684.6 748.1 L 685.5 756.5 L 687.5 776.6 L 692.5 830.1 L 700.5 919.6 L 701.5 929 L 702.5 937.2 L 703.5 944.1 L 704.4 950 L 705.4 954.7 L 706.4 958.3 L 707.4 960.7 L 708.4 961.8 L 709.4 961.6 L 710.4 960.3 L 711.4 958.3 L 712.4 955.5 L 713.4 952.2 L 715.4 944.3 L 717.4 935.4 L 720.4 920.7 L 722.3 909.9 L 725.3 892.1 L 727.3 880.4 L 729.3 871 L 730.3 867 L 731.3 863.7 L 732.3 861 L 733.3 859 L 734.3 857.3 L 735.3 856 L 736.3 854.9 L 737.3 854.4 L 738.3 854.4 L 739.3 855 L 740.2 856.1 L 741.2 857.6 L 742.2 859.4 L 743.2 861.7 L 744.2 864.8 L 745.2 868.8 L 746.2 873.7 L 747.2 879.4 L 749.2 893.6 L 753.2 923.5 L 755.2 936.4 L 757.2 947.2 L 759.1 956.2 L 761.1 963.5 L 762.1 966.4 L 764.1 971.2 L 766.1 974.9 L 768.1 977.8 L 770.1 980.1 L 771.1 980.9 L 772.1 981.5 L 773.1 981.9 L 775.1 982 L 782 982 L 782 982" clip-path="url(#p99a3a5b7c4)" style="fill: none; stroke: #2a2ad8; stroke-width: 1.55; stroke-linecap: square"/>
   </g>
   <g id="matplotlib.axis_21">
    <g id="xtick_28">
     <g id="line2d_190">
      <g>
       <path d="M 0 0 L 0 -7" transform="translate(643.8 982)" style="stroke: #000000; stroke-width: 1.5"/>
      </g>
     </g>
     <g id="line2d_191">
      <g>
       <path d="M 0 0 L 0 7" transform="translate(643.8 716.6)" style="stroke: #000000; stroke-width: 1.5"/>
      </g>
     </g>
     <g id="text_105">
      <text style="font-size: 16px; font-family: 'DejaVu Sans', sans-serif; text-anchor: middle" x="643.8" y="999.9575" transform="translate(643.8 999.9575) scale(1.02 1) translate(-643.8 -999.9575)">0</text>
     </g>
    </g>
    <g id="xtick_29">
     <g id="line2d_192">
      <g>
       <path d="M 0 0 L 0 -7" transform="translate(715.1 982)" style="stroke: #000000; stroke-width: 1.5"/>
      </g>
     </g>
     <g id="line2d_193">
      <g>
       <path d="M 0 0 L 0 7" transform="translate(715.1 716.6)" style="stroke: #000000; stroke-width: 1.5"/>
      </g>
     </g>
     <g id="text_106">
      <text style="font-size: 16px; font-family: 'DejaVu Sans', sans-serif; text-anchor: middle" x="715.1" y="999.9575" transform="translate(715.1 999.9575) scale(1.02 1) translate(-715.1 -999.9575)">250</text>
     </g>
    </g>
    <g id="text_107">
     <g transform="translate(581.216 1020.64025)">
      <text><tspan x="0" y="-0.703125" style="font-style: oblique; font-size: 16.8px; font-family: 'DejaVu Sans', sans-serif">ψ</tspan><tspan x="11.049438" y="2.085938" style="font-style: oblique; font-size: 11.76px; font-family: 'DejaVu Sans', sans-serif">A</tspan><tspan x="19.0703" y="2.085938" style="font-size: 11.76px; font-family: 'DejaVu Sans', sans-serif">1</tspan><tspan x="26.530103" y="2.085938" style="font-size: 11.76px; font-family: 'DejaVu Sans', sans-serif">1</tspan><tspan x="36.274219" y="2.085938" style="font-size: 11.76px; font-family: 'DejaVu Sans', sans-serif">:</tspan><tspan x="42.50885" y="2.085938" style="font-style: oblique; font-size: 11.76px; font-family: 'DejaVu Sans', sans-serif">N</tspan><tspan x="53.564014" y="2.085938" style="font-size: 11.76px; font-family: 'DejaVu Sans', sans-serif">−</tspan><tspan x="65.672595" y="2.085938" style="font-style: oblique; font-size: 11.76px; font-family: 'DejaVu Sans', sans-serif">A</tspan><tspan x="73.693457" y="2.085938" style="font-size: 11.76px; font-family: 'DejaVu Sans', sans-serif">1</tspan><tspan x="81.153259" y="2.085938" style="font-size: 11.76px; font-family: 'DejaVu Sans', sans-serif">1</tspan><tspan x="90.897375" y="2.085938" style="font-size: 11.76px; font-family: 'DejaVu Sans', sans-serif">:</tspan><tspan x="97.132007" y="2.085938" style="font-style: oblique; font-size: 11.76px; font-family: 'DejaVu Sans', sans-serif">C</tspan><tspan x="105.318896" y="4.038281" style="font-style: oblique; font-size: 8.232px; font-family: 'DejaVu Sans', sans-serif">B</tspan><tspan x="113.559235" y="2.085938" style="font-size: 11.76px; font-family: 'DejaVu Sans', sans-serif">−</tspan><tspan x="125.667816" y="2.085938" style="font-style: oblique; font-size: 11.76px; font-family: 'DejaVu Sans', sans-serif">A</tspan><tspan x="133.688678" y="2.085938" style="font-size: 11.76px; font-family: 'DejaVu Sans', sans-serif">1</tspan><tspan x="141.14848" y="2.085938" style="font-size: 11.76px; font-family: 'DejaVu Sans', sans-serif">1</tspan><tspan x="150.892596" y="2.085938" style="font-size: 11.76px; font-family: 'DejaVu Sans', sans-serif">:</tspan><tspan x="157.127228" y="2.085938" style="font-style: oblique; font-size: 11.76px; font-family: 'DejaVu Sans', sans-serif">O</tspan><tspan x="168.640399" y="2.085938" style="font-size: 11.76px; font-family: 'DejaVu Sans', sans-serif">−</tspan><tspan x="180.748981" y="2.085938" style="font-style: oblique; font-size: 11.76px; font-family: 'DejaVu Sans', sans-serif">E</tspan><tspan x="188.157257" y="2.085938" style="font-size: 11.76px; font-family: 'DejaVu Sans', sans-serif">1</tspan><tspan x="195.617059" y="2.085938" style="font-size: 11.76px; font-family: 'DejaVu Sans', sans-serif">2</tspan><tspan x="205.361176" y="2.085938" style="font-size: 11.76px; font-family: 'DejaVu Sans', sans-serif">:</tspan><tspan x="211.595807" y="2.085938" style="font-style: oblique; font-size: 11.76px; font-family: 'DejaVu Sans', sans-serif">C</tspan><tspan x="219.782697" y="4.038281" style="font-style: oblique; font-size: 8.232px; font-family: 'DejaVu Sans', sans-serif">A</tspan></text>
     </g>
    </g>
   </g>
   <g id="matplotlib.axis_22">
    <g id="ytick_58">
     <g id="line2d_194">
      <g>
       <path d="M 0 0 L 7 0" transform="translate(604.6 981.892857)" style="stroke: #000000; stroke-width: 1.5"/>
      </g>
     </g>
     <g id="line2d_195">
      <g>
       <path d="M 0 0 L -7 0" transform="translate(784.8 981.892857)" style="stroke: #000000; stroke-width: 1.5"/>
      </g>
     </g>
     <g id="text_108">
      <text style="font-size: 16px; font-family: 'DejaVu Sans', sans-serif; text-anchor: end" x="599.2" y="987.971607" transform="translate(599.2 987.971607) scale(1.02 1) translate(-599.2 -987.971607)">0.000</text>
     </g>
    </g>
    <g id="ytick_59">
     <g id="line2d_196">
      <g>
       <path d="M 0 0 L 7 0" transform="translate(604.6 939.271429)" style="stroke: #000000; stroke-width: 1.5"/>
      </g>
     </g>
     <g id="line2d_197">
      <g>
       <path d="M 0 0 L -7 0" transform="translate(784.8 939.271429)" style="stroke: #000000; stroke-width: 1.5"/>
      </g>
     </g>
     <g id="text_109">
      <text style="font-size: 16px; font-family: 'DejaVu Sans', sans-serif; text-anchor: end" x="599.2" y="945.350179" transform="translate(599.2 945.350179) scale(1.02 1) translate(-599.2 -945.350179)">0.001</text>
     </g>
    </g>
    <g id="ytick_60">
     <g id="line2d_198">
      <g>
       <path d="M 0 0 L 7 0" transform="translate(604.6 896.65)" style="stroke: #000000; stroke-width: 1.5"/>
      </g>
     </g>
     <g id="line2d_199">
      <g>
       <path d="M 0 0 L -7 0" transform="translate(784.8 896.65)" style="stroke: #000000; stroke-width: 1.5"/>
      </g>
     </g>
     <g id="text_110">
      <text style="font-size: 16px; font-family: 'DejaVu Sans', sans-serif; text-anchor: end" x="599.2" y="902.72875" transform="translate(599.2 902.72875) scale(1.02 1) translate(-599.2 -902.72875)">0.002</text>
     </g>
    </g>
    <g id="ytick_61">
     <g id="line2d_200">
      <g>
       <path d="M 0 0 L 7 0" transform="translate(604.6 854.028571)" style="stroke: #000000; stroke-width: 1.5"/>
      </g>
     </g>
     <g id="line2d_201">
      <g>
       <path d="M 0 0 L -7 0" transform="translate(784.8 854.028571)" style="stroke: #000000; stroke-width: 1.5"/>
      </g>
     </g>
     <g id="text_111">
      <text style="font-size: 16px; font-family: 'DejaVu Sans', sans-serif; text-anchor: end" x="599.2" y="860.107321" transform="translate(599.2 860.107321) scale(1.02 1) translate(-599.2 -860.107321)">0.003</text>
     </g>
    </g>
    <g id="ytick_62">
     <g id="line2d_202">
      <g>
       <path d="M 0 0 L 7 0" transform="translate(604.6 811.407143)" style="stroke: #000000; stroke-width: 1.5"/>
      </g>
     </g>
     <g id="line2d_203">
      <g>
       <path d="M 0 0 L -7 0" transform="translate(784.8 811.407143)" style="stroke: #000000; stroke-width: 1.5"/>
      </g>
     </g>
     <g id="text_112">
      <text style="font-size: 16px; font-family: 'DejaVu Sans', sans-serif; text-anchor: end" x="599.2" y="817.485893" transform="translate(599.2 817.485893) scale(1.02 1) translate(-599.2 -817.485893)">0.004</text>
     </g>
    </g>
    <g id="ytick_63">
     <g id="line2d_204">
      <g>
       <path d="M 0 0 L 7 0" transform="translate(604.6 768.785714)" style="stroke: #000000; stroke-width: 1.5"/>
      </g>
     </g>
     <g id="line2d_205">
      <g>
       <path d="M 0 0 L -7 0" transform="translate(784.8 768.785714)" style="stroke: #000000; stroke-width: 1.5"/>
      </g>
     </g>
     <g id="text_113">
      <text style="font-size: 16px; font-family: 'DejaVu Sans', sans-serif; text-anchor: end" x="599.2" y="774.864464" transform="translate(599.2 774.864464) scale(1.02 1) translate(-599.2 -774.864464)">0.005</text>
     </g>
    </g>
    <g id="ytick_64">
     <g id="line2d_206">
      <g>
       <path d="M 0 0 L 7 0" transform="translate(604.6 726.164286)" style="stroke: #000000; stroke-width: 1.5"/>
      </g>
     </g>
     <g id="line2d_207">
      <g>
       <path d="M 0 0 L -7 0" transform="translate(784.8 726.164286)" style="stroke: #000000; stroke-width: 1.5"/>
      </g>
     </g>
     <g id="text_114">
      <text style="font-size: 16px; font-family: 'DejaVu Sans', sans-serif; text-anchor: end" x="599.2" y="732.243036" transform="translate(599.2 732.243036) scale(1.02 1) translate(-599.2 -732.243036)">0.006</text>
     </g>
    </g>
   </g>
   <g id="patch_74">
    <path d="M 607.9 982 L 613.9 982 L 614.9 982 L 615.9 982 L 616.9 982 L 617.9 981.7 L 618.9 981.4 L 619.9 981 L 620.9 980.6 L 621.9 980.2 L 622.9 979.6 L 623.9 978.9 L 624.9 978.2 L 625.9 977.3 L 626.9 976.4 L 627.9 975.3 L 628.9 974 L 629.9 972.5 L 630.9 970.6 L 631.8 968.6 L 632.8 966.4 L 633.8 964.1 L 634.8 961.8 L 635.8 959.4 L 636.8 957 L 637.8 954.4 L 638.8 951.8 L 639.8 949.4 L 640.8 947.3 L 641.8 945.5 L 642.8 943.9 L 643.8 942.4 L 644.8 941 L 645.8 939.7 L 646.8 938.5 L 647.8 937.4 L 648.8 936.3 L 649.7 935.2 L 650.7 934 L 651.7 932.6 L 652.7 930.8 L 653.7 928.6 L 654.7 925.9 L 655.7 922.6 L 656.7 918.3 L 657.7 912.9 L 658.7 906.2 L 659.7 898.1 L 660.7 888.6 L 661.7 878.3 L 662.7 867.7 L 663.7 857 L 664.7 846.3 L 665.7 835.6 L 666.7 824.9 L 667.6 814.2 L 668.6 803.7 L 669.6 793.2 L 670.6 782.9 L 671.6 773.1 L 672.6 764.2 L 673.6 756.2 L 674.6 749.1 L 675.6 742.9 L 676.6 737.8 L 677.6 733.8 L 678.6 731.2 L 679.6 730.4 L 680.6 730.8 L 681.6 732.4 L 682.6 735.7 L 683.6 741.1 L 684.6 748.1 L 685.5 756.5 L 686.5 766.2 L 687.5 776.6 L 688.5 787.1 L 689.5 797.6 L 690.5 808.3 L 691.5 819.1 L 692.5 830.1 L 693.5 841.3 L 694.5 852.7 L 695.5 864.1 L 696.5 875.6 L 697.5 887.1 L 698.5 898.4 L 699.5 909.3 L 700.5 919.6 L 701.5 929 L 702.5 937.2 L 703.5 944.1 L 704.4 950 L 705.4 954.7 L 706.4 958.3 L 707.4 960.7 L 708.4 961.8 L 709.4 961.6 L 710.4 960.3 L 711.4 958.3 L 712.4 955.5 L 713.4 952.2 L 714.4 948.4 L 715.4 944.3 L 716.4 940 L 717.4 935.4 L 718.4 930.6 L 719.4 925.7 L 720.4 920.7 L 721.4 915.4 L 722.3 909.9 L 723.3 904.1 L 724.3 898.2 L 725.3 892.1 L 726.3 886 L 727.3 880.4 L 728.3 875.4 L 729.3 871 L 730.3 867 L 731.3 863.7 L 732.3 861 L 733.3 859 L 734.3 857.3 L 735.3 856 L 736.3 854.9 L 737.3 854.4 L 738.3 854.4 L 739.3 855 L 740.2 856.1 L 741.2 857.6 L 742.2 859.4 L 743.2 861.7 L 744.2 864.8 L 745.2 868.8 L 746.2 873.7 L 747.2 879.4 L 748.2 886.1 L 749.2 893.6 L 750.2 901.2 L 751.2 908.8 L 752.2 916.3 L 753.2 923.5 L 754.2 930.3 L 755.2 936.4 L 756.2 942.1 L 757.2 947.2 L 758.1 951.9 L 759.1 956.2 L 760.1 960 L 761.1 963.5 L 762.1 966.4 L 763.1 969 L 764.1 971.2 L 765.1 973.2 L 766.1 974.9 L 767.1 976.5 L 768.1 977.8 L 769.1 979 L 770.1 980.1 L 771.1 980.9 L 772.1 981.5 L 773.1 981.9 L 774.1 982 L 775.1 982 L 776 982 L 782 982 L 782 982 z" clip-path="url(#p99a3a5b7c4)" style="fill: #ff0000; opacity: 0.25"/>
   </g>
   <g id="line2d_208">
    <path d="M 607.9 982 L 616.9 982 L 618.9 981.4 L 620.9 980.6 L 622.9 979.6 L 624.9 978.2 L 626.9 976.4 L 627.9 975.3 L 628.9 974 L 629.9 972.5 L 631.8 968.6 L 634.8 961.8 L 636.8 957 L 639.8 949.4 L 640.8 947.3 L 642.8 943.9 L 644.8 941 L 646.8 938.5 L 650.7 934 L 651.7 932.6 L 652.7 930.8 L 653.7 928.6 L 654.7 925.9 L 655.7 922.6 L 656.7 918.3 L 657.7 912.9 L 658.7 906.2 L 659.7 898.1 L 661.7 878.3 L 671.6 773.1 L 673.6 756.2 L 674.6 749.1 L 675.6 742.9 L 676.6 737.8 L 677.6 733.8 L 678.6 731.2 L 679.6 730.4 L 680.6 730.8 L 681.6 732.4 L 682.6 735.7 L 683.6 741.1 L 684.6 748.1 L 685.5 756.5 L 687.5 776.6 L 692.5 830.1 L 700.5 919.6 L 701.5 929 L 702.5 937.2 L 703.5 944.1 L 704.4 950 L 705.4 954.7 L 706.4 958.3 L 707.4 960.7 L 708.4 961.8 L 709.4 961.6 L 710.4 960.3 L 711.4 958.3 L 712.4 955.5 L 713.4 952.2 L 715.4 944.3 L 717.4 935.4 L 720.4 920.7 L 722.3 909.9 L 725.3 892.1 L 727.3 880.4 L 729.3 871 L 730.3 867 L 731.3 863.7 L 732.3 861 L 733.3 859 L 734.3 857.3 L 735.3 856 L 736.3 854.9 L 737.3 854.4 L 738.3 854.4 L 739.3 855 L 740.2 856.1 L 741.2 857.6 L 742.2 859.4 L 743.2 861.7 L 744.2 864.8 L 745.2 868.8 L 746.2 873.7 L 747.2 879.4 L 749.2 893.6 L 753.2 923.5 L 755.2 936.4 L 757.2 947.2 L 759.1 956.2 L 761.1 963.5 L 762.1 966.4 L 764.1 971.2 L 766.1 974.9 L 768.1 977.8 L 770.1 980.1 L 771.1 980.9 L 772.1 981.5 L 773.1 981.9 L 775.1 982 L 782 982 L 782 982" clip-path="url(#p99a3a5b7c4)" style="fill: none; stroke: #e0203c; stroke-width: 1.55; stroke-linecap: square"/>
   </g>
   <g id="text_115">
    <text style="font-size: 16.5px; font-family: 'DejaVu Sans', sans-serif; text-anchor: start" x="612.6" y="743.6" transform="translate(612.6 743.6) scale(1.03 1) translate(-612.6 -743.6)">(k)</text>
   </g>
   <g id="patch_75">
    <path d="M 604.6 982 L 604.6 716.6" style="fill: none; stroke: #000000; stroke-width: 2.2; stroke-linejoin: miter; stroke-linecap: square"/>
   </g>
   <g id="patch_76">
    <path d="M 784.8 982 L 784.8 716.6" style="fill: none; stroke: #000000; stroke-width: 2.2; stroke-linejoin: miter; stroke-linecap: square"/>
   </g>
   <g id="patch_77">
    <path d="M 604.6 982 L 784.8 982" style="fill: none; stroke: #000000; stroke-width: 2.2; stroke-linejoin: miter; stroke-linecap: square"/>
   </g>
   <g id="patch_78">
    <path d="M 604.6 716.6 L 784.8 716.6" style="fill: none; stroke: #000000; stroke-width: 2.2; stroke-linejoin: miter; stroke-linecap: square"/>
   </g>
  </g>
  <g id="axes_12">
   <g id="patch_79">
    <path d="M 857.1 982 L 1037.3 982 L 1037.3 716.6 L 857.1 716.6 z" style="fill: #ffffff"/>
   </g>
   <g id="patch_80">
    <path d="M 857.2 982 L 863.2 981.9 L 864.2 981.8 L 865.1 981.6 L 866.1 981.4 L 867.1 981 L 868.1 980.5 L 869.1 980 L 870.1 979.4 L 871.1 978.7 L 872.1 978 L 873.1 977.2 L 874.1 976.2 L 875.1 975 L 876.1 973.5 L 877.1 971.9 L 878.1 970 L 879.1 967.9 L 880.1 965.7 L 881.1 963.4 L 882.1 960.8 L 883.1 957.9 L 884.1 954.6 L 885.1 951 L 886.1 947.1 L 887.1 943 L 888.1 938.6 L 889.1 933.9 L 890.1 928.8 L 891.1 923.2 L 892.1 917.5 L 893 911.8 L 894 906.2 L 895 900.5 L 896 894.7 L 897 889.2 L 898 884.1 L 899 879.8 L 900 876.2 L 901 873.1 L 902 870.5 L 903 868.4 L 904 867.1 L 905 866.3 L 906 865.8 L 907 865.5 L 908 865.3 L 909 865.4 L 910 865.8 L 911 866.5 L 912 867.6 L 913 869 L 914 871.3 L 915 874.8 L 916 879.5 L 917 884.9 L 918 890.5 L 919 896.3 L 920 902.3 L 920.9 908.5 L 921.9 914.7 L 922.9 920.7 L 923.9 926.5 L 924.9 932.1 L 925.9 937.5 L 926.9 942.6 L 927.9 947.3 L 928.9 951.5 L 929.9 955.3 L 930.9 958.9 L 931.9 962.1 L 932.9 965 L 933.9 967.4 L 934.9 969.3 L 935.9 971 L 936.9 972.5 L 937.9 973.9 L 938.9 975 L 939.9 975.9 L 940.9 976.6 L 941.9 977 L 942.9 977.4 L 943.9 977.6 L 944.9 977.8 L 945.9 977.9 L 946.9 977.9 L 947.8 977.8 L 948.8 977.4 L 949.8 976.7 L 950.8 975.9 L 951.8 975 L 952.8 973.9 L 953.8 972.8 L 954.8 971.5 L 955.8 970 L 956.8 968.2 L 957.8 966.2 L 958.8 963.9 L 959.8 961.3 L 960.8 958.4 L 961.8 954.9 L 962.8 950.7 L 963.8 945.7 L 964.8 940 L 965.8 933.4 L 966.8 925.9 L 967.8 917 L 968.8 906.7 L 969.8 895.5 L 970.8 884.2 L 971.8 873 L 972.8 861.7 L 973.8 850 L 974.8 837.5 L 975.7 824 L 976.7 810.6 L 977.7 798.7 L 978.7 788.8 L 979.7 780.5 L 980.7 773.3 L 981.7 767.2 L 982.7 762.1 L 983.7 757.8 L 984.7 754.4 L 985.7 752.2 L 986.7 750.9 L 987.7 750.3 L 988.7 750.5 L 989.7 751.5 L 990.7 753.2 L 991.7 756 L 992.7 759.9 L 993.7 764.9 L 994.7 770.6 L 995.7 777.2 L 996.7 784.7 L 997.7 793.6 L 998.7 804.1 L 999.7 816.9 L 1000.7 831.2 L 1001.7 845.7 L 1002.7 859.3 L 1003.6 872 L 1004.6 883.7 L 1005.6 894.3 L 1006.6 903.9 L 1007.6 912.8 L 1008.6 920.9 L 1009.6 928.6 L 1010.6 935.9 L 1011.6 942.7 L 1012.6 948.9 L 1013.6 954.3 L 1014.6 958.9 L 1015.6 963 L 1016.6 966.7 L 1017.6 969.8 L 1018.6 972.4 L 1019.6 974.5 L 1020.6 976.2 L 1021.6 977.7 L 1022.6 979 L 1023.6 980.1 L 1024.6 981 L 1025.6 981.6 L 1026.6 981.8 L 1032.6 982 L 1032.6 982 z" clip-path="url(#p30204097ab)" style="fill: #0000ff; opacity: 0.25"/>
   </g>
   <g id="line2d_209">
    <path d="M 857.2 982 L 864.2 981.8 L 866.1 981.4 L 868.1 980.5 L 870.1 979.4 L 872.1 978 L 873.1 977.2 L 874.1 976.2 L 875.1 975 L 876.1 973.5 L 878.1 970 L 880.1 965.7 L 882.1 960.8 L 883.1 957.9 L 885.1 951 L 887.1 943 L 889.1 933.9 L 891.1 923.2 L 897 889.2 L 898 884.1 L 899 879.8 L 900 876.2 L 901 873.1 L 902 870.5 L 903 868.4 L 904 867.1 L 905 866.3 L 906 865.8 L 907 865.5 L 908 865.3 L 909 865.4 L 910 865.8 L 911 866.5 L 912 867.6 L 913 869 L 914 871.3 L 915 874.8 L 916 879.5 L 918 890.5 L 920 902.3 L 922.9 920.7 L 925.9 937.5 L 927.9 947.3 L 929.9 955.3 L 931.9 962.1 L 932.9 965 L 933.9 967.4 L 934.9 969.3 L 936.9 972.5 L 937.9 973.9 L 938.9 975 L 939.9 975.9 L 940.9 976.6 L 941.9 977 L 943.9 977.6 L 945.9 977.9 L 946.9 977.9 L 947.8 977.8 L 948.8 977.4 L 949.8 976.7 L 951.8 975 L 953.8 972.8 L 954.8 971.5 L 955.8 970 L 956.8 968.2 L 957.8 966.2 L 958.8 963.9 L 959.8 961.3 L 960.8 958.4 L 961.8 954.9 L 962.8 950.7 L 963.8 945.7 L 964.8 940 L 965.8 933.4 L 966.8 925.9 L 967.8 917 L 969.8 895.5 L 973.8 850 L 975.7 824 L 976.7 810.6 L 977.7 798.7 L 978.7 788.8 L 979.7 780.5 L 980.7 773.3 L 981.7 767.2 L 982.7 762.1 L 983.7 757.8 L 984.7 754.4 L 985.7 752.2 L 986.7 750.9 L 987.7 750.3 L 988.7 750.5 L 989.7 751.5 L 990.7 753.2 L 991.7 756 L 992.7 759.9 L 993.7 764.9 L 994.7 770.6 L 995.7 777.2 L 996.7 784.7 L 997.7 793.6 L 998.7 804.1 L 999.7 816.9 L 1002.7 859.3 L 1004.6 883.7 L 1006.6 903.9 L 1008.6 920.9 L 1010.6 935.9 L 1012.6 948.9 L 1013.6 954.3 L 1015.6 963 L 1016.6 966.7 L 1017.6 969.8 L 1018.6 972.4 L 1019.6 974.5 L 1021.6 977.7 L 1022.6 979 L 1023.6 980.1 L 1024.6 981 L 1025.6 981.6 L 1026.6 981.8 L 1032.6 982 L 1032.6 982" clip-path="url(#p30204097ab)" style="fill: none; stroke: #2a2ad8; stroke-width: 1.55; stroke-linecap: square"/>
   </g>
   <g id="matplotlib.axis_23">
    <g id="xtick_30">
     <g id="line2d_210">
      <g>
       <path d="M 0 0 L 0 -7" transform="translate(903.1 982)" style="stroke: #000000; stroke-width: 1.5"/>
      </g>
     </g>
     <g id="line2d_211">
      <g>
       <path d="M 0 0 L 0 7" transform="translate(903.1 716.6)" style="stroke: #000000; stroke-width: 1.5"/>
      </g>
     </g>
     <g id="text_116">
      <text style="font-size: 16px; font-family: 'DejaVu Sans', sans-serif; text-anchor: middle" x="903.1" y="999.9575" transform="translate(903.1 999.9575) scale(1.02 1) translate(-903.1 -999.9575)">0</text>
     </g>
    </g>
    <g id="xtick_31">
     <g id="line2d_212">
      <g>
       <path d="M 0 0 L 0 -7" transform="translate(965.1 982)" style="stroke: #000000; stroke-width: 1.5"/>
      </g>
     </g>
     <g id="line2d_213">
      <g>
       <path d="M 0 0 L 0 7" transform="translate(965.1 716.6)" style="stroke: #000000; stroke-width: 1.5"/>
      </g>
     </g>
     <g id="text_117">
      <text style="font-size: 16px; font-family: 'DejaVu Sans', sans-serif; text-anchor: middle" x="965.1" y="999.9575" transform="translate(965.1 999.9575) scale(1.02 1) translate(-965.1 -999.9575)">250</text>
     </g>
    </g>
    <g id="xtick_32">
     <g id="line2d_214">
      <g>
       <path d="M 0 0 L 0 -7" transform="translate(1027.1 982)" style="stroke: #000000; stroke-width: 1.5"/>
      </g>
     </g>
     <g id="line2d_215">
      <g>
       <path d="M 0 0 L 0 7" transform="translate(1027.1 716.6)" style="stroke: #000000; stroke-width: 1.5"/>
      </g>
     </g>
     <g id="text_118">
      <text style="font-size: 16px; font-family: 'DejaVu Sans', sans-serif; text-anchor: middle" x="1027.1" y="999.9575" transform="translate(1027.1 999.9575) scale(1.02 1) translate(-1027.1 -999.9575)">500</text>
     </g>
    </g>
    <g id="text_119">
     <g transform="translate(838.756 1020.64025)">
      <text><tspan x="0" y="-0.703125" style="font-style: oblique; font-size: 16.8px; font-family: 'DejaVu Sans', sans-serif">ψ</tspan><tspan x="11.049438" y="2.085938" style="font-style: oblique; font-size: 11.76px; font-family: 'DejaVu Sans', sans-serif">R</tspan><tspan x="19.196252" y="2.085938" style="font-size: 11.76px; font-family: 'DejaVu Sans', sans-serif">9</tspan><tspan x="28.940369" y="2.085938" style="font-size: 11.76px; font-family: 'DejaVu Sans', sans-serif">:</tspan><tspan x="35.175" y="2.085938" style="font-style: oblique; font-size: 11.76px; font-family: 'DejaVu Sans', sans-serif">C</tspan><tspan x="43.36189" y="4.038281" style="font-style: oblique; font-size: 8.232px; font-family: 'DejaVu Sans', sans-serif">D</tspan><tspan x="52.29153" y="2.085938" style="font-size: 11.76px; font-family: 'DejaVu Sans', sans-serif">−</tspan><tspan x="64.400111" y="2.085938" style="font-style: oblique; font-size: 11.76px; font-family: 'DejaVu Sans', sans-serif">R</tspan><tspan x="72.546925" y="2.085938" style="font-size: 11.76px; font-family: 'DejaVu Sans', sans-serif">9</tspan><tspan x="82.291041" y="2.085938" style="font-size: 11.76px; font-family: 'DejaVu Sans', sans-serif">:</tspan><tspan x="88.525673" y="2.085938" style="font-style: oblique; font-size: 11.76px; font-family: 'DejaVu Sans', sans-serif">N</tspan><tspan x="97.296522" y="4.038281" style="font-style: oblique; font-size: 8.232px; font-family: 'DejaVu Sans', sans-serif">H</tspan><tspan x="103.468177" y="4.038281" style="font-size: 8.232px; font-family: 'DejaVu Sans', sans-serif">1</tspan><tspan x="111.299744" y="2.085938" style="font-size: 11.76px; font-family: 'DejaVu Sans', sans-serif">−</tspan><tspan x="123.408325" y="2.085938" style="font-style: oblique; font-size: 11.76px; font-family: 'DejaVu Sans', sans-serif">R</tspan><tspan x="131.555139" y="2.085938" style="font-size: 11.76px; font-family: 'DejaVu Sans', sans-serif">9</tspan><tspan x="141.299255" y="2.085938" style="font-size: 11.76px; font-family: 'DejaVu Sans', sans-serif">:</tspan><tspan x="147.533887" y="2.085938" style="font-style: oblique; font-size: 11.76px; font-family: 'DejaVu Sans', sans-serif">N</tspan><tspan x="156.304736" y="4.038281" style="font-style: oblique; font-size: 8.232px; font-family: 'DejaVu Sans', sans-serif">H</tspan><tspan x="162.476392" y="4.038281" style="font-size: 8.232px; font-family: 'DejaVu Sans', sans-serif">2</tspan><tspan x="170.307958" y="2.085938" style="font-size: 11.76px; font-family: 'DejaVu Sans', sans-serif">−</tspan><tspan x="182.416539" y="2.085938" style="font-style: oblique; font-size: 11.76px; font-family: 'DejaVu Sans', sans-serif">R</tspan><tspan x="190.563353" y="2.085938" style="font-size: 11.76px; font-family: 'DejaVu Sans', sans-serif">9</tspan><tspan x="200.307469" y="2.085938" style="font-size: 11.76px; font-family: 'DejaVu Sans', sans-serif">:</tspan><tspan x="206.542101" y="2.085938" style="font-style: oblique; font-size: 11.76px; font-family: 'DejaVu Sans', sans-serif">O</tspan></text>
     </g>
    </g>
   </g>
   <g id="matplotlib.axis_24">
    <g id="ytick_65">
     <g id="line2d_216">
      <g>
       <path d="M 0 0 L 7 0" transform="translate(857.1 982)" style="stroke: #000000; stroke-width: 1.5"/>
      </g>
     </g>
     <g id="line2d_217">
      <g>
       <path d="M 0 0 L -7 0" transform="translate(1037.3 982)" style="stroke: #000000; stroke-width: 1.5"/>
      </g>
     </g>
     <g id="text_120">
      <text style="font-size: 16px; font-family: 'DejaVu Sans', sans-serif; text-anchor: end" x="851.7" y="988.07875" transform="translate(851.7 988.07875) scale(1.02 1) translate(-851.7 -988.07875)">0.000</text>
     </g>
    </g>
    <g id="ytick_66">
     <g id="line2d_218">
      <g>
       <path d="M 0 0 L 7 0" transform="translate(857.1 935.578092)" style="stroke: #000000; stroke-width: 1.5"/>
      </g>
     </g>
     <g id="line2d_219">
      <g>
       <path d="M 0 0 L -7 0" transform="translate(1037.3 935.578092)" style="stroke: #000000; stroke-width: 1.5"/>
      </g>
     </g>
     <g id="text_121">
      <text style="font-size: 16px; font-family: 'DejaVu Sans', sans-serif; text-anchor: end" x="851.7" y="941.656842" transform="translate(851.7 941.656842) scale(1.02 1) translate(-851.7 -941.656842)">0.001</text>
     </g>
    </g>
    <g id="ytick_67">
     <g id="line2d_220">
      <g>
       <path d="M 0 0 L 7 0" transform="translate(857.1 889.156184)" style="stroke: #000000; stroke-width: 1.5"/>
      </g>
     </g>
     <g id="line2d_221">
      <g>
       <path d="M 0 0 L -7 0" transform="translate(1037.3 889.156184)" style="stroke: #000000; stroke-width: 1.5"/>
      </g>
     </g>
     <g id="text_122">
      <text style="font-size: 16px; font-family: 'DejaVu Sans', sans-serif; text-anchor: end" x="851.7" y="895.234934" transform="translate(851.7 895.234934) scale(1.02 1) translate(-851.7 -895.234934)">0.002</text>
     </g>
    </g>
    <g id="ytick_68">
     <g id="line2d_222">
      <g>
       <path d="M 0 0 L 7 0" transform="translate(857.1 842.734276)" style="stroke: #000000; stroke-width: 1.5"/>
      </g>
     </g>
     <g id="line2d_223">
      <g>
       <path d="M 0 0 L -7 0" transform="translate(1037.3 842.734276)" style="stroke: #000000; stroke-width: 1.5"/>
      </g>
     </g>
     <g id="text_123">
      <text style="font-size: 16px; font-family: 'DejaVu Sans', sans-serif; text-anchor: end" x="851.7" y="848.813026" transform="translate(851.7 848.813026) scale(1.02 1) translate(-851.7 -848.813026)">0.003</text>
     </g>
    </g>
    <g id="ytick_69">
     <g id="line2d_224">
      <g>
       <path d="M 0 0 L 7 0" transform="translate(857.1 796.312368)" style="stroke: #000000; stroke-width: 1.5"/>
      </g>
     </g>
     <g id="line2d_225">
      <g>
       <path d="M 0 0 L -7 0" transform="translate(1037.3 796.312368)" style="stroke: #000000; stroke-width: 1.5"/>
      </g>
     </g>
     <g id="text_124">
      <text style="font-size: 16px; font-family: 'DejaVu Sans', sans-serif; text-anchor: end" x="851.7" y="802.391118" transform="translate(851.7 802.391118) scale(1.02 1) translate(-851.7 -802.391118)">0.004</text>
     </g>
    </g>
    <g id="ytick_70">
     <g id="line2d_226">
      <g>
       <path d="M 0 0 L 7 0" transform="translate(857.1 749.89046)" style="stroke: #000000; stroke-width: 1.5"/>
      </g>
     </g>
     <g id="line2d_227">
      <g>
       <path d="M 0 0 L -7 0" transform="translate(1037.3 749.89046)" style="stroke: #000000; stroke-width: 1.5"/>
      </g>
     </g>
     <g id="text_125">
      <text style="font-size: 16px; font-family: 'DejaVu Sans', sans-serif; text-anchor: end" x="851.7" y="755.96921" transform="translate(851.7 755.96921) scale(1.02 1) translate(-851.7 -755.96921)">0.005</text>
     </g>
    </g>
   </g>
   <g id="patch_81">
    <path d="M 857.2 982 L 863.2 981.9 L 864.2 981.8 L 865.1 981.7 L 866.1 981.5 L 867.1 981.2 L 868.1 980.8 L 869.1 980.4 L 870.1 979.9 L 871.1 979.3 L 872.1 978.8 L 873.1 978.1 L 874.1 977.3 L 875.1 976.2 L 876.1 975 L 877.1 973.5 L 878.1 971.9 L 879.1 970.1 L 880.1 968.2 L 881.1 966.1 L 882.1 963.8 L 883.1 961.3 L 884.1 958.4 L 885.1 955.2 L 886.1 951.7 L 887.1 948 L 888.1 944.1 L 889.1 939.9 L 890.1 935.3 L 891.1 930.3 L 892.1 925.1 L 893 919.8 L 894 914.6 L 895 909.3 L 896 903.9 L 897 898.7 L 898 893.8 L 899 889.5 L 900 885.8 L 901 882.4 L 902 879.5 L 903 877.1 L 904 875.5 L 905 874.5 L 906 873.9 L 907 873.4 L 908 873.2 L 909 873.2 L 910 873.5 L 911 874 L 912 874.9 L 913 876.1 L 914 878 L 915 881 L 916 885.1 L 917 889.8 L 918 894.8 L 919 900 L 920 905.4 L 920.9 911 L 921.9 916.7 L 922.9 922.3 L 923.9 927.7 L 924.9 933.1 L 925.9 938.3 L 926.9 943.3 L 927.9 947.9 L 928.9 952 L 929.9 955.8 L 930.9 959.2 L 931.9 962.3 L 932.9 965.1 L 933.9 967.4 L 934.9 969.3 L 935.9 971 L 936.9 972.5 L 937.9 973.8 L 938.9 974.9 L 939.9 975.9 L 940.9 976.6 L 941.9 977.1 L 942.9 977.5 L 943.9 977.8 L 944.9 978 L 945.9 978.2 L 946.9 978.2 L 947.8 978 L 948.8 977.6 L 949.8 976.9 L 950.8 976.1 L 951.8 975.1 L 952.8 974 L 953.8 972.8 L 954.8 971.5 L 955.8 970 L 956.8 968.2 L 957.8 966.2 L 958.8 963.9 L 959.8 961.3 L 960.8 958.3 L 961.8 954.7 L 962.8 950.2 L 963.8 944.8 L 964.8 938.4 L 965.8 931.3 L 966.8 923.1 L 967.8 913.6 L 968.8 902.5 L 969.8 890.6 L 970.8 878.6 L 971.8 866.7 L 972.8 854.8 L 973.8 842.3 L 974.8 828.6 L 975.7 813.5 L 976.7 798.4 L 977.7 784.9 L 978.7 773.6 L 979.7 764.1 L 980.7 756.1 L 981.7 749.3 L 982.7 743.7 L 983.7 738.9 L 984.7 735.2 L 985.7 732.5 L 986.7 730.6 L 987.7 729.6 L 988.7 729.7 L 989.7 730.8 L 990.7 732.8 L 991.7 736 L 992.7 740.5 L 993.7 746.2 L 994.7 752.8 L 995.7 760.4 L 996.7 769.3 L 997.7 779.5 L 998.7 791.7 L 999.7 806.2 L 1000.7 822.4 L 1001.7 838.4 L 1002.7 853.1 L 1003.6 866.6 L 1004.6 879 L 1005.6 890.4 L 1006.6 900.7 L 1007.6 910.2 L 1008.6 919 L 1009.6 927.2 L 1010.6 934.8 L 1011.6 941.9 L 1012.6 948.2 L 1013.6 953.7 L 1014.6 958.4 L 1015.6 962.7 L 1016.6 966.5 L 1017.6 969.7 L 1018.6 972.4 L 1019.6 974.4 L 1020.6 976.2 L 1021.6 977.7 L 1022.6 979 L 1023.6 980.1 L 1024.6 981 L 1025.6 981.6 L 1026.6 981.8 L 1032.6 982 L 1032.6 982 z" clip-path="url(#p30204097ab)" style="fill: #ff0000; opacity: 0.25"/>
   </g>
   <g id="line2d_228">
    <path d="M 857.2 982 L 864.2 981.8 L 866.1 981.5 L 868.1 980.8 L 870.1 979.9 L 872.1 978.8 L 873.1 978.1 L 874.1 977.3 L 875.1 976.2 L 876.1 975 L 878.1 971.9 L 880.1 968.2 L 882.1 963.8 L 883.1 961.3 L 885.1 955.2 L 887.1 948 L 889.1 939.9 L 891.1 930.3 L 898 893.8 L 899 889.5 L 901 882.4 L 902 879.5 L 903 877.1 L 904 875.5 L 905 874.5 L 906 873.9 L 907 873.4 L 908 873.2 L 909 873.2 L 910 873.5 L 911 874 L 912 874.9 L 913 876.1 L 914 878 L 915 881 L 916 885.1 L 918 894.8 L 920 905.4 L 924.9 933.1 L 926.9 943.3 L 928.9 952 L 930.9 959.2 L 931.9 962.3 L 932.9 965.1 L 933.9 967.4 L 934.9 969.3 L 936.9 972.5 L 937.9 973.8 L 938.9 974.9 L 939.9 975.9 L 940.9 976.6 L 942.9 977.5 L 944.9 978 L 945.9 978.2 L 946.9 978.2 L 947.8 978 L 948.8 977.6 L 949.8 976.9 L 951.8 975.1 L 953.8 972.8 L 954.8 971.5 L 955.8 970 L 956.8 968.2 L 957.8 966.2 L 958.8 963.9 L 959.8 961.3 L 960.8 958.3 L 961.8 954.7 L 962.8 950.2 L 963.8 944.8 L 964.8 938.4 L 965.8 931.3 L 966.8 923.1 L 967.8 913.6 L 969.8 890.6 L 973.8 842.3 L 975.7 813.5 L 977.7 784.9 L 978.7 773.6 L 979.7 764.1 L 980.7 756.1 L 981.7 749.3 L 982.7 743.7 L 983.7 738.9 L 984.7 735.2 L 985.7 732.5 L 986.7 730.6 L 987.7 729.6 L 988.7 729.7 L 989.7 730.8 L 990.7 732.8 L 991.7 736 L 992.7 740.5 L 993.7 746.2 L 994.7 752.8 L 995.7 760.4 L 996.7 769.3 L 997.7 779.5 L 998.7 791.7 L 999.7 806.2 L 1002.7 853.1 L 1004.6 879 L 1006.6 900.7 L 1008.6 919 L 1010.6 934.8 L 1012.6 948.2 L 1013.6 953.7 L 1015.6 962.7 L 1016.6 966.5 L 1017.6 969.7 L 1018.6 972.4 L 1019.6 974.4 L 1021.6 977.7 L 1022.6 979 L 1023.6 980.1 L 1024.6 981 L 1025.6 981.6 L 1026.6 981.8 L 1032.6 982 L 1032.6 982" clip-path="url(#p30204097ab)" style="fill: none; stroke: #e0203c; stroke-width: 1.55; stroke-linecap: square"/>
   </g>
   <g id="text_126">
    <text style="font-size: 16.5px; font-family: 'DejaVu Sans', sans-serif; text-anchor: start" x="865.1" y="743.596125" transform="translate(865.1 743.596125) scale(1.03 1) translate(-865.1 -743.596125)">(l)</text>
   </g>
   <g id="patch_82">
    <path d="M 857.1 982 L 857.1 716.6" style="fill: none; stroke: #000000; stroke-width: 2.2; stroke-linejoin: miter; stroke-linecap: square"/>
   </g>
   <g id="patch_83">
    <path d="M 1037.3 982 L 1037.3 716.6" style="fill: none; stroke: #000000; stroke-width: 2.2; stroke-linejoin: miter; stroke-linecap: square"/>
   </g>
   <g id="patch_84">
    <path d="M 857.1 982 L 1037.3 982" style="fill: none; stroke: #000000; stroke-width: 2.2; stroke-linejoin: miter; stroke-linecap: square"/>
   </g>
   <g id="patch_85">
    <path d="M 857.1 716.6 L 1037.3 716.6" style="fill: none; stroke: #000000; stroke-width: 2.2; stroke-linejoin: miter; stroke-linecap: square"/>
   </g>
  </g>
 </g>
 <defs>
  <clipPath id="p1c7ab770ff">
   <rect x="99.5" y="51.2" width="180.2" height="265.6"/>
  </clipPath>
  <clipPath id="pcd737baae6">
   <rect x="352" y="51.2" width="180.2" height="265.6"/>
  </clipPath>
  <clipPath id="p1dd4483c38">
   <rect x="604.6" y="51.2" width="180.2" height="265.6"/>
  </clipPath>
  <clipPath id="pf6448be936">
   <rect x="857.1" y="51.2" width="180.2" height="265.6"/>
  </clipPath>
  <clipPath id="pfe638e4063">
   <rect x="99.5" y="383.5" width="180.2" height="265.6"/>
  </clipPath>
  <clipPath id="pc96ba9d13e">
   <rect x="352" y="383.5" width="180.2" height="265.6"/>
  </clipPath>
  <clipPath id="pa0f1404e85">
   <rect x="604.6" y="383.5" width="180.2" height="265.6"/>
  </clipPath>
  <clipPath id="p261e472b13">
   <rect x="857.1" y="383.5" width="180.2" height="265.6"/>
  </clipPath>
  <clipPath id="p24e10c5cca">
   <rect x="99.5" y="716.6" width="180.2" height="265.4"/>
  </clipPath>
  <clipPath id="p1db8a95b34">
   <rect x="352" y="716.6" width="180.2" height="265.4"/>
  </clipPath>
  <clipPath id="p99a3a5b7c4">
   <rect x="604.6" y="716.6" width="180.2" height="265.4"/>
  </clipPath>
  <clipPath id="p30204097ab">
   <rect x="857.1" y="716.6" width="180.2" height="265.4"/>
  </clipPath>
 </defs>

<g id="legend" font-family="Carlito, 'Liberation Sans', sans-serif">
 <rect x="404.5" y="11" width="33.5" height="11" fill="#b4b4f5" stroke="#3535c8" stroke-width="1.6"/>
 <text x="473.5" y="22.2" font-size="17" letter-spacing="1.15" word-spacing="-1.5" fill="#000">Test set</text>
 <rect x="579.5" y="11" width="33.5" height="11" fill="#f8b8b8" stroke="#d83848" stroke-width="1.6"/>
 <text x="638.3" y="22.2" font-size="17" letter-spacing="0.4" fill="#000">Graph-NAE</text>
 <text transform="translate(25.3,479.5) rotate(-90)" font-size="22" letter-spacing="0.9" text-anchor="middle" fill="#000">Density</text>
</g>
</svg>

</body></html>
